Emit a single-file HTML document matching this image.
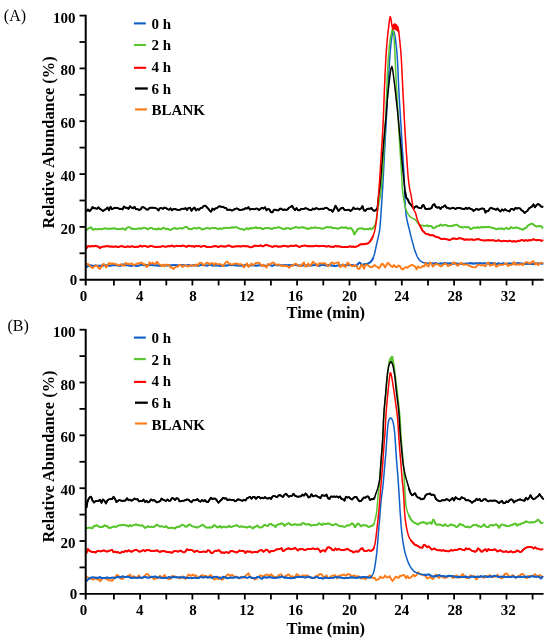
<!DOCTYPE html>
<html lang="en"><head><meta charset="utf-8"><title>Relative Abundance vs Time</title>
<style>
html,body{margin:0;padding:0;background:#fff;}
body{width:550px;height:644px;overflow:hidden;}
svg{display:block;}
text{font-family:"Liberation Serif","Times New Roman",Times,serif;fill:#000;}
.tk{font-size:15px;font-weight:bold;}
.tt{font-size:16.4px;font-weight:bold;}
.lg{font-size:15px;font-weight:bold;}
.pl{font-size:16px;font-weight:normal;}
</style></head><body>
<svg width="550" height="644" viewBox="0 0 550 644">
<rect width="550" height="644" fill="#ffffff"/>
<text x="3.8" y="21.3" class="pl">(A)</text>
<text x="7.4" y="331.3" class="pl">(B)</text>
<g id="chartA">
<path d="M86.5,267.0 L87.2,266.6 L88.0,266.2 L88.8,265.8 L89.5,265.7 L90.2,265.5 L91.0,265.3 L91.8,265.6 L92.5,265.8 L93.2,265.8 L94.0,265.8 L94.8,265.6 L95.5,265.5 L96.2,265.6 L97.0,265.8 L97.8,265.8 L98.5,265.8 L99.2,265.7 L100.0,265.7 L100.8,265.6 L101.5,265.6 L102.2,265.6 L103.0,265.6 L103.8,265.4 L104.5,265.3 L105.2,265.3 L106.0,265.4 L106.8,265.4 L107.5,265.4 L108.2,265.6 L109.0,265.7 L109.8,265.7 L110.5,265.6 L111.2,265.5 L112.0,265.4 L112.8,265.3 L113.5,265.2 L114.2,265.3 L115.0,265.3 L115.8,265.3 L116.5,265.3 L117.2,265.4 L118.0,265.4 L118.8,265.6 L119.5,265.8 L120.2,265.7 L121.0,265.6 L121.8,265.0 L122.5,264.5 L123.2,264.5 L124.0,264.6 L124.8,264.9 L125.5,265.2 L126.2,265.2 L127.0,265.2 L127.8,265.3 L128.5,265.4 L129.2,265.5 L130.0,265.6 L130.8,265.8 L131.5,266.0 L132.2,265.6 L133.0,265.2 L133.8,265.3 L134.5,265.3 L135.2,265.7 L136.0,266.0 L136.8,265.9 L137.5,265.7 L138.2,265.6 L139.0,265.5 L139.8,265.3 L140.5,265.1 L141.2,264.9 L142.0,264.8 L142.8,265.0 L143.5,265.3 L144.2,265.3 L145.0,265.3 L145.8,265.2 L146.5,265.0 L147.2,265.0 L148.0,265.1 L148.8,265.1 L149.5,265.2 L150.2,265.1 L151.0,265.0 L151.8,265.1 L152.5,265.2 L153.2,265.3 L154.0,265.3 L154.8,265.4 L155.5,265.4 L156.2,265.4 L157.0,265.3 L157.8,265.5 L158.5,265.7 L159.2,265.8 L160.0,265.8 L160.8,265.7 L161.5,265.6 L162.2,265.4 L163.0,265.2 L163.8,265.4 L164.5,265.5 L165.2,265.4 L166.0,265.3 L166.8,265.4 L167.5,265.5 L168.2,265.3 L169.0,265.1 L169.8,265.3 L170.5,265.5 L171.2,265.4 L172.0,265.3 L172.8,265.1 L173.5,264.9 L174.2,265.0 L175.0,265.2 L175.8,265.2 L176.5,265.3 L177.2,265.3 L178.0,265.4 L178.8,265.2 L179.5,265.0 L180.2,265.0 L181.0,265.0 L181.8,265.1 L182.5,265.3 L183.2,265.3 L184.0,265.3 L184.8,265.4 L185.5,265.5 L186.2,265.5 L187.0,265.5 L187.8,265.2 L188.5,264.9 L189.2,265.2 L190.0,265.4 L190.8,265.6 L191.5,265.7 L192.2,265.5 L193.0,265.3 L193.8,265.2 L194.5,265.1 L195.2,265.3 L196.0,265.5 L196.8,265.5 L197.5,265.5 L198.2,265.5 L199.0,265.6 L199.8,265.4 L200.5,265.2 L201.2,265.0 L202.0,264.9 L202.8,265.0 L203.5,265.2 L204.2,265.2 L205.0,265.3 L205.8,265.4 L206.5,265.6 L207.2,265.5 L208.0,265.4 L208.8,265.1 L209.5,264.8 L210.2,264.9 L211.0,265.0 L211.8,265.3 L212.5,265.6 L213.2,265.6 L214.0,265.6 L214.8,265.4 L215.5,265.3 L216.2,265.4 L217.0,265.4 L217.8,265.5 L218.5,265.6 L219.2,265.7 L220.0,265.7 L220.8,265.8 L221.5,265.8 L222.2,265.7 L223.0,265.6 L223.8,265.5 L224.5,265.5 L225.2,265.5 L226.0,265.5 L226.8,265.5 L227.5,265.6 L228.2,265.2 L229.0,264.8 L229.8,265.0 L230.5,265.2 L231.2,265.3 L232.0,265.3 L232.8,265.2 L233.5,265.0 L234.2,265.2 L235.0,265.4 L235.8,265.4 L236.5,265.3 L237.2,265.5 L238.0,265.6 L238.8,265.5 L239.5,265.4 L240.2,265.5 L241.0,265.6 L241.8,265.7 L242.5,265.7 L243.2,265.6 L244.0,265.5 L244.8,265.2 L245.5,265.0 L246.2,265.0 L247.0,265.0 L247.8,265.4 L248.5,265.9 L249.2,265.7 L250.0,265.5 L250.8,265.3 L251.5,265.2 L252.2,265.3 L253.0,265.4 L253.8,265.4 L254.5,265.4 L255.2,265.5 L256.0,265.7 L256.8,265.6 L257.5,265.5 L258.2,265.4 L259.0,265.4 L259.8,265.3 L260.5,265.3 L261.2,265.4 L262.0,265.5 L262.8,265.4 L263.5,265.3 L264.2,265.5 L265.0,265.8 L265.8,265.9 L266.5,265.9 L267.2,265.4 L268.0,264.9 L268.8,264.8 L269.5,264.6 L270.2,265.0 L271.0,265.5 L271.8,265.7 L272.5,265.9 L273.2,265.5 L274.0,265.0 L274.8,265.0 L275.5,264.9 L276.2,265.2 L277.0,265.4 L277.8,265.3 L278.5,265.2 L279.2,265.2 L280.0,265.2 L280.8,265.2 L281.5,265.3 L282.2,265.4 L283.0,265.4 L283.8,265.3 L284.5,265.2 L285.2,265.3 L286.0,265.4 L286.8,265.3 L287.5,265.3 L288.2,265.2 L289.0,265.1 L289.8,265.2 L290.5,265.2 L291.2,265.2 L292.0,265.1 L292.8,265.2 L293.5,265.2 L294.2,265.1 L295.0,264.9 L295.8,264.9 L296.5,265.0 L297.2,265.3 L298.0,265.7 L298.8,265.5 L299.5,265.4 L300.2,265.4 L301.0,265.4 L301.8,265.4 L302.5,265.5 L303.2,265.4 L304.0,265.3 L304.8,265.3 L305.5,265.3 L306.2,265.4 L307.0,265.5 L307.8,265.5 L308.5,265.5 L309.2,265.3 L310.0,265.1 L310.8,265.4 L311.5,265.6 L312.2,265.4 L313.0,265.3 L313.8,265.1 L314.5,265.0 L315.2,265.1 L316.0,265.1 L316.8,265.2 L317.5,265.4 L318.2,265.6 L319.0,265.8 L319.8,265.5 L320.5,265.2 L321.2,265.2 L322.0,265.2 L322.8,265.0 L323.5,264.7 L324.2,265.0 L325.0,265.3 L325.8,265.4 L326.5,265.6 L327.2,265.4 L328.0,265.3 L328.8,265.2 L329.5,265.1 L330.2,265.3 L331.0,265.4 L331.8,265.5 L332.5,265.6 L333.2,265.7 L334.0,265.8 L334.8,265.9 L335.5,266.1 L336.2,265.8 L337.0,265.6 L337.8,265.5 L338.5,265.3 L339.2,265.3 L340.0,265.4 L340.8,265.4 L341.5,265.4 L342.2,265.4 L343.0,265.4 L343.8,265.4 L344.5,265.4 L345.2,265.3 L346.0,265.3 L346.8,265.1 L347.5,264.9 L348.2,265.1 L349.0,265.3 L349.8,265.2 L350.5,265.0 L351.2,264.9 L352.0,264.9 L352.8,265.1 L353.5,265.4 L354.2,265.6 L355.0,265.7 L355.8,265.6 L356.5,265.4 L357.2,264.8 L358.0,263.9 L358.8,263.1 L359.5,262.6 L360.2,263.0 L361.0,264.0 L361.8,264.5 L362.5,264.9 L363.2,264.7 L364.0,264.3 L364.8,264.2 L365.5,264.1 L366.2,264.1 L367.0,264.0 L367.8,263.7 L368.5,263.2 L369.2,262.9 L370.0,262.4 L370.8,261.7 L371.5,260.9 L372.2,259.8 L373.0,258.3 L373.8,256.3 L374.5,254.0 L375.2,250.9 L376.0,247.0 L376.8,243.4 L377.5,240.4 L378.2,237.4 L379.0,233.7 L379.8,228.9 L380.5,220.8 L381.2,210.1 L382.0,198.0 L382.8,186.0 L383.5,172.8 L384.2,158.5 L385.0,143.9 L385.8,129.6 L386.5,115.7 L387.2,101.2 L388.0,86.9 L388.8,73.3 L389.5,61.4 L390.2,51.7 L391.0,43.4 L391.8,37.5 L392.5,32.9 L393.2,30.5 L394.0,31.8 L394.8,35.1 L395.5,39.3 L396.2,45.3 L397.0,53.5 L397.8,66.1 L398.5,83.0 L399.2,97.0 L400.0,110.0 L400.8,122.9 L401.5,135.1 L402.2,146.7 L403.0,158.4 L403.8,171.1 L404.5,185.7 L405.2,206.2 L406.0,214.5 L406.8,218.8 L407.5,222.3 L408.2,225.2 L409.0,228.3 L409.8,231.4 L410.5,234.4 L411.2,237.4 L412.0,240.2 L412.8,243.1 L413.5,245.9 L414.2,248.5 L415.0,250.9 L415.8,252.9 L416.5,254.8 L417.2,256.5 L418.0,258.0 L418.8,259.2 L419.5,260.0 L420.2,260.8 L421.0,261.4 L421.8,261.9 L422.5,262.2 L423.2,262.5 L424.0,262.7 L424.8,262.8 L425.5,263.0 L426.2,263.1 L427.0,263.2 L427.8,263.2 L428.5,263.3 L429.2,263.3 L430.0,263.3 L430.8,263.4 L431.5,263.4 L432.2,263.5 L433.0,263.5 L433.8,263.5 L434.5,263.4 L435.2,263.3 L436.0,263.0 L436.8,263.4 L437.5,263.7 L438.2,263.7 L439.0,263.7 L439.8,263.5 L440.5,263.3 L441.2,263.5 L442.0,263.7 L442.8,263.5 L443.5,263.3 L444.2,263.2 L445.0,263.2 L445.8,263.3 L446.5,263.4 L447.2,263.5 L448.0,263.5 L448.8,263.5 L449.5,263.5 L450.2,263.4 L451.0,263.2 L451.8,263.6 L452.5,264.0 L453.2,263.8 L454.0,263.5 L454.8,263.3 L455.5,263.2 L456.2,263.5 L457.0,263.7 L457.8,263.7 L458.5,263.6 L459.2,263.7 L460.0,263.8 L460.8,263.7 L461.5,263.6 L462.2,263.7 L463.0,263.7 L463.8,263.8 L464.5,263.8 L465.2,263.7 L466.0,263.5 L466.8,263.6 L467.5,263.7 L468.2,263.6 L469.0,263.4 L469.8,263.3 L470.5,263.2 L471.2,263.3 L472.0,263.5 L472.8,263.5 L473.5,263.6 L474.2,263.5 L475.0,263.4 L475.8,263.4 L476.5,263.3 L477.2,263.5 L478.0,263.6 L478.8,263.3 L479.5,263.1 L480.2,263.2 L481.0,263.3 L481.8,263.4 L482.5,263.6 L483.2,263.4 L484.0,263.3 L484.8,263.4 L485.5,263.5 L486.2,263.5 L487.0,263.6 L487.8,263.6 L488.5,263.7 L489.2,263.5 L490.0,263.2 L490.8,263.2 L491.5,263.3 L492.2,263.3 L493.0,263.4 L493.8,263.2 L494.5,263.0 L495.2,263.6 L496.0,264.3 L496.8,263.9 L497.5,263.5 L498.2,263.5 L499.0,263.4 L499.8,263.6 L500.5,263.9 L501.2,263.7 L502.0,263.6 L502.8,263.4 L503.5,263.2 L504.2,263.5 L505.0,263.8 L505.8,263.9 L506.5,264.0 L507.2,263.8 L508.0,263.6 L508.8,263.5 L509.5,263.5 L510.2,263.6 L511.0,263.6 L511.8,263.5 L512.5,263.3 L513.2,263.5 L514.0,263.7 L514.8,263.6 L515.5,263.6 L516.2,263.5 L517.0,263.3 L517.8,263.3 L518.5,263.2 L519.2,263.3 L520.0,263.4 L520.8,263.4 L521.5,263.4 L522.2,263.6 L523.0,263.9 L523.8,263.8 L524.5,263.8 L525.2,263.8 L526.0,263.9 L526.8,263.8 L527.5,263.8 L528.2,263.8 L529.0,263.7 L529.8,263.7 L530.5,263.6 L531.2,263.8 L532.0,264.0 L532.8,264.1 L533.5,264.2 L534.2,263.9 L535.0,263.6 L535.8,263.5 L536.5,263.4 L537.2,263.4 L538.0,263.5 L538.8,263.5 L539.5,263.4 L540.2,263.4 L541.0,263.4 L541.8,263.5 L542.5,263.7" fill="none" stroke="#0f5fc8" stroke-width="1.5" stroke-linejoin="round" stroke-linecap="round"/><path d="M86.5,267.0 L87.2,266.6 L88.0,266.2 L88.8,265.8 L89.5,265.7 L90.2,265.5 L91.0,265.3 L91.8,265.6 L92.5,265.8 L93.2,265.8 L94.0,265.8 L94.8,265.6 L95.5,265.5 L96.2,265.6 L97.0,265.8 L97.8,265.8 L98.5,265.8 L99.2,265.7 L100.0,265.7 L100.8,265.6 L101.5,265.6 L102.2,265.6 L103.0,265.6 L103.8,265.4 L104.5,265.3 L105.2,265.3 L106.0,265.4 L106.8,265.4 L107.5,265.4 L108.2,265.6 L109.0,265.7 L109.8,265.7 L110.5,265.6 L111.2,265.5 L112.0,265.4 L112.8,265.3 L113.5,265.2 L114.2,265.3 L115.0,265.3 L115.8,265.3 L116.5,265.3 L117.2,265.4 L118.0,265.4 L118.8,265.6 L119.5,265.8 L120.2,265.7 L121.0,265.6 L121.8,265.0 L122.5,264.5 L123.2,264.5 L124.0,264.6 L124.8,264.9 L125.5,265.2 L126.2,265.2 L127.0,265.2 L127.8,265.3 L128.5,265.4 L129.2,265.5 L130.0,265.6 L130.8,265.8 L131.5,266.0 L132.2,265.6 L133.0,265.2 L133.8,265.3 L134.5,265.3 L135.2,265.7 L136.0,266.0 L136.8,265.9 L137.5,265.7 L138.2,265.6 L139.0,265.5 L139.8,265.3 L140.5,265.1 L141.2,264.9 L142.0,264.8 L142.8,265.0 L143.5,265.3 L144.2,265.3 L145.0,265.3 L145.8,265.2 L146.5,265.0 L147.2,265.0 L148.0,265.1 L148.8,265.1 L149.5,265.2 L150.2,265.1 L151.0,265.0 L151.8,265.1 L152.5,265.2 L153.2,265.3 L154.0,265.3 L154.8,265.4 L155.5,265.4 L156.2,265.4 L157.0,265.3 L157.8,265.5 L158.5,265.7 L159.2,265.8 L160.0,265.8 L160.8,265.7 L161.5,265.6 L162.2,265.4 L163.0,265.2 L163.8,265.4 L164.5,265.5 L165.2,265.4 L166.0,265.3 L166.8,265.4 L167.5,265.5 L168.2,265.3 L169.0,265.1 L169.8,265.3 L170.5,265.5 L171.2,265.4 L172.0,265.3 L172.8,265.1 L173.5,264.9 L174.2,265.0 L175.0,265.2 L175.8,265.2 L176.5,265.3 L177.2,265.3 L178.0,265.4 L178.8,265.2 L179.5,265.0 L180.2,265.0 L181.0,265.0 L181.8,265.1 L182.5,265.3 L183.2,265.3 L184.0,265.3 L184.8,265.4 L185.5,265.5 L186.2,265.5 L187.0,265.5 L187.8,265.2 L188.5,264.9 L189.2,265.2 L190.0,265.4 L190.8,265.6 L191.5,265.7 L192.2,265.5 L193.0,265.3 L193.8,265.2 L194.5,265.1 L195.2,265.3 L196.0,265.5 L196.8,265.5 L197.5,265.5 L198.2,265.5 L199.0,265.6 L199.8,265.4 L200.5,265.2 L201.2,265.0 L202.0,264.9 L202.8,265.0 L203.5,265.2 L204.2,265.2 L205.0,265.3 L205.8,265.4 L206.5,265.6 L207.2,265.5 L208.0,265.4 L208.8,265.1 L209.5,264.8 L210.2,264.9 L211.0,265.0 L211.8,265.3 L212.5,265.6 L213.2,265.6 L214.0,265.6 L214.8,265.4 L215.5,265.3 L216.2,265.4 L217.0,265.4 L217.8,265.5 L218.5,265.6 L219.2,265.7 L220.0,265.7 L220.8,265.8 L221.5,265.8 L222.2,265.7 L223.0,265.6 L223.8,265.5 L224.5,265.5 L225.2,265.5 L226.0,265.5 L226.8,265.5 L227.5,265.6 L228.2,265.2 L229.0,264.8 L229.8,265.0 L230.5,265.2 L231.2,265.3 L232.0,265.3 L232.8,265.2 L233.5,265.0 L234.2,265.2 L235.0,265.4 L235.8,265.4 L236.5,265.3 L237.2,265.5 L238.0,265.6 L238.8,265.5 L239.5,265.4 L240.2,265.5 L241.0,265.6 L241.8,265.7 L242.5,265.7 L243.2,265.6 L244.0,265.5 L244.8,265.2 L245.5,265.0 L246.2,265.0 L247.0,265.0 L247.8,265.4 L248.5,265.9 L249.2,265.7 L250.0,265.5 L250.8,265.3 L251.5,265.2 L252.2,265.3 L253.0,265.4 L253.8,265.4 L254.5,265.4 L255.2,265.5 L256.0,265.7 L256.8,265.6 L257.5,265.5 L258.2,265.4 L259.0,265.4 L259.8,265.3 L260.5,265.3 L261.2,265.4 L262.0,265.5 L262.8,265.4 L263.5,265.3 L264.2,265.5 L265.0,265.8 L265.8,265.9 L266.5,265.9 L267.2,265.4 L268.0,264.9 L268.8,264.8 L269.5,264.6 L270.2,265.0 L271.0,265.5 L271.8,265.7 L272.5,265.9 L273.2,265.5 L274.0,265.0 L274.8,265.0 L275.5,264.9 L276.2,265.2 L277.0,265.4 L277.8,265.3 L278.5,265.2 L279.2,265.2 L280.0,265.2 L280.8,265.2 L281.5,265.3 L282.2,265.4 L283.0,265.4 L283.8,265.3 L284.5,265.2 L285.2,265.3 L286.0,265.4 L286.8,265.3 L287.5,265.3 L288.2,265.2 L289.0,265.1 L289.8,265.2 L290.5,265.2 L291.2,265.2 L292.0,265.1 L292.8,265.2 L293.5,265.2 L294.2,265.1 L295.0,264.9 L295.8,264.9 L296.5,265.0 L297.2,265.3 L298.0,265.7 L298.8,265.5 L299.5,265.4 L300.2,265.4 L301.0,265.4 L301.8,265.4 L302.5,265.5 L303.2,265.4 L304.0,265.3 L304.8,265.3 L305.5,265.3 L306.2,265.4 L307.0,265.5 L307.8,265.5 L308.5,265.5 L309.2,265.3 L310.0,265.1 L310.8,265.4 L311.5,265.6 L312.2,265.4 L313.0,265.3 L313.8,265.1 L314.5,265.0 L315.2,265.1 L316.0,265.1 L316.8,265.2 L317.5,265.4 L318.2,265.6 L319.0,265.8 L319.8,265.5 L320.5,265.2 L321.2,265.2 L322.0,265.2 L322.8,265.0 L323.5,264.7 L324.2,265.0 L325.0,265.3 L325.8,265.4 L326.5,265.6 L327.2,265.4 L328.0,265.3 L328.8,265.2 L329.5,265.1 L330.2,265.3 L331.0,265.4 L331.8,265.5 L332.5,265.6 L333.2,265.7 L334.0,265.8 L334.8,265.9 L335.5,266.1 L336.2,265.8 L337.0,265.6 L337.8,265.5 L338.5,265.3 L339.2,265.3 L340.0,265.4 L340.8,265.4 L341.5,265.4 L342.2,265.4 L343.0,265.4 L343.8,265.4 L344.5,265.4 L345.2,265.3 L346.0,265.3 L346.8,265.1 L347.5,264.9 L348.2,265.1 L349.0,265.3 L349.8,265.2 L350.5,265.0 L351.2,264.9 L352.0,264.9 L352.8,265.1 L353.5,265.4 L354.2,265.6 L355.0,265.7 L355.8,265.6 L356.5,265.4 L357.2,264.8 L358.0,263.9 L358.8,263.1 L359.5,262.6 L360.2,263.0 L361.0,264.0 L361.8,264.5 L362.5,264.9 L363.2,264.7 L364.0,264.3 L364.8,264.2 L365.5,264.1 L366.2,264.1 L367.0,264.0 L367.8,263.7 L368.5,263.2 L369.2,262.9 L370.0,262.4 L370.8,261.7 L371.5,260.9 L372.2,259.8 L373.0,258.3" fill="none" stroke="#0f5fc8" stroke-width="1.9" stroke-linejoin="round" stroke-linecap="round"/><path d="M431.5,263.4 L432.2,263.5 L433.0,263.5 L433.8,263.5 L434.5,263.4 L435.2,263.3 L436.0,263.0 L436.8,263.4 L437.5,263.7 L438.2,263.7 L439.0,263.7 L439.8,263.5 L440.5,263.3 L441.2,263.5 L442.0,263.7 L442.8,263.5 L443.5,263.3 L444.2,263.2 L445.0,263.2 L445.8,263.3 L446.5,263.4 L447.2,263.5 L448.0,263.5 L448.8,263.5 L449.5,263.5 L450.2,263.4 L451.0,263.2 L451.8,263.6 L452.5,264.0 L453.2,263.8 L454.0,263.5 L454.8,263.3 L455.5,263.2 L456.2,263.5 L457.0,263.7 L457.8,263.7 L458.5,263.6 L459.2,263.7 L460.0,263.8 L460.8,263.7 L461.5,263.6 L462.2,263.7 L463.0,263.7 L463.8,263.8 L464.5,263.8 L465.2,263.7 L466.0,263.5 L466.8,263.6 L467.5,263.7 L468.2,263.6 L469.0,263.4 L469.8,263.3 L470.5,263.2 L471.2,263.3 L472.0,263.5 L472.8,263.5 L473.5,263.6 L474.2,263.5 L475.0,263.4 L475.8,263.4 L476.5,263.3 L477.2,263.5 L478.0,263.6 L478.8,263.3 L479.5,263.1 L480.2,263.2 L481.0,263.3 L481.8,263.4 L482.5,263.6 L483.2,263.4 L484.0,263.3 L484.8,263.4 L485.5,263.5 L486.2,263.5 L487.0,263.6 L487.8,263.6 L488.5,263.7 L489.2,263.5 L490.0,263.2 L490.8,263.2 L491.5,263.3 L492.2,263.3 L493.0,263.4 L493.8,263.2 L494.5,263.0 L495.2,263.6 L496.0,264.3 L496.8,263.9 L497.5,263.5 L498.2,263.5 L499.0,263.4 L499.8,263.6 L500.5,263.9 L501.2,263.7 L502.0,263.6 L502.8,263.4 L503.5,263.2 L504.2,263.5 L505.0,263.8 L505.8,263.9 L506.5,264.0 L507.2,263.8 L508.0,263.6 L508.8,263.5 L509.5,263.5 L510.2,263.6 L511.0,263.6 L511.8,263.5 L512.5,263.3 L513.2,263.5 L514.0,263.7 L514.8,263.6 L515.5,263.6 L516.2,263.5 L517.0,263.3 L517.8,263.3 L518.5,263.2 L519.2,263.3 L520.0,263.4 L520.8,263.4 L521.5,263.4 L522.2,263.6 L523.0,263.9 L523.8,263.8 L524.5,263.8 L525.2,263.8 L526.0,263.9 L526.8,263.8 L527.5,263.8 L528.2,263.8 L529.0,263.7 L529.8,263.7 L530.5,263.6 L531.2,263.8 L532.0,264.0 L532.8,264.1 L533.5,264.2 L534.2,263.9 L535.0,263.6 L535.8,263.5 L536.5,263.4 L537.2,263.4 L538.0,263.5 L538.8,263.5 L539.5,263.4 L540.2,263.4 L541.0,263.4 L541.8,263.5 L542.5,263.7" fill="none" stroke="#0f5fc8" stroke-width="1.9" stroke-linejoin="round" stroke-linecap="round"/>
<path d="M86.5,230.2 L87.2,229.5 L88.0,228.8 L88.8,228.3 L89.5,228.1 L90.2,227.7 L91.0,227.3 L91.8,228.4 L92.5,229.5 L93.2,229.5 L94.0,229.5 L94.8,229.2 L95.5,228.8 L96.2,229.1 L97.0,229.4 L97.8,229.3 L98.5,229.2 L99.2,229.0 L100.0,228.8 L100.8,229.1 L101.5,229.4 L102.2,229.1 L103.0,228.7 L103.8,228.6 L104.5,228.4 L105.2,228.4 L106.0,228.3 L106.8,228.6 L107.5,228.9 L108.2,228.8 L109.0,228.8 L109.8,228.8 L110.5,228.9 L111.2,228.6 L112.0,228.4 L112.8,228.5 L113.5,228.6 L114.2,228.4 L115.0,228.3 L115.8,228.7 L116.5,229.2 L117.2,229.1 L118.0,229.0 L118.8,229.0 L119.5,229.0 L120.2,229.0 L121.0,228.9 L121.8,228.6 L122.5,228.3 L123.2,228.8 L124.0,229.3 L124.8,229.5 L125.5,229.8 L126.2,228.7 L127.0,227.7 L127.8,227.4 L128.5,227.1 L129.2,227.3 L130.0,227.5 L130.8,228.1 L131.5,228.8 L132.2,228.8 L133.0,228.7 L133.8,228.9 L134.5,229.1 L135.2,229.0 L136.0,229.0 L136.8,228.8 L137.5,228.6 L138.2,228.6 L139.0,228.5 L139.8,228.5 L140.5,228.4 L141.2,228.5 L142.0,228.7 L142.8,228.2 L143.5,227.7 L144.2,227.8 L145.0,227.9 L145.8,228.2 L146.5,228.6 L147.2,229.0 L148.0,229.4 L148.8,228.7 L149.5,228.1 L150.2,227.9 L151.0,227.8 L151.8,228.1 L152.5,228.3 L153.2,228.8 L154.0,229.3 L154.8,229.1 L155.5,229.0 L156.2,229.2 L157.0,229.5 L157.8,228.9 L158.5,228.2 L159.2,228.8 L160.0,229.4 L160.8,229.3 L161.5,229.2 L162.2,228.5 L163.0,227.7 L163.8,228.0 L164.5,228.3 L165.2,228.7 L166.0,229.0 L166.8,228.9 L167.5,228.7 L168.2,229.0 L169.0,229.4 L169.8,229.8 L170.5,230.1 L171.2,229.6 L172.0,229.0 L172.8,228.7 L173.5,228.4 L174.2,228.3 L175.0,228.2 L175.8,228.5 L176.5,228.9 L177.2,228.7 L178.0,228.5 L178.8,228.4 L179.5,228.3 L180.2,228.3 L181.0,228.4 L181.8,228.4 L182.5,228.5 L183.2,228.1 L184.0,227.6 L184.8,227.3 L185.5,227.0 L186.2,227.0 L187.0,227.0 L187.8,228.0 L188.5,228.9 L189.2,228.9 L190.0,228.8 L190.8,229.1 L191.5,229.3 L192.2,228.8 L193.0,228.4 L193.8,228.1 L194.5,227.8 L195.2,228.2 L196.0,228.5 L196.8,228.4 L197.5,228.3 L198.2,228.0 L199.0,227.7 L199.8,228.0 L200.5,228.2 L201.2,228.9 L202.0,229.6 L202.8,229.3 L203.5,229.0 L204.2,228.8 L205.0,228.6 L205.8,228.4 L206.5,228.1 L207.2,228.0 L208.0,228.0 L208.8,228.4 L209.5,228.8 L210.2,228.6 L211.0,228.3 L211.8,228.1 L212.5,227.9 L213.2,228.0 L214.0,228.1 L214.8,228.0 L215.5,227.9 L216.2,228.3 L217.0,228.6 L217.8,228.9 L218.5,229.1 L219.2,228.7 L220.0,228.3 L220.8,228.7 L221.5,229.0 L222.2,228.6 L223.0,228.1 L223.8,228.1 L224.5,228.2 L225.2,227.9 L226.0,227.7 L226.8,227.8 L227.5,227.9 L228.2,227.9 L229.0,228.0 L229.8,227.8 L230.5,227.6 L231.2,227.5 L232.0,227.4 L232.8,227.5 L233.5,227.5 L234.2,227.4 L235.0,227.4 L235.8,227.2 L236.5,227.1 L237.2,227.5 L238.0,227.9 L238.8,228.3 L239.5,228.6 L240.2,228.8 L241.0,229.0 L241.8,229.1 L242.5,229.2 L243.2,229.6 L244.0,230.0 L244.8,229.4 L245.5,228.8 L246.2,228.5 L247.0,228.3 L247.8,228.7 L248.5,229.2 L249.2,228.6 L250.0,228.0 L250.8,228.3 L251.5,228.6 L252.2,228.2 L253.0,227.9 L253.8,228.0 L254.5,228.1 L255.2,227.6 L256.0,227.2 L256.8,227.8 L257.5,228.4 L258.2,228.2 L259.0,227.9 L259.8,227.8 L260.5,227.6 L261.2,228.3 L262.0,229.0 L262.8,228.9 L263.5,228.8 L264.2,228.5 L265.0,228.2 L265.8,228.0 L266.5,227.8 L267.2,227.9 L268.0,228.1 L268.8,228.2 L269.5,228.2 L270.2,228.5 L271.0,228.8 L271.8,228.8 L272.5,228.8 L273.2,228.3 L274.0,227.9 L274.8,227.8 L275.5,227.7 L276.2,227.7 L277.0,227.6 L277.8,227.4 L278.5,227.2 L279.2,227.4 L280.0,227.7 L280.8,228.0 L281.5,228.3 L282.2,228.6 L283.0,229.0 L283.8,229.1 L284.5,229.2 L285.2,228.7 L286.0,228.1 L286.8,228.3 L287.5,228.4 L288.2,228.3 L289.0,228.2 L289.8,228.7 L290.5,229.2 L291.2,228.7 L292.0,228.3 L292.8,228.2 L293.5,228.1 L294.2,227.7 L295.0,227.3 L295.8,227.2 L296.5,227.2 L297.2,227.5 L298.0,227.7 L298.8,227.7 L299.5,227.6 L300.2,227.6 L301.0,227.7 L301.8,227.3 L302.5,226.9 L303.2,227.4 L304.0,227.9 L304.8,227.8 L305.5,227.7 L306.2,228.3 L307.0,228.9 L307.8,228.7 L308.5,228.4 L309.2,228.5 L310.0,228.6 L310.8,228.0 L311.5,227.4 L312.2,227.7 L313.0,228.0 L313.8,227.7 L314.5,227.4 L315.2,227.5 L316.0,227.6 L316.8,227.7 L317.5,227.9 L318.2,227.9 L319.0,227.9 L319.8,228.1 L320.5,228.3 L321.2,228.5 L322.0,228.6 L322.8,228.6 L323.5,228.5 L324.2,228.2 L325.0,227.8 L325.8,227.4 L326.5,227.0 L327.2,227.2 L328.0,227.3 L328.8,227.4 L329.5,227.5 L330.2,227.2 L331.0,226.9 L331.8,227.6 L332.5,228.3 L333.2,228.1 L334.0,228.0 L334.8,228.0 L335.5,228.0 L336.2,228.3 L337.0,228.6 L337.8,228.6 L338.5,228.5 L339.2,228.2 L340.0,228.0 L340.8,227.6 L341.5,227.2 L342.2,227.5 L343.0,227.7 L343.8,227.7 L344.5,227.7 L345.2,227.5 L346.0,227.3 L346.8,227.9 L347.5,228.5 L348.2,228.5 L349.0,228.5 L349.8,228.1 L350.5,227.8 L351.2,228.5 L352.0,229.3 L352.8,230.3 L353.5,231.9 L354.2,234.4 L355.0,233.5 L355.8,232.0 L356.5,231.1 L357.2,229.9 L358.0,229.0 L358.8,228.7 L359.5,228.4 L360.2,228.4 L361.0,228.5 L361.8,228.4 L362.5,228.3 L363.2,228.8 L364.0,229.4 L364.8,229.3 L365.5,229.2 L366.2,229.1 L367.0,228.9 L367.8,229.1 L368.5,229.2 L369.2,228.7 L370.0,228.2 L370.8,228.8 L371.5,229.2 L372.2,228.9 L373.0,228.1 L373.8,227.0 L374.5,225.9 L375.2,224.2 L376.0,221.4 L376.8,216.7 L377.5,211.3 L378.2,206.6 L379.0,202.6 L379.8,198.8 L380.5,194.4 L381.2,188.7 L382.0,180.5 L382.8,170.0 L383.5,157.7 L384.2,144.3 L385.0,130.5 L385.8,115.8 L386.5,97.6 L387.2,78.9 L388.0,63.1 L388.8,52.8 L389.5,45.0 L390.2,39.1 L391.0,34.8 L391.8,31.0 L392.5,28.7 L393.2,29.8 L394.0,36.0 L394.8,51.3 L395.5,67.0 L396.2,81.8 L397.0,96.3 L397.8,110.3 L398.5,123.8 L399.2,136.8 L400.0,149.3 L400.8,161.6 L401.5,173.6 L402.2,185.9 L403.0,194.6 L403.8,199.9 L404.5,203.8 L405.2,206.9 L406.0,209.4 L406.8,211.5 L407.5,213.2 L408.2,214.4 L409.0,215.4 L409.8,216.2 L410.5,216.9 L411.2,217.5 L412.0,218.0 L412.8,218.4 L413.5,218.7 L414.2,219.1 L415.0,219.6 L415.8,220.4 L416.5,221.3 L417.2,222.3 L418.0,223.3 L418.8,224.2 L419.5,224.8 L420.2,225.1 L421.0,225.3 L421.8,225.5 L422.5,225.6 L423.2,225.8 L424.0,225.9 L424.8,225.9 L425.5,225.8 L426.2,225.6 L427.0,225.3 L427.8,225.7 L428.5,226.4 L429.2,226.1 L430.0,225.8 L430.8,226.0 L431.5,226.2 L432.2,227.1 L433.0,228.1 L433.8,228.1 L434.5,228.0 L435.2,227.4 L436.0,226.9 L436.8,226.4 L437.5,225.9 L438.2,225.9 L439.0,225.9 L439.8,225.2 L440.5,224.5 L441.2,225.0 L442.0,225.5 L442.8,225.4 L443.5,225.4 L444.2,225.2 L445.0,225.0 L445.8,225.1 L446.5,225.2 L447.2,225.7 L448.0,226.2 L448.8,226.1 L449.5,226.0 L450.2,226.0 L451.0,226.0 L451.8,226.0 L452.5,226.1 L453.2,225.6 L454.0,225.2 L454.8,225.0 L455.5,224.9 L456.2,224.8 L457.0,224.8 L457.8,225.4 L458.5,226.0 L459.2,226.5 L460.0,227.0 L460.8,227.0 L461.5,227.0 L462.2,227.3 L463.0,227.5 L463.8,227.2 L464.5,226.9 L465.2,227.1 L466.0,227.2 L466.8,227.2 L467.5,227.2 L468.2,227.3 L469.0,227.4 L469.8,228.2 L470.5,229.1 L471.2,228.9 L472.0,228.7 L472.8,228.2 L473.5,227.6 L474.2,227.6 L475.0,227.6 L475.8,227.7 L476.5,227.8 L477.2,227.5 L478.0,227.2 L478.8,227.6 L479.5,227.9 L480.2,227.5 L481.0,227.1 L481.8,227.2 L482.5,227.2 L483.2,227.2 L484.0,227.1 L484.8,227.2 L485.5,227.3 L486.2,227.2 L487.0,227.0 L487.8,226.9 L488.5,226.9 L489.2,227.1 L490.0,227.3 L490.8,227.4 L491.5,227.6 L492.2,227.7 L493.0,227.9 L493.8,228.1 L494.5,228.4 L495.2,228.8 L496.0,229.3 L496.8,229.1 L497.5,229.0 L498.2,228.7 L499.0,228.4 L499.8,228.6 L500.5,228.8 L501.2,228.5 L502.0,228.3 L502.8,228.8 L503.5,229.3 L504.2,229.0 L505.0,228.7 L505.8,228.2 L506.5,227.7 L507.2,228.3 L508.0,228.9 L508.8,228.9 L509.5,228.8 L510.2,228.0 L511.0,227.1 L511.8,227.5 L512.5,227.9 L513.2,228.0 L514.0,228.1 L514.8,227.8 L515.5,227.4 L516.2,227.5 L517.0,227.7 L517.8,227.8 L518.5,228.0 L519.2,228.4 L520.0,228.8 L520.8,228.9 L521.5,229.0 L522.2,229.5 L523.0,229.8 L523.8,229.1 L524.5,228.3 L525.2,228.3 L526.0,228.0 L526.8,227.0 L527.5,226.0 L528.2,225.3 L529.0,224.9 L529.8,224.5 L530.5,224.0 L531.2,223.8 L532.0,223.6 L532.8,224.1 L533.5,224.6 L534.2,225.2 L535.0,225.9 L535.8,226.2 L536.5,226.6 L537.2,226.4 L538.0,226.3 L538.8,226.2 L539.5,226.2 L540.2,226.1 L541.0,226.1 L541.8,226.9 L542.5,227.8" fill="none" stroke="#58c62c" stroke-width="1.5" stroke-linejoin="round" stroke-linecap="round"/><path d="M86.5,230.2 L87.2,229.5 L88.0,228.8 L88.8,228.3 L89.5,228.1 L90.2,227.7 L91.0,227.3 L91.8,228.4 L92.5,229.5 L93.2,229.5 L94.0,229.5 L94.8,229.2 L95.5,228.8 L96.2,229.1 L97.0,229.4 L97.8,229.3 L98.5,229.2 L99.2,229.0 L100.0,228.8 L100.8,229.1 L101.5,229.4 L102.2,229.1 L103.0,228.7 L103.8,228.6 L104.5,228.4 L105.2,228.4 L106.0,228.3 L106.8,228.6 L107.5,228.9 L108.2,228.8 L109.0,228.8 L109.8,228.8 L110.5,228.9 L111.2,228.6 L112.0,228.4 L112.8,228.5 L113.5,228.6 L114.2,228.4 L115.0,228.3 L115.8,228.7 L116.5,229.2 L117.2,229.1 L118.0,229.0 L118.8,229.0 L119.5,229.0 L120.2,229.0 L121.0,228.9 L121.8,228.6 L122.5,228.3 L123.2,228.8 L124.0,229.3 L124.8,229.5 L125.5,229.8 L126.2,228.7 L127.0,227.7 L127.8,227.4 L128.5,227.1 L129.2,227.3 L130.0,227.5 L130.8,228.1 L131.5,228.8 L132.2,228.8 L133.0,228.7 L133.8,228.9 L134.5,229.1 L135.2,229.0 L136.0,229.0 L136.8,228.8 L137.5,228.6 L138.2,228.6 L139.0,228.5 L139.8,228.5 L140.5,228.4 L141.2,228.5 L142.0,228.7 L142.8,228.2 L143.5,227.7 L144.2,227.8 L145.0,227.9 L145.8,228.2 L146.5,228.6 L147.2,229.0 L148.0,229.4 L148.8,228.7 L149.5,228.1 L150.2,227.9 L151.0,227.8 L151.8,228.1 L152.5,228.3 L153.2,228.8 L154.0,229.3 L154.8,229.1 L155.5,229.0 L156.2,229.2 L157.0,229.5 L157.8,228.9 L158.5,228.2 L159.2,228.8 L160.0,229.4 L160.8,229.3 L161.5,229.2 L162.2,228.5 L163.0,227.7 L163.8,228.0 L164.5,228.3 L165.2,228.7 L166.0,229.0 L166.8,228.9 L167.5,228.7 L168.2,229.0 L169.0,229.4 L169.8,229.8 L170.5,230.1 L171.2,229.6 L172.0,229.0 L172.8,228.7 L173.5,228.4 L174.2,228.3 L175.0,228.2 L175.8,228.5 L176.5,228.9 L177.2,228.7 L178.0,228.5 L178.8,228.4 L179.5,228.3 L180.2,228.3 L181.0,228.4 L181.8,228.4 L182.5,228.5 L183.2,228.1 L184.0,227.6 L184.8,227.3 L185.5,227.0 L186.2,227.0 L187.0,227.0 L187.8,228.0 L188.5,228.9 L189.2,228.9 L190.0,228.8 L190.8,229.1 L191.5,229.3 L192.2,228.8 L193.0,228.4 L193.8,228.1 L194.5,227.8 L195.2,228.2 L196.0,228.5 L196.8,228.4 L197.5,228.3 L198.2,228.0 L199.0,227.7 L199.8,228.0 L200.5,228.2 L201.2,228.9 L202.0,229.6 L202.8,229.3 L203.5,229.0 L204.2,228.8 L205.0,228.6 L205.8,228.4 L206.5,228.1 L207.2,228.0 L208.0,228.0 L208.8,228.4 L209.5,228.8 L210.2,228.6 L211.0,228.3 L211.8,228.1 L212.5,227.9 L213.2,228.0 L214.0,228.1 L214.8,228.0 L215.5,227.9 L216.2,228.3 L217.0,228.6 L217.8,228.9 L218.5,229.1 L219.2,228.7 L220.0,228.3 L220.8,228.7 L221.5,229.0 L222.2,228.6 L223.0,228.1 L223.8,228.1 L224.5,228.2 L225.2,227.9 L226.0,227.7 L226.8,227.8 L227.5,227.9 L228.2,227.9 L229.0,228.0 L229.8,227.8 L230.5,227.6 L231.2,227.5 L232.0,227.4 L232.8,227.5 L233.5,227.5 L234.2,227.4 L235.0,227.4 L235.8,227.2 L236.5,227.1 L237.2,227.5 L238.0,227.9 L238.8,228.3 L239.5,228.6 L240.2,228.8 L241.0,229.0 L241.8,229.1 L242.5,229.2 L243.2,229.6 L244.0,230.0 L244.8,229.4 L245.5,228.8 L246.2,228.5 L247.0,228.3 L247.8,228.7 L248.5,229.2 L249.2,228.6 L250.0,228.0 L250.8,228.3 L251.5,228.6 L252.2,228.2 L253.0,227.9 L253.8,228.0 L254.5,228.1 L255.2,227.6 L256.0,227.2 L256.8,227.8 L257.5,228.4 L258.2,228.2 L259.0,227.9 L259.8,227.8 L260.5,227.6 L261.2,228.3 L262.0,229.0 L262.8,228.9 L263.5,228.8 L264.2,228.5 L265.0,228.2 L265.8,228.0 L266.5,227.8 L267.2,227.9 L268.0,228.1 L268.8,228.2 L269.5,228.2 L270.2,228.5 L271.0,228.8 L271.8,228.8 L272.5,228.8 L273.2,228.3 L274.0,227.9 L274.8,227.8 L275.5,227.7 L276.2,227.7 L277.0,227.6 L277.8,227.4 L278.5,227.2 L279.2,227.4 L280.0,227.7 L280.8,228.0 L281.5,228.3 L282.2,228.6 L283.0,229.0 L283.8,229.1 L284.5,229.2 L285.2,228.7 L286.0,228.1 L286.8,228.3 L287.5,228.4 L288.2,228.3 L289.0,228.2 L289.8,228.7 L290.5,229.2 L291.2,228.7 L292.0,228.3 L292.8,228.2 L293.5,228.1 L294.2,227.7 L295.0,227.3 L295.8,227.2 L296.5,227.2 L297.2,227.5 L298.0,227.7 L298.8,227.7 L299.5,227.6 L300.2,227.6 L301.0,227.7 L301.8,227.3 L302.5,226.9 L303.2,227.4 L304.0,227.9 L304.8,227.8 L305.5,227.7 L306.2,228.3 L307.0,228.9 L307.8,228.7 L308.5,228.4 L309.2,228.5 L310.0,228.6 L310.8,228.0 L311.5,227.4 L312.2,227.7 L313.0,228.0 L313.8,227.7 L314.5,227.4 L315.2,227.5 L316.0,227.6 L316.8,227.7 L317.5,227.9 L318.2,227.9 L319.0,227.9 L319.8,228.1 L320.5,228.3 L321.2,228.5 L322.0,228.6 L322.8,228.6 L323.5,228.5 L324.2,228.2 L325.0,227.8 L325.8,227.4 L326.5,227.0 L327.2,227.2 L328.0,227.3 L328.8,227.4 L329.5,227.5 L330.2,227.2 L331.0,226.9 L331.8,227.6 L332.5,228.3 L333.2,228.1 L334.0,228.0 L334.8,228.0 L335.5,228.0 L336.2,228.3 L337.0,228.6 L337.8,228.6 L338.5,228.5 L339.2,228.2 L340.0,228.0 L340.8,227.6 L341.5,227.2 L342.2,227.5 L343.0,227.7 L343.8,227.7 L344.5,227.7 L345.2,227.5 L346.0,227.3 L346.8,227.9 L347.5,228.5 L348.2,228.5 L349.0,228.5 L349.8,228.1 L350.5,227.8 L351.2,228.5 L352.0,229.3 L352.8,230.3 L353.5,231.9 L354.2,234.4 L355.0,233.5 L355.8,232.0 L356.5,231.1 L357.2,229.9 L358.0,229.0 L358.8,228.7 L359.5,228.4 L360.2,228.4 L361.0,228.5 L361.8,228.4 L362.5,228.3 L363.2,228.8 L364.0,229.4 L364.8,229.3 L365.5,229.2 L366.2,229.1 L367.0,228.9 L367.8,229.1 L368.5,229.2 L369.2,228.7 L370.0,228.2 L370.8,228.8 L371.5,229.2 L372.2,228.9 L373.0,228.1 L373.8,227.0 L374.5,225.9" fill="none" stroke="#58c62c" stroke-width="1.9" stroke-linejoin="round" stroke-linecap="round"/><path d="M423.2,225.8 L424.0,225.9 L424.8,225.9 L425.5,225.8 L426.2,225.6 L427.0,225.3 L427.8,225.7 L428.5,226.4 L429.2,226.1 L430.0,225.8 L430.8,226.0 L431.5,226.2 L432.2,227.1 L433.0,228.1 L433.8,228.1 L434.5,228.0 L435.2,227.4 L436.0,226.9 L436.8,226.4 L437.5,225.9 L438.2,225.9 L439.0,225.9 L439.8,225.2 L440.5,224.5 L441.2,225.0 L442.0,225.5 L442.8,225.4 L443.5,225.4 L444.2,225.2 L445.0,225.0 L445.8,225.1 L446.5,225.2 L447.2,225.7 L448.0,226.2 L448.8,226.1 L449.5,226.0 L450.2,226.0 L451.0,226.0 L451.8,226.0 L452.5,226.1 L453.2,225.6 L454.0,225.2 L454.8,225.0 L455.5,224.9 L456.2,224.8 L457.0,224.8 L457.8,225.4 L458.5,226.0 L459.2,226.5 L460.0,227.0 L460.8,227.0 L461.5,227.0 L462.2,227.3 L463.0,227.5 L463.8,227.2 L464.5,226.9 L465.2,227.1 L466.0,227.2 L466.8,227.2 L467.5,227.2 L468.2,227.3 L469.0,227.4 L469.8,228.2 L470.5,229.1 L471.2,228.9 L472.0,228.7 L472.8,228.2 L473.5,227.6 L474.2,227.6 L475.0,227.6 L475.8,227.7 L476.5,227.8 L477.2,227.5 L478.0,227.2 L478.8,227.6 L479.5,227.9 L480.2,227.5 L481.0,227.1 L481.8,227.2 L482.5,227.2 L483.2,227.2 L484.0,227.1 L484.8,227.2 L485.5,227.3 L486.2,227.2 L487.0,227.0 L487.8,226.9 L488.5,226.9 L489.2,227.1 L490.0,227.3 L490.8,227.4 L491.5,227.6 L492.2,227.7 L493.0,227.9 L493.8,228.1 L494.5,228.4 L495.2,228.8 L496.0,229.3 L496.8,229.1 L497.5,229.0 L498.2,228.7 L499.0,228.4 L499.8,228.6 L500.5,228.8 L501.2,228.5 L502.0,228.3 L502.8,228.8 L503.5,229.3 L504.2,229.0 L505.0,228.7 L505.8,228.2 L506.5,227.7 L507.2,228.3 L508.0,228.9 L508.8,228.9 L509.5,228.8 L510.2,228.0 L511.0,227.1 L511.8,227.5 L512.5,227.9 L513.2,228.0 L514.0,228.1 L514.8,227.8 L515.5,227.4 L516.2,227.5 L517.0,227.7 L517.8,227.8 L518.5,228.0 L519.2,228.4 L520.0,228.8 L520.8,228.9 L521.5,229.0 L522.2,229.5 L523.0,229.8 L523.8,229.1 L524.5,228.3 L525.2,228.3 L526.0,228.0 L526.8,227.0 L527.5,226.0 L528.2,225.3 L529.0,224.9 L529.8,224.5 L530.5,224.0 L531.2,223.8 L532.0,223.6 L532.8,224.1 L533.5,224.6 L534.2,225.2 L535.0,225.9 L535.8,226.2 L536.5,226.6 L537.2,226.4 L538.0,226.3 L538.8,226.2 L539.5,226.2 L540.2,226.1 L541.0,226.1 L541.8,226.9 L542.5,227.8" fill="none" stroke="#58c62c" stroke-width="1.9" stroke-linejoin="round" stroke-linecap="round"/>
<path d="M86.5,211.2 L87.2,210.3 L88.0,209.5 L88.8,210.2 L89.5,211.2 L90.2,210.4 L91.0,209.7 L91.8,208.4 L92.5,207.0 L93.2,207.7 L94.0,208.3 L94.8,208.3 L95.5,208.3 L96.2,208.5 L97.0,208.7 L97.8,208.0 L98.5,207.3 L99.2,208.2 L100.0,209.0 L100.8,209.4 L101.5,209.8 L102.2,210.4 L103.0,211.0 L103.8,210.5 L104.5,209.9 L105.2,209.5 L106.0,209.1 L106.8,208.3 L107.5,207.5 L108.2,208.9 L109.0,210.2 L109.8,208.5 L110.5,206.8 L111.2,208.0 L112.0,209.2 L112.8,208.8 L113.5,208.4 L114.2,208.1 L115.0,207.7 L115.8,207.9 L116.5,208.1 L117.2,208.1 L118.0,208.1 L118.8,208.5 L119.5,209.0 L120.2,208.9 L121.0,208.8 L121.8,209.1 L122.5,209.4 L123.2,208.0 L124.0,206.5 L124.8,207.2 L125.5,207.8 L126.2,207.8 L127.0,207.8 L127.8,208.4 L128.5,209.0 L129.2,207.6 L130.0,206.3 L130.8,207.0 L131.5,207.7 L132.2,207.9 L133.0,208.2 L133.8,207.5 L134.5,206.8 L135.2,208.0 L136.0,209.2 L136.8,209.1 L137.5,209.1 L138.2,209.5 L139.0,209.8 L139.8,209.7 L140.5,209.5 L141.2,208.4 L142.0,207.3 L142.8,207.2 L143.5,207.2 L144.2,207.7 L145.0,208.2 L145.8,208.8 L146.5,209.5 L147.2,209.5 L148.0,209.6 L148.8,208.8 L149.5,207.9 L150.2,207.8 L151.0,207.8 L151.8,207.7 L152.5,207.7 L153.2,207.8 L154.0,207.8 L154.8,208.0 L155.5,208.1 L156.2,208.4 L157.0,208.7 L157.8,209.6 L158.5,210.5 L159.2,209.3 L160.0,208.2 L160.8,208.1 L161.5,208.1 L162.2,208.4 L163.0,208.8 L163.8,208.1 L164.5,207.5 L165.2,207.8 L166.0,208.1 L166.8,208.6 L167.5,209.1 L168.2,209.4 L169.0,209.7 L169.8,209.0 L170.5,208.3 L171.2,209.3 L172.0,210.3 L172.8,209.6 L173.5,208.9 L174.2,208.9 L175.0,209.0 L175.8,209.3 L176.5,209.6 L177.2,209.7 L178.0,209.8 L178.8,209.9 L179.5,210.0 L180.2,209.6 L181.0,209.1 L181.8,208.9 L182.5,208.8 L183.2,208.8 L184.0,208.9 L184.8,208.5 L185.5,208.0 L186.2,209.0 L187.0,209.9 L187.8,209.0 L188.5,208.0 L189.2,207.9 L190.0,207.7 L190.8,209.2 L191.5,210.8 L192.2,209.7 L193.0,208.7 L193.8,208.1 L194.5,207.5 L195.2,209.0 L196.0,210.4 L196.8,209.7 L197.5,209.0 L198.2,209.4 L199.0,209.8 L199.8,208.9 L200.5,208.1 L201.2,208.0 L202.0,207.9 L202.8,207.0 L203.5,206.1 L204.2,205.9 L205.0,205.6 L205.8,206.2 L206.5,206.8 L207.2,207.6 L208.0,208.4 L208.8,209.3 L209.5,210.3 L210.2,211.0 L211.0,211.7 L211.8,210.2 L212.5,208.6 L213.2,209.2 L214.0,209.7 L214.8,209.0 L215.5,208.4 L216.2,208.2 L217.0,208.1 L217.8,207.3 L218.5,206.6 L219.2,206.4 L220.0,206.3 L220.8,206.6 L221.5,206.9 L222.2,206.9 L223.0,206.8 L223.8,207.3 L224.5,207.8 L225.2,207.9 L226.0,208.0 L226.8,209.1 L227.5,210.1 L228.2,209.9 L229.0,209.6 L229.8,209.7 L230.5,209.8 L231.2,210.2 L232.0,210.6 L232.8,210.3 L233.5,209.9 L234.2,209.4 L235.0,208.9 L235.8,208.7 L236.5,208.5 L237.2,208.6 L238.0,208.8 L238.8,209.4 L239.5,210.1 L240.2,210.0 L241.0,209.9 L241.8,209.7 L242.5,209.4 L243.2,209.4 L244.0,209.4 L244.8,208.8 L245.5,208.1 L246.2,208.3 L247.0,208.5 L247.8,207.8 L248.5,207.1 L249.2,208.4 L250.0,209.6 L250.8,209.3 L251.5,208.9 L252.2,208.9 L253.0,208.9 L253.8,209.1 L254.5,209.3 L255.2,209.0 L256.0,208.6 L256.8,208.6 L257.5,208.6 L258.2,209.3 L259.0,210.0 L259.8,209.4 L260.5,208.9 L261.2,208.3 L262.0,207.7 L262.8,208.2 L263.5,208.6 L264.2,207.9 L265.0,207.3 L265.8,208.8 L266.5,210.3 L267.2,209.7 L268.0,209.1 L268.8,209.3 L269.5,209.5 L270.2,210.9 L271.0,212.3 L271.8,212.3 L272.5,212.3 L273.2,211.0 L274.0,209.7 L274.8,209.7 L275.5,209.7 L276.2,210.0 L277.0,210.3 L277.8,210.4 L278.5,210.4 L279.2,209.5 L280.0,208.6 L280.8,208.7 L281.5,208.8 L282.2,209.4 L283.0,210.0 L283.8,209.7 L284.5,209.4 L285.2,209.6 L286.0,209.8 L286.8,209.7 L287.5,209.5 L288.2,208.6 L289.0,207.6 L289.8,207.4 L290.5,207.2 L291.2,206.4 L292.0,205.7 L292.8,207.0 L293.5,208.3 L294.2,209.2 L295.0,210.1 L295.8,209.1 L296.5,208.1 L297.2,209.2 L298.0,210.2 L298.8,210.3 L299.5,210.3 L300.2,209.7 L301.0,209.0 L301.8,209.0 L302.5,208.9 L303.2,208.9 L304.0,208.9 L304.8,208.5 L305.5,208.0 L306.2,208.4 L307.0,208.7 L307.8,209.0 L308.5,209.4 L309.2,209.8 L310.0,210.1 L310.8,210.1 L311.5,210.0 L312.2,209.3 L313.0,208.5 L313.8,209.0 L314.5,209.4 L315.2,208.8 L316.0,208.1 L316.8,208.3 L317.5,208.6 L318.2,208.9 L319.0,209.3 L319.8,209.1 L320.5,208.9 L321.2,208.8 L322.0,208.8 L322.8,208.8 L323.5,208.9 L324.2,208.5 L325.0,208.0 L325.8,207.9 L326.5,207.7 L327.2,208.2 L328.0,208.7 L328.8,209.4 L329.5,210.1 L330.2,210.0 L331.0,209.8 L331.8,210.8 L332.5,211.7 L333.2,210.5 L334.0,209.3 L334.8,207.5 L335.5,205.7 L336.2,207.0 L337.0,208.3 L337.8,209.7 L338.5,211.0 L339.2,210.1 L340.0,209.3 L340.8,208.7 L341.5,208.0 L342.2,207.9 L343.0,207.8 L343.8,208.9 L344.5,210.0 L345.2,210.1 L346.0,210.2 L346.8,210.0 L347.5,209.8 L348.2,209.8 L349.0,209.8 L349.8,210.4 L350.5,211.0 L351.2,210.4 L352.0,209.8 L352.8,208.7 L353.5,207.5 L354.2,208.3 L355.0,209.1 L355.8,208.8 L356.5,208.6 L357.2,208.6 L358.0,208.6 L358.8,209.1 L359.5,209.6 L360.2,209.0 L361.0,208.4 L361.8,207.3 L362.5,206.1 L363.2,208.3 L364.0,210.5 L364.8,210.6 L365.5,210.7 L366.2,209.9 L367.0,209.1 L367.8,208.9 L368.5,208.6 L369.2,208.7 L370.0,208.8 L370.8,208.3 L371.5,208.0 L372.2,209.2 L373.0,210.3 L373.8,210.6 L374.5,210.7 L375.2,210.5 L376.0,209.9 L376.8,208.9 L377.5,205.8 L378.2,199.6 L379.0,193.1 L379.8,188.4 L380.5,182.2 L381.2,173.3 L382.0,163.1 L382.8,153.1 L383.5,144.2 L384.2,135.9 L385.0,127.6 L385.8,119.3 L386.5,110.3 L387.2,101.1 L388.0,92.5 L388.8,85.4 L389.5,79.2 L390.2,73.1 L391.0,68.5 L391.8,66.5 L392.5,68.4 L393.2,73.5 L394.0,80.0 L394.8,86.2 L395.5,92.4 L396.2,99.1 L397.0,106.2 L397.8,113.6 L398.5,121.0 L399.2,128.7 L400.0,137.0 L400.8,145.6 L401.5,154.4 L402.2,163.1 L403.0,171.4 L403.8,179.1 L404.5,186.0 L405.2,191.9 L406.0,196.9 L406.8,198.4 L407.5,199.0 L408.2,200.4 L409.0,202.5 L409.8,203.5 L410.5,204.2 L411.2,205.1 L412.0,206.1 L412.8,207.3 L413.5,208.1 L414.2,208.0 L415.0,207.0 L415.8,206.4 L416.5,206.3 L417.2,206.5 L418.0,207.5 L418.8,207.7 L419.5,207.9 L420.2,208.2 L421.0,208.1 L421.8,207.1 L422.5,205.4 L423.2,204.9 L424.0,205.7 L424.8,207.7 L425.5,209.0 L426.2,209.0 L427.0,209.0 L427.8,208.9 L428.5,208.8 L429.2,208.7 L430.0,208.6 L430.8,208.5 L431.5,208.1 L432.2,206.5 L433.0,204.8 L433.8,204.4 L434.5,204.3 L435.2,205.7 L436.0,207.2 L436.8,207.4 L437.5,207.7 L438.2,207.4 L439.0,207.2 L439.8,208.1 L440.5,209.0 L441.2,208.1 L442.0,207.1 L442.8,206.9 L443.5,206.6 L444.2,205.9 L445.0,205.3 L445.8,206.5 L446.5,207.7 L447.2,207.7 L448.0,207.7 L448.8,208.2 L449.5,208.7 L450.2,208.6 L451.0,208.4 L451.8,208.1 L452.5,207.7 L453.2,207.9 L454.0,208.1 L454.8,208.6 L455.5,209.1 L456.2,208.6 L457.0,208.0 L457.8,207.9 L458.5,207.9 L459.2,207.9 L460.0,208.0 L460.8,208.3 L461.5,208.6 L462.2,208.7 L463.0,208.8 L463.8,209.0 L464.5,209.2 L465.2,208.5 L466.0,207.8 L466.8,208.4 L467.5,208.9 L468.2,208.3 L469.0,207.7 L469.8,208.4 L470.5,209.0 L471.2,209.2 L472.0,209.3 L472.8,210.1 L473.5,211.0 L474.2,210.4 L475.0,209.9 L475.8,209.3 L476.5,208.8 L477.2,209.2 L478.0,209.7 L478.8,209.6 L479.5,209.6 L480.2,209.1 L481.0,208.7 L481.8,208.6 L482.5,208.4 L483.2,208.6 L484.0,208.8 L484.8,210.7 L485.5,212.6 L486.2,211.8 L487.0,210.9 L487.8,210.9 L488.5,210.8 L489.2,209.6 L490.0,208.3 L490.8,208.1 L491.5,207.8 L492.2,208.3 L493.0,208.7 L493.8,208.8 L494.5,208.9 L495.2,209.4 L496.0,209.8 L496.8,209.2 L497.5,208.5 L498.2,209.4 L499.0,210.3 L499.8,210.9 L500.5,211.5 L501.2,210.4 L502.0,209.4 L502.8,210.0 L503.5,210.6 L504.2,209.9 L505.0,209.2 L505.8,209.8 L506.5,210.4 L507.2,210.6 L508.0,210.8 L508.8,211.1 L509.5,211.5 L510.2,210.2 L511.0,208.9 L511.8,209.0 L512.5,209.2 L513.2,209.5 L514.0,209.9 L514.8,208.9 L515.5,207.9 L516.2,208.2 L517.0,208.6 L517.8,208.3 L518.5,208.0 L519.2,208.2 L520.0,208.4 L520.8,209.3 L521.5,210.2 L522.2,210.6 L523.0,211.1 L523.8,212.0 L524.5,213.0 L525.2,212.4 L526.0,211.8 L526.8,211.3 L527.5,210.7 L528.2,209.6 L529.0,208.4 L529.8,207.9 L530.5,207.4 L531.2,207.0 L532.0,206.6 L532.8,205.4 L533.5,204.3 L534.2,205.8 L535.0,207.3 L535.8,206.2 L536.5,205.1 L537.2,204.6 L538.0,204.0 L538.8,204.4 L539.5,204.8 L540.2,205.7 L541.0,206.5 L541.8,206.7 L542.5,206.8" fill="none" stroke="#000000" stroke-width="1.5" stroke-linejoin="round" stroke-linecap="round"/><path d="M86.5,211.2 L87.2,210.3 L88.0,209.5 L88.8,210.2 L89.5,211.2 L90.2,210.4 L91.0,209.7 L91.8,208.4 L92.5,207.0 L93.2,207.7 L94.0,208.3 L94.8,208.3 L95.5,208.3 L96.2,208.5 L97.0,208.7 L97.8,208.0 L98.5,207.3 L99.2,208.2 L100.0,209.0 L100.8,209.4 L101.5,209.8 L102.2,210.4 L103.0,211.0 L103.8,210.5 L104.5,209.9 L105.2,209.5 L106.0,209.1 L106.8,208.3 L107.5,207.5 L108.2,208.9 L109.0,210.2 L109.8,208.5 L110.5,206.8 L111.2,208.0 L112.0,209.2 L112.8,208.8 L113.5,208.4 L114.2,208.1 L115.0,207.7 L115.8,207.9 L116.5,208.1 L117.2,208.1 L118.0,208.1 L118.8,208.5 L119.5,209.0 L120.2,208.9 L121.0,208.8 L121.8,209.1 L122.5,209.4 L123.2,208.0 L124.0,206.5 L124.8,207.2 L125.5,207.8 L126.2,207.8 L127.0,207.8 L127.8,208.4 L128.5,209.0 L129.2,207.6 L130.0,206.3 L130.8,207.0 L131.5,207.7 L132.2,207.9 L133.0,208.2 L133.8,207.5 L134.5,206.8 L135.2,208.0 L136.0,209.2 L136.8,209.1 L137.5,209.1 L138.2,209.5 L139.0,209.8 L139.8,209.7 L140.5,209.5 L141.2,208.4 L142.0,207.3 L142.8,207.2 L143.5,207.2 L144.2,207.7 L145.0,208.2 L145.8,208.8 L146.5,209.5 L147.2,209.5 L148.0,209.6 L148.8,208.8 L149.5,207.9 L150.2,207.8 L151.0,207.8 L151.8,207.7 L152.5,207.7 L153.2,207.8 L154.0,207.8 L154.8,208.0 L155.5,208.1 L156.2,208.4 L157.0,208.7 L157.8,209.6 L158.5,210.5 L159.2,209.3 L160.0,208.2 L160.8,208.1 L161.5,208.1 L162.2,208.4 L163.0,208.8 L163.8,208.1 L164.5,207.5 L165.2,207.8 L166.0,208.1 L166.8,208.6 L167.5,209.1 L168.2,209.4 L169.0,209.7 L169.8,209.0 L170.5,208.3 L171.2,209.3 L172.0,210.3 L172.8,209.6 L173.5,208.9 L174.2,208.9 L175.0,209.0 L175.8,209.3 L176.5,209.6 L177.2,209.7 L178.0,209.8 L178.8,209.9 L179.5,210.0 L180.2,209.6 L181.0,209.1 L181.8,208.9 L182.5,208.8 L183.2,208.8 L184.0,208.9 L184.8,208.5 L185.5,208.0 L186.2,209.0 L187.0,209.9 L187.8,209.0 L188.5,208.0 L189.2,207.9 L190.0,207.7 L190.8,209.2 L191.5,210.8 L192.2,209.7 L193.0,208.7 L193.8,208.1 L194.5,207.5 L195.2,209.0 L196.0,210.4 L196.8,209.7 L197.5,209.0 L198.2,209.4 L199.0,209.8 L199.8,208.9 L200.5,208.1 L201.2,208.0 L202.0,207.9 L202.8,207.0 L203.5,206.1 L204.2,205.9 L205.0,205.6 L205.8,206.2 L206.5,206.8 L207.2,207.6 L208.0,208.4 L208.8,209.3 L209.5,210.3 L210.2,211.0 L211.0,211.7 L211.8,210.2 L212.5,208.6 L213.2,209.2 L214.0,209.7 L214.8,209.0 L215.5,208.4 L216.2,208.2 L217.0,208.1 L217.8,207.3 L218.5,206.6 L219.2,206.4 L220.0,206.3 L220.8,206.6 L221.5,206.9 L222.2,206.9 L223.0,206.8 L223.8,207.3 L224.5,207.8 L225.2,207.9 L226.0,208.0 L226.8,209.1 L227.5,210.1 L228.2,209.9 L229.0,209.6 L229.8,209.7 L230.5,209.8 L231.2,210.2 L232.0,210.6 L232.8,210.3 L233.5,209.9 L234.2,209.4 L235.0,208.9 L235.8,208.7 L236.5,208.5 L237.2,208.6 L238.0,208.8 L238.8,209.4 L239.5,210.1 L240.2,210.0 L241.0,209.9 L241.8,209.7 L242.5,209.4 L243.2,209.4 L244.0,209.4 L244.8,208.8 L245.5,208.1 L246.2,208.3 L247.0,208.5 L247.8,207.8 L248.5,207.1 L249.2,208.4 L250.0,209.6 L250.8,209.3 L251.5,208.9 L252.2,208.9 L253.0,208.9 L253.8,209.1 L254.5,209.3 L255.2,209.0 L256.0,208.6 L256.8,208.6 L257.5,208.6 L258.2,209.3 L259.0,210.0 L259.8,209.4 L260.5,208.9 L261.2,208.3 L262.0,207.7 L262.8,208.2 L263.5,208.6 L264.2,207.9 L265.0,207.3 L265.8,208.8 L266.5,210.3 L267.2,209.7 L268.0,209.1 L268.8,209.3 L269.5,209.5 L270.2,210.9 L271.0,212.3 L271.8,212.3 L272.5,212.3 L273.2,211.0 L274.0,209.7 L274.8,209.7 L275.5,209.7 L276.2,210.0 L277.0,210.3 L277.8,210.4 L278.5,210.4 L279.2,209.5 L280.0,208.6 L280.8,208.7 L281.5,208.8 L282.2,209.4 L283.0,210.0 L283.8,209.7 L284.5,209.4 L285.2,209.6 L286.0,209.8 L286.8,209.7 L287.5,209.5 L288.2,208.6 L289.0,207.6 L289.8,207.4 L290.5,207.2 L291.2,206.4 L292.0,205.7 L292.8,207.0 L293.5,208.3 L294.2,209.2 L295.0,210.1 L295.8,209.1 L296.5,208.1 L297.2,209.2 L298.0,210.2 L298.8,210.3 L299.5,210.3 L300.2,209.7 L301.0,209.0 L301.8,209.0 L302.5,208.9 L303.2,208.9 L304.0,208.9 L304.8,208.5 L305.5,208.0 L306.2,208.4 L307.0,208.7 L307.8,209.0 L308.5,209.4 L309.2,209.8 L310.0,210.1 L310.8,210.1 L311.5,210.0 L312.2,209.3 L313.0,208.5 L313.8,209.0 L314.5,209.4 L315.2,208.8 L316.0,208.1 L316.8,208.3 L317.5,208.6 L318.2,208.9 L319.0,209.3 L319.8,209.1 L320.5,208.9 L321.2,208.8 L322.0,208.8 L322.8,208.8 L323.5,208.9 L324.2,208.5 L325.0,208.0 L325.8,207.9 L326.5,207.7 L327.2,208.2 L328.0,208.7 L328.8,209.4 L329.5,210.1 L330.2,210.0 L331.0,209.8 L331.8,210.8 L332.5,211.7 L333.2,210.5 L334.0,209.3 L334.8,207.5 L335.5,205.7 L336.2,207.0 L337.0,208.3 L337.8,209.7 L338.5,211.0 L339.2,210.1 L340.0,209.3 L340.8,208.7 L341.5,208.0 L342.2,207.9 L343.0,207.8 L343.8,208.9 L344.5,210.0 L345.2,210.1 L346.0,210.2 L346.8,210.0 L347.5,209.8 L348.2,209.8 L349.0,209.8 L349.8,210.4 L350.5,211.0 L351.2,210.4 L352.0,209.8 L352.8,208.7 L353.5,207.5 L354.2,208.3 L355.0,209.1 L355.8,208.8 L356.5,208.6 L357.2,208.6 L358.0,208.6 L358.8,209.1 L359.5,209.6 L360.2,209.0 L361.0,208.4 L361.8,207.3 L362.5,206.1 L363.2,208.3 L364.0,210.5 L364.8,210.6 L365.5,210.7 L366.2,209.9 L367.0,209.1 L367.8,208.9 L368.5,208.6 L369.2,208.7 L370.0,208.8 L370.8,208.3 L371.5,208.0 L372.2,209.2 L373.0,210.3 L373.8,210.6 L374.5,210.7 L375.2,210.5 L376.0,209.9 L376.8,208.9" fill="none" stroke="#000000" stroke-width="1.9" stroke-linejoin="round" stroke-linecap="round"/><path d="M405.2,191.9 L406.0,196.9 L406.8,198.4 L407.5,199.0 L408.2,200.4 L409.0,202.5 L409.8,203.5 L410.5,204.2 L411.2,205.1 L412.0,206.1 L412.8,207.3 L413.5,208.1 L414.2,208.0 L415.0,207.0 L415.8,206.4 L416.5,206.3 L417.2,206.5 L418.0,207.5 L418.8,207.7 L419.5,207.9 L420.2,208.2 L421.0,208.1 L421.8,207.1 L422.5,205.4 L423.2,204.9 L424.0,205.7 L424.8,207.7 L425.5,209.0 L426.2,209.0 L427.0,209.0 L427.8,208.9 L428.5,208.8 L429.2,208.7 L430.0,208.6 L430.8,208.5 L431.5,208.1 L432.2,206.5 L433.0,204.8 L433.8,204.4 L434.5,204.3 L435.2,205.7 L436.0,207.2 L436.8,207.4 L437.5,207.7 L438.2,207.4 L439.0,207.2 L439.8,208.1 L440.5,209.0 L441.2,208.1 L442.0,207.1 L442.8,206.9 L443.5,206.6 L444.2,205.9 L445.0,205.3 L445.8,206.5 L446.5,207.7 L447.2,207.7 L448.0,207.7 L448.8,208.2 L449.5,208.7 L450.2,208.6 L451.0,208.4 L451.8,208.1 L452.5,207.7 L453.2,207.9 L454.0,208.1 L454.8,208.6 L455.5,209.1 L456.2,208.6 L457.0,208.0 L457.8,207.9 L458.5,207.9 L459.2,207.9 L460.0,208.0 L460.8,208.3 L461.5,208.6 L462.2,208.7 L463.0,208.8 L463.8,209.0 L464.5,209.2 L465.2,208.5 L466.0,207.8 L466.8,208.4 L467.5,208.9 L468.2,208.3 L469.0,207.7 L469.8,208.4 L470.5,209.0 L471.2,209.2 L472.0,209.3 L472.8,210.1 L473.5,211.0 L474.2,210.4 L475.0,209.9 L475.8,209.3 L476.5,208.8 L477.2,209.2 L478.0,209.7 L478.8,209.6 L479.5,209.6 L480.2,209.1 L481.0,208.7 L481.8,208.6 L482.5,208.4 L483.2,208.6 L484.0,208.8 L484.8,210.7 L485.5,212.6 L486.2,211.8 L487.0,210.9 L487.8,210.9 L488.5,210.8 L489.2,209.6 L490.0,208.3 L490.8,208.1 L491.5,207.8 L492.2,208.3 L493.0,208.7 L493.8,208.8 L494.5,208.9 L495.2,209.4 L496.0,209.8 L496.8,209.2 L497.5,208.5 L498.2,209.4 L499.0,210.3 L499.8,210.9 L500.5,211.5 L501.2,210.4 L502.0,209.4 L502.8,210.0 L503.5,210.6 L504.2,209.9 L505.0,209.2 L505.8,209.8 L506.5,210.4 L507.2,210.6 L508.0,210.8 L508.8,211.1 L509.5,211.5 L510.2,210.2 L511.0,208.9 L511.8,209.0 L512.5,209.2 L513.2,209.5 L514.0,209.9 L514.8,208.9 L515.5,207.9 L516.2,208.2 L517.0,208.6 L517.8,208.3 L518.5,208.0 L519.2,208.2 L520.0,208.4 L520.8,209.3 L521.5,210.2 L522.2,210.6 L523.0,211.1 L523.8,212.0 L524.5,213.0 L525.2,212.4 L526.0,211.8 L526.8,211.3 L527.5,210.7 L528.2,209.6 L529.0,208.4 L529.8,207.9 L530.5,207.4 L531.2,207.0 L532.0,206.6 L532.8,205.4 L533.5,204.3 L534.2,205.8 L535.0,207.3 L535.8,206.2 L536.5,205.1 L537.2,204.6 L538.0,204.0 L538.8,204.4 L539.5,204.8 L540.2,205.7 L541.0,206.5 L541.8,206.7 L542.5,206.8" fill="none" stroke="#000000" stroke-width="1.9" stroke-linejoin="round" stroke-linecap="round"/>
<path d="M86.5,248.3 L87.2,247.2 L88.0,246.1 L88.8,246.2 L89.5,246.5 L90.2,246.4 L91.0,246.3 L91.8,246.3 L92.5,246.3 L93.2,246.3 L94.0,246.3 L94.8,246.0 L95.5,245.8 L96.2,246.0 L97.0,246.3 L97.8,246.5 L98.5,246.6 L99.2,247.3 L100.0,248.0 L100.8,247.5 L101.5,247.1 L102.2,246.8 L103.0,246.6 L103.8,246.6 L104.5,246.6 L105.2,246.4 L106.0,246.3 L106.8,246.2 L107.5,246.1 L108.2,246.3 L109.0,246.4 L109.8,246.5 L110.5,246.7 L111.2,246.6 L112.0,246.5 L112.8,246.7 L113.5,246.8 L114.2,246.6 L115.0,246.4 L115.8,246.5 L116.5,246.5 L117.2,246.8 L118.0,247.0 L118.8,246.8 L119.5,246.7 L120.2,246.4 L121.0,246.2 L121.8,246.2 L122.5,246.3 L123.2,246.5 L124.0,246.7 L124.8,247.0 L125.5,247.2 L126.2,246.9 L127.0,246.5 L127.8,246.5 L128.5,246.5 L129.2,246.7 L130.0,246.8 L130.8,246.6 L131.5,246.3 L132.2,246.4 L133.0,246.5 L133.8,246.7 L134.5,247.0 L135.2,247.0 L136.0,246.9 L136.8,246.8 L137.5,246.7 L138.2,246.7 L139.0,246.6 L139.8,246.1 L140.5,245.6 L141.2,246.1 L142.0,246.6 L142.8,246.4 L143.5,246.1 L144.2,246.0 L145.0,245.9 L145.8,246.2 L146.5,246.6 L147.2,246.7 L148.0,246.8 L148.8,246.6 L149.5,246.3 L150.2,246.2 L151.0,246.0 L151.8,246.2 L152.5,246.4 L153.2,246.5 L154.0,246.6 L154.8,246.8 L155.5,247.1 L156.2,247.0 L157.0,246.9 L157.8,246.8 L158.5,246.8 L159.2,246.8 L160.0,246.9 L160.8,246.7 L161.5,246.4 L162.2,246.3 L163.0,246.1 L163.8,246.4 L164.5,246.6 L165.2,246.6 L166.0,246.7 L166.8,246.5 L167.5,246.3 L168.2,246.2 L169.0,246.1 L169.8,246.2 L170.5,246.2 L171.2,245.9 L172.0,245.5 L172.8,246.0 L173.5,246.5 L174.2,246.4 L175.0,246.4 L175.8,246.1 L176.5,245.7 L177.2,245.9 L178.0,246.1 L178.8,246.0 L179.5,246.0 L180.2,246.1 L181.0,246.3 L181.8,245.9 L182.5,245.4 L183.2,245.6 L184.0,245.8 L184.8,246.2 L185.5,246.6 L186.2,246.6 L187.0,246.7 L187.8,246.1 L188.5,245.6 L189.2,245.8 L190.0,246.0 L190.8,246.2 L191.5,246.4 L192.2,246.3 L193.0,246.2 L193.8,246.5 L194.5,246.8 L195.2,246.4 L196.0,246.0 L196.8,246.1 L197.5,246.2 L198.2,246.1 L199.0,246.0 L199.8,246.4 L200.5,246.8 L201.2,246.6 L202.0,246.4 L202.8,246.3 L203.5,246.1 L204.2,246.0 L205.0,245.9 L205.8,246.5 L206.5,247.1 L207.2,247.0 L208.0,247.0 L208.8,246.9 L209.5,246.9 L210.2,246.9 L211.0,246.9 L211.8,246.8 L212.5,246.6 L213.2,246.4 L214.0,246.2 L214.8,246.2 L215.5,246.1 L216.2,246.3 L217.0,246.4 L217.8,246.8 L218.5,247.1 L219.2,246.6 L220.0,246.2 L220.8,246.2 L221.5,246.2 L222.2,246.3 L223.0,246.4 L223.8,246.5 L224.5,246.6 L225.2,246.6 L226.0,246.5 L226.8,246.1 L227.5,245.7 L228.2,245.6 L229.0,245.5 L229.8,245.8 L230.5,246.2 L231.2,246.5 L232.0,246.8 L232.8,246.7 L233.5,246.7 L234.2,246.6 L235.0,246.4 L235.8,246.4 L236.5,246.3 L237.2,246.3 L238.0,246.4 L238.8,246.3 L239.5,246.3 L240.2,246.4 L241.0,246.5 L241.8,246.3 L242.5,246.0 L243.2,246.1 L244.0,246.2 L244.8,246.2 L245.5,246.2 L246.2,246.2 L247.0,246.3 L247.8,246.4 L248.5,246.4 L249.2,246.8 L250.0,247.2 L250.8,247.2 L251.5,247.1 L252.2,246.9 L253.0,246.7 L253.8,246.1 L254.5,245.6 L255.2,245.7 L256.0,245.8 L256.8,245.9 L257.5,245.9 L258.2,245.9 L259.0,246.0 L259.8,245.6 L260.5,245.2 L261.2,245.7 L262.0,246.2 L262.8,246.2 L263.5,246.2 L264.2,245.7 L265.0,245.2 L265.8,245.1 L266.5,245.1 L267.2,245.2 L268.0,245.4 L268.8,245.6 L269.5,245.9 L270.2,246.1 L271.0,246.4 L271.8,246.7 L272.5,247.0 L273.2,246.6 L274.0,246.2 L274.8,246.3 L275.5,246.3 L276.2,246.3 L277.0,246.2 L277.8,246.5 L278.5,246.7 L279.2,246.6 L280.0,246.5 L280.8,246.6 L281.5,246.6 L282.2,246.2 L283.0,245.8 L283.8,245.9 L284.5,246.0 L285.2,245.9 L286.0,245.9 L286.8,246.3 L287.5,246.6 L288.2,246.5 L289.0,246.4 L289.8,246.1 L290.5,245.8 L291.2,245.8 L292.0,245.8 L292.8,245.9 L293.5,246.0 L294.2,245.8 L295.0,245.6 L295.8,245.5 L296.5,245.5 L297.2,245.9 L298.0,246.3 L298.8,246.7 L299.5,247.1 L300.2,246.7 L301.0,246.2 L301.8,246.1 L302.5,245.9 L303.2,245.8 L304.0,245.6 L304.8,245.6 L305.5,245.5 L306.2,245.9 L307.0,246.2 L307.8,246.3 L308.5,246.3 L309.2,246.2 L310.0,246.1 L310.8,246.2 L311.5,246.2 L312.2,246.2 L313.0,246.2 L313.8,246.2 L314.5,246.1 L315.2,245.9 L316.0,245.6 L316.8,245.8 L317.5,246.0 L318.2,246.1 L319.0,246.3 L319.8,246.2 L320.5,246.1 L321.2,246.1 L322.0,246.1 L322.8,246.0 L323.5,246.0 L324.2,246.1 L325.0,246.2 L325.8,246.4 L326.5,246.6 L327.2,246.4 L328.0,246.2 L328.8,246.2 L329.5,246.3 L330.2,246.5 L331.0,246.7 L331.8,246.7 L332.5,246.8 L333.2,246.8 L334.0,246.9 L334.8,246.3 L335.5,245.8 L336.2,246.1 L337.0,246.5 L337.8,246.4 L338.5,246.3 L339.2,246.4 L340.0,246.5 L340.8,246.7 L341.5,246.9 L342.2,247.0 L343.0,247.1 L343.8,247.1 L344.5,247.1 L345.2,247.0 L346.0,246.9 L346.8,247.0 L347.5,247.2 L348.2,246.9 L349.0,246.5 L349.8,246.5 L350.5,246.5 L351.2,246.6 L352.0,246.8 L352.8,246.7 L353.5,246.5 L354.2,246.8 L355.0,247.0 L355.8,246.7 L356.5,246.4 L357.2,246.3 L358.0,246.1 L358.8,245.4 L359.5,244.8 L360.2,244.5 L361.0,244.3 L361.8,244.3 L362.5,244.3 L363.2,244.3 L364.0,244.3 L364.8,244.0 L365.5,243.7 L366.2,243.7 L367.0,243.6 L367.8,243.4 L368.5,243.0 L369.2,242.3 L370.0,241.5 L370.8,240.3 L371.5,239.1 L372.2,237.8 L373.0,236.2 L373.8,234.1 L374.5,231.6 L375.2,228.4 L376.0,223.6 L376.8,217.5 L377.5,210.2 L378.2,199.9 L379.0,188.5 L379.8,177.6 L380.5,166.5 L381.2,155.0 L382.0,142.8 L382.8,129.6 L383.5,114.4 L384.2,95.2 L385.0,75.5 L385.8,59.4 L386.5,48.6 L387.2,39.7 L388.0,32.2 L388.8,25.9 L389.5,19.7 L390.2,16.5 L391.0,19.0 L391.8,25.2 L392.5,27.7 L393.2,26.2 L394.0,27.1 L394.8,24.9 L395.5,27.3 L396.2,25.2 L397.0,28.5 L397.8,26.6 L398.5,30.5 L399.2,35.4 L400.0,42.9 L400.8,51.2 L401.5,61.7 L402.2,76.3 L403.0,92.6 L403.8,107.9 L404.5,122.0 L405.2,134.6 L406.0,146.9 L406.8,158.4 L407.5,168.7 L408.2,177.5 L409.0,184.5 L409.8,189.7 L410.5,192.6 L411.2,195.9 L412.0,201.1 L412.8,206.2 L413.5,209.2 L414.2,210.6 L415.0,211.8 L415.8,213.7 L416.5,216.5 L417.2,219.2 L418.0,221.3 L418.8,223.1 L419.5,224.8 L420.2,226.3 L421.0,227.7 L421.8,229.2 L422.5,230.6 L423.2,231.4 L424.0,231.8 L424.8,232.8 L425.5,233.5 L426.2,233.9 L427.0,234.1 L427.8,234.2 L428.5,234.3 L429.2,234.8 L430.0,235.3 L430.8,235.3 L431.5,235.3 L432.2,235.3 L433.0,235.3 L433.8,235.7 L434.5,236.1 L435.2,236.5 L436.0,236.8 L436.8,237.0 L437.5,237.3 L438.2,237.4 L439.0,237.5 L439.8,238.1 L440.5,238.7 L441.2,238.9 L442.0,239.0 L442.8,238.8 L443.5,238.6 L444.2,238.8 L445.0,238.9 L445.8,239.1 L446.5,239.3 L447.2,239.4 L448.0,239.4 L448.8,239.8 L449.5,240.1 L450.2,239.8 L451.0,239.4 L451.8,239.1 L452.5,238.6 L453.2,238.5 L454.0,238.4 L454.8,238.6 L455.5,238.7 L456.2,239.0 L457.0,239.2 L457.8,238.8 L458.5,238.3 L459.2,238.3 L460.0,238.3 L460.8,238.4 L461.5,238.6 L462.2,238.7 L463.0,238.9 L463.8,239.4 L464.5,239.9 L465.2,239.6 L466.0,239.3 L466.8,239.5 L467.5,239.6 L468.2,239.6 L469.0,239.6 L469.8,239.6 L470.5,239.6 L471.2,239.4 L472.0,239.2 L472.8,239.7 L473.5,240.1 L474.2,239.8 L475.0,239.6 L475.8,239.5 L476.5,239.4 L477.2,239.3 L478.0,239.2 L478.8,239.3 L479.5,239.4 L480.2,239.7 L481.0,240.0 L481.8,240.2 L482.5,240.4 L483.2,240.4 L484.0,240.4 L484.8,240.4 L485.5,240.5 L486.2,240.4 L487.0,240.3 L487.8,240.2 L488.5,240.1 L489.2,240.2 L490.0,240.4 L490.8,240.4 L491.5,240.4 L492.2,240.3 L493.0,240.2 L493.8,240.4 L494.5,240.6 L495.2,240.8 L496.0,240.9 L496.8,240.7 L497.5,240.5 L498.2,240.4 L499.0,240.3 L499.8,240.6 L500.5,240.8 L501.2,241.1 L502.0,241.4 L502.8,241.1 L503.5,240.8 L504.2,240.9 L505.0,240.9 L505.8,241.0 L506.5,241.1 L507.2,241.3 L508.0,241.4 L508.8,241.0 L509.5,240.6 L510.2,240.9 L511.0,241.2 L511.8,241.4 L512.5,241.6 L513.2,241.3 L514.0,241.0 L514.8,241.4 L515.5,241.7 L516.2,241.5 L517.0,241.3 L517.8,241.1 L518.5,240.8 L519.2,240.7 L520.0,240.7 L520.8,240.4 L521.5,240.0 L522.2,240.1 L523.0,240.3 L523.8,240.6 L524.5,240.9 L525.2,240.5 L526.0,240.1 L526.8,240.4 L527.5,240.7 L528.2,240.5 L529.0,240.2 L529.8,240.3 L530.5,240.4 L531.2,240.1 L532.0,239.9 L532.8,239.5 L533.5,239.2 L534.2,239.5 L535.0,239.8 L535.8,240.0 L536.5,240.3 L537.2,240.1 L538.0,239.9 L538.8,239.9 L539.5,240.0 L540.2,240.3 L541.0,240.7 L541.8,240.6 L542.5,240.5" fill="none" stroke="#ff0000" stroke-width="1.5" stroke-linejoin="round" stroke-linecap="round"/><path d="M86.5,248.3 L87.2,247.2 L88.0,246.1 L88.8,246.2 L89.5,246.5 L90.2,246.4 L91.0,246.3 L91.8,246.3 L92.5,246.3 L93.2,246.3 L94.0,246.3 L94.8,246.0 L95.5,245.8 L96.2,246.0 L97.0,246.3 L97.8,246.5 L98.5,246.6 L99.2,247.3 L100.0,248.0 L100.8,247.5 L101.5,247.1 L102.2,246.8 L103.0,246.6 L103.8,246.6 L104.5,246.6 L105.2,246.4 L106.0,246.3 L106.8,246.2 L107.5,246.1 L108.2,246.3 L109.0,246.4 L109.8,246.5 L110.5,246.7 L111.2,246.6 L112.0,246.5 L112.8,246.7 L113.5,246.8 L114.2,246.6 L115.0,246.4 L115.8,246.5 L116.5,246.5 L117.2,246.8 L118.0,247.0 L118.8,246.8 L119.5,246.7 L120.2,246.4 L121.0,246.2 L121.8,246.2 L122.5,246.3 L123.2,246.5 L124.0,246.7 L124.8,247.0 L125.5,247.2 L126.2,246.9 L127.0,246.5 L127.8,246.5 L128.5,246.5 L129.2,246.7 L130.0,246.8 L130.8,246.6 L131.5,246.3 L132.2,246.4 L133.0,246.5 L133.8,246.7 L134.5,247.0 L135.2,247.0 L136.0,246.9 L136.8,246.8 L137.5,246.7 L138.2,246.7 L139.0,246.6 L139.8,246.1 L140.5,245.6 L141.2,246.1 L142.0,246.6 L142.8,246.4 L143.5,246.1 L144.2,246.0 L145.0,245.9 L145.8,246.2 L146.5,246.6 L147.2,246.7 L148.0,246.8 L148.8,246.6 L149.5,246.3 L150.2,246.2 L151.0,246.0 L151.8,246.2 L152.5,246.4 L153.2,246.5 L154.0,246.6 L154.8,246.8 L155.5,247.1 L156.2,247.0 L157.0,246.9 L157.8,246.8 L158.5,246.8 L159.2,246.8 L160.0,246.9 L160.8,246.7 L161.5,246.4 L162.2,246.3 L163.0,246.1 L163.8,246.4 L164.5,246.6 L165.2,246.6 L166.0,246.7 L166.8,246.5 L167.5,246.3 L168.2,246.2 L169.0,246.1 L169.8,246.2 L170.5,246.2 L171.2,245.9 L172.0,245.5 L172.8,246.0 L173.5,246.5 L174.2,246.4 L175.0,246.4 L175.8,246.1 L176.5,245.7 L177.2,245.9 L178.0,246.1 L178.8,246.0 L179.5,246.0 L180.2,246.1 L181.0,246.3 L181.8,245.9 L182.5,245.4 L183.2,245.6 L184.0,245.8 L184.8,246.2 L185.5,246.6 L186.2,246.6 L187.0,246.7 L187.8,246.1 L188.5,245.6 L189.2,245.8 L190.0,246.0 L190.8,246.2 L191.5,246.4 L192.2,246.3 L193.0,246.2 L193.8,246.5 L194.5,246.8 L195.2,246.4 L196.0,246.0 L196.8,246.1 L197.5,246.2 L198.2,246.1 L199.0,246.0 L199.8,246.4 L200.5,246.8 L201.2,246.6 L202.0,246.4 L202.8,246.3 L203.5,246.1 L204.2,246.0 L205.0,245.9 L205.8,246.5 L206.5,247.1 L207.2,247.0 L208.0,247.0 L208.8,246.9 L209.5,246.9 L210.2,246.9 L211.0,246.9 L211.8,246.8 L212.5,246.6 L213.2,246.4 L214.0,246.2 L214.8,246.2 L215.5,246.1 L216.2,246.3 L217.0,246.4 L217.8,246.8 L218.5,247.1 L219.2,246.6 L220.0,246.2 L220.8,246.2 L221.5,246.2 L222.2,246.3 L223.0,246.4 L223.8,246.5 L224.5,246.6 L225.2,246.6 L226.0,246.5 L226.8,246.1 L227.5,245.7 L228.2,245.6 L229.0,245.5 L229.8,245.8 L230.5,246.2 L231.2,246.5 L232.0,246.8 L232.8,246.7 L233.5,246.7 L234.2,246.6 L235.0,246.4 L235.8,246.4 L236.5,246.3 L237.2,246.3 L238.0,246.4 L238.8,246.3 L239.5,246.3 L240.2,246.4 L241.0,246.5 L241.8,246.3 L242.5,246.0 L243.2,246.1 L244.0,246.2 L244.8,246.2 L245.5,246.2 L246.2,246.2 L247.0,246.3 L247.8,246.4 L248.5,246.4 L249.2,246.8 L250.0,247.2 L250.8,247.2 L251.5,247.1 L252.2,246.9 L253.0,246.7 L253.8,246.1 L254.5,245.6 L255.2,245.7 L256.0,245.8 L256.8,245.9 L257.5,245.9 L258.2,245.9 L259.0,246.0 L259.8,245.6 L260.5,245.2 L261.2,245.7 L262.0,246.2 L262.8,246.2 L263.5,246.2 L264.2,245.7 L265.0,245.2 L265.8,245.1 L266.5,245.1 L267.2,245.2 L268.0,245.4 L268.8,245.6 L269.5,245.9 L270.2,246.1 L271.0,246.4 L271.8,246.7 L272.5,247.0 L273.2,246.6 L274.0,246.2 L274.8,246.3 L275.5,246.3 L276.2,246.3 L277.0,246.2 L277.8,246.5 L278.5,246.7 L279.2,246.6 L280.0,246.5 L280.8,246.6 L281.5,246.6 L282.2,246.2 L283.0,245.8 L283.8,245.9 L284.5,246.0 L285.2,245.9 L286.0,245.9 L286.8,246.3 L287.5,246.6 L288.2,246.5 L289.0,246.4 L289.8,246.1 L290.5,245.8 L291.2,245.8 L292.0,245.8 L292.8,245.9 L293.5,246.0 L294.2,245.8 L295.0,245.6 L295.8,245.5 L296.5,245.5 L297.2,245.9 L298.0,246.3 L298.8,246.7 L299.5,247.1 L300.2,246.7 L301.0,246.2 L301.8,246.1 L302.5,245.9 L303.2,245.8 L304.0,245.6 L304.8,245.6 L305.5,245.5 L306.2,245.9 L307.0,246.2 L307.8,246.3 L308.5,246.3 L309.2,246.2 L310.0,246.1 L310.8,246.2 L311.5,246.2 L312.2,246.2 L313.0,246.2 L313.8,246.2 L314.5,246.1 L315.2,245.9 L316.0,245.6 L316.8,245.8 L317.5,246.0 L318.2,246.1 L319.0,246.3 L319.8,246.2 L320.5,246.1 L321.2,246.1 L322.0,246.1 L322.8,246.0 L323.5,246.0 L324.2,246.1 L325.0,246.2 L325.8,246.4 L326.5,246.6 L327.2,246.4 L328.0,246.2 L328.8,246.2 L329.5,246.3 L330.2,246.5 L331.0,246.7 L331.8,246.7 L332.5,246.8 L333.2,246.8 L334.0,246.9 L334.8,246.3 L335.5,245.8 L336.2,246.1 L337.0,246.5 L337.8,246.4 L338.5,246.3 L339.2,246.4 L340.0,246.5 L340.8,246.7 L341.5,246.9 L342.2,247.0 L343.0,247.1 L343.8,247.1 L344.5,247.1 L345.2,247.0 L346.0,246.9 L346.8,247.0 L347.5,247.2 L348.2,246.9 L349.0,246.5 L349.8,246.5 L350.5,246.5 L351.2,246.6 L352.0,246.8 L352.8,246.7 L353.5,246.5 L354.2,246.8 L355.0,247.0 L355.8,246.7 L356.5,246.4 L357.2,246.3 L358.0,246.1 L358.8,245.4 L359.5,244.8 L360.2,244.5 L361.0,244.3 L361.8,244.3 L362.5,244.3 L363.2,244.3 L364.0,244.3 L364.8,244.0 L365.5,243.7 L366.2,243.7 L367.0,243.6 L367.8,243.4 L368.5,243.0 L369.2,242.3 L370.0,241.5 L370.8,240.3 L371.5,239.1 L372.2,237.8 L373.0,236.2" fill="none" stroke="#ff0000" stroke-width="1.9" stroke-linejoin="round" stroke-linecap="round"/><path d="M419.5,224.8 L420.2,226.3 L421.0,227.7 L421.8,229.2 L422.5,230.6 L423.2,231.4 L424.0,231.8 L424.8,232.8 L425.5,233.5 L426.2,233.9 L427.0,234.1 L427.8,234.2 L428.5,234.3 L429.2,234.8 L430.0,235.3 L430.8,235.3 L431.5,235.3 L432.2,235.3 L433.0,235.3 L433.8,235.7 L434.5,236.1 L435.2,236.5 L436.0,236.8 L436.8,237.0 L437.5,237.3 L438.2,237.4 L439.0,237.5 L439.8,238.1 L440.5,238.7 L441.2,238.9 L442.0,239.0 L442.8,238.8 L443.5,238.6 L444.2,238.8 L445.0,238.9 L445.8,239.1 L446.5,239.3 L447.2,239.4 L448.0,239.4 L448.8,239.8 L449.5,240.1 L450.2,239.8 L451.0,239.4 L451.8,239.1 L452.5,238.6 L453.2,238.5 L454.0,238.4 L454.8,238.6 L455.5,238.7 L456.2,239.0 L457.0,239.2 L457.8,238.8 L458.5,238.3 L459.2,238.3 L460.0,238.3 L460.8,238.4 L461.5,238.6 L462.2,238.7 L463.0,238.9 L463.8,239.4 L464.5,239.9 L465.2,239.6 L466.0,239.3 L466.8,239.5 L467.5,239.6 L468.2,239.6 L469.0,239.6 L469.8,239.6 L470.5,239.6 L471.2,239.4 L472.0,239.2 L472.8,239.7 L473.5,240.1 L474.2,239.8 L475.0,239.6 L475.8,239.5 L476.5,239.4 L477.2,239.3 L478.0,239.2 L478.8,239.3 L479.5,239.4 L480.2,239.7 L481.0,240.0 L481.8,240.2 L482.5,240.4 L483.2,240.4 L484.0,240.4 L484.8,240.4 L485.5,240.5 L486.2,240.4 L487.0,240.3 L487.8,240.2 L488.5,240.1 L489.2,240.2 L490.0,240.4 L490.8,240.4 L491.5,240.4 L492.2,240.3 L493.0,240.2 L493.8,240.4 L494.5,240.6 L495.2,240.8 L496.0,240.9 L496.8,240.7 L497.5,240.5 L498.2,240.4 L499.0,240.3 L499.8,240.6 L500.5,240.8 L501.2,241.1 L502.0,241.4 L502.8,241.1 L503.5,240.8 L504.2,240.9 L505.0,240.9 L505.8,241.0 L506.5,241.1 L507.2,241.3 L508.0,241.4 L508.8,241.0 L509.5,240.6 L510.2,240.9 L511.0,241.2 L511.8,241.4 L512.5,241.6 L513.2,241.3 L514.0,241.0 L514.8,241.4 L515.5,241.7 L516.2,241.5 L517.0,241.3 L517.8,241.1 L518.5,240.8 L519.2,240.7 L520.0,240.7 L520.8,240.4 L521.5,240.0 L522.2,240.1 L523.0,240.3 L523.8,240.6 L524.5,240.9 L525.2,240.5 L526.0,240.1 L526.8,240.4 L527.5,240.7 L528.2,240.5 L529.0,240.2 L529.8,240.3 L530.5,240.4 L531.2,240.1 L532.0,239.9 L532.8,239.5 L533.5,239.2 L534.2,239.5 L535.0,239.8 L535.8,240.0 L536.5,240.3 L537.2,240.1 L538.0,239.9 L538.8,239.9 L539.5,240.0 L540.2,240.3 L541.0,240.7 L541.8,240.6 L542.5,240.5" fill="none" stroke="#ff0000" stroke-width="1.9" stroke-linejoin="round" stroke-linecap="round"/>
<path d="M86.5,264.4 L87.2,264.2 L88.0,263.9 L88.8,264.7 L89.5,265.5 L90.2,266.3 L91.0,267.0 L91.8,267.5 L92.5,268.0 L93.2,267.4 L94.0,266.7 L94.8,266.2 L95.5,265.6 L96.2,265.6 L97.0,265.6 L97.8,266.8 L98.5,268.0 L99.2,268.5 L100.0,269.0 L100.8,267.8 L101.5,266.7 L102.2,265.3 L103.0,264.0 L103.8,264.2 L104.5,264.4 L105.2,265.9 L106.0,267.4 L106.8,266.5 L107.5,265.6 L108.2,264.2 L109.0,262.9 L109.8,263.5 L110.5,264.1 L111.2,263.7 L112.0,263.3 L112.8,263.5 L113.5,263.7 L114.2,263.9 L115.0,264.0 L115.8,264.1 L116.5,264.1 L117.2,264.8 L118.0,265.5 L118.8,265.2 L119.5,264.8 L120.2,264.5 L121.0,264.2 L121.8,264.8 L122.5,265.4 L123.2,265.6 L124.0,265.7 L124.8,264.3 L125.5,262.9 L126.2,263.4 L127.0,263.9 L127.8,263.8 L128.5,263.6 L129.2,263.9 L130.0,264.2 L130.8,263.7 L131.5,263.2 L132.2,264.0 L133.0,264.7 L133.8,264.8 L134.5,264.9 L135.2,264.5 L136.0,264.2 L136.8,263.7 L137.5,263.2 L138.2,263.4 L139.0,263.6 L139.8,263.1 L140.5,262.7 L141.2,262.7 L142.0,262.8 L142.8,263.7 L143.5,264.7 L144.2,264.4 L145.0,264.2 L145.8,265.5 L146.5,266.9 L147.2,266.4 L148.0,265.8 L148.8,264.1 L149.5,262.3 L150.2,263.1 L151.0,263.8 L151.8,263.2 L152.5,262.6 L153.2,263.2 L154.0,263.9 L154.8,263.8 L155.5,263.8 L156.2,262.7 L157.0,261.7 L157.8,262.6 L158.5,263.6 L159.2,264.2 L160.0,264.8 L160.8,265.5 L161.5,266.2 L162.2,265.4 L163.0,264.6 L163.8,265.5 L164.5,266.4 L165.2,265.5 L166.0,264.6 L166.8,264.7 L167.5,264.8 L168.2,264.8 L169.0,264.9 L169.8,266.2 L170.5,267.5 L171.2,267.5 L172.0,267.4 L172.8,268.3 L173.5,269.1 L174.2,268.2 L175.0,267.2 L175.8,267.1 L176.5,266.9 L177.2,266.7 L178.0,266.5 L178.8,265.6 L179.5,264.7 L180.2,265.1 L181.0,265.4 L181.8,266.2 L182.5,267.0 L183.2,266.2 L184.0,265.4 L184.8,265.5 L185.5,265.7 L186.2,265.8 L187.0,265.9 L187.8,266.3 L188.5,266.6 L189.2,266.0 L190.0,265.4 L190.8,265.4 L191.5,265.3 L192.2,265.6 L193.0,265.8 L193.8,265.5 L194.5,265.3 L195.2,264.8 L196.0,264.4 L196.8,265.1 L197.5,265.8 L198.2,264.5 L199.0,263.3 L199.8,263.0 L200.5,262.7 L201.2,262.9 L202.0,263.1 L202.8,264.4 L203.5,265.6 L204.2,264.9 L205.0,264.1 L205.8,263.4 L206.5,262.7 L207.2,262.8 L208.0,262.9 L208.8,263.8 L209.5,264.6 L210.2,263.9 L211.0,263.2 L211.8,263.1 L212.5,263.1 L213.2,264.0 L214.0,265.0 L214.8,264.1 L215.5,263.2 L216.2,263.6 L217.0,263.9 L217.8,264.1 L218.5,264.4 L219.2,264.2 L220.0,264.0 L220.8,264.4 L221.5,264.8 L222.2,265.5 L223.0,266.2 L223.8,265.1 L224.5,263.9 L225.2,263.0 L226.0,262.1 L226.8,261.9 L227.5,261.6 L228.2,262.6 L229.0,263.6 L229.8,263.8 L230.5,264.0 L231.2,264.3 L232.0,264.7 L232.8,264.3 L233.5,263.9 L234.2,263.8 L235.0,263.7 L235.8,263.5 L236.5,263.4 L237.2,263.6 L238.0,263.8 L238.8,264.2 L239.5,264.6 L240.2,264.3 L241.0,264.1 L241.8,264.6 L242.5,265.1 L243.2,266.2 L244.0,267.4 L244.8,266.4 L245.5,265.5 L246.2,264.4 L247.0,263.3 L247.8,265.1 L248.5,266.9 L249.2,266.2 L250.0,265.4 L250.8,264.4 L251.5,263.5 L252.2,264.3 L253.0,265.1 L253.8,264.6 L254.5,264.0 L255.2,263.5 L256.0,263.0 L256.8,262.9 L257.5,262.8 L258.2,262.7 L259.0,262.7 L259.8,263.6 L260.5,264.4 L261.2,265.2 L262.0,265.9 L262.8,265.3 L263.5,264.8 L264.2,265.4 L265.0,266.0 L265.8,266.8 L266.5,267.5 L267.2,265.7 L268.0,264.0 L268.8,264.3 L269.5,264.7 L270.2,264.3 L271.0,263.9 L271.8,263.2 L272.5,262.5 L273.2,262.6 L274.0,262.8 L274.8,263.6 L275.5,264.4 L276.2,264.8 L277.0,265.1 L277.8,264.7 L278.5,264.3 L279.2,264.6 L280.0,265.0 L280.8,265.4 L281.5,265.9 L282.2,265.8 L283.0,265.7 L283.8,266.0 L284.5,266.2 L285.2,266.0 L286.0,265.9 L286.8,266.0 L287.5,266.2 L288.2,266.9 L289.0,267.7 L289.8,267.0 L290.5,266.3 L291.2,265.9 L292.0,265.4 L292.8,265.5 L293.5,265.5 L294.2,264.6 L295.0,263.6 L295.8,263.9 L296.5,264.2 L297.2,264.9 L298.0,265.6 L298.8,265.7 L299.5,265.8 L300.2,266.0 L301.0,266.3 L301.8,265.1 L302.5,263.8 L303.2,263.2 L304.0,262.5 L304.8,264.6 L305.5,266.6 L306.2,266.3 L307.0,266.0 L307.8,264.8 L308.5,263.6 L309.2,264.8 L310.0,265.9 L310.8,265.1 L311.5,264.3 L312.2,263.0 L313.0,261.8 L313.8,262.5 L314.5,263.1 L315.2,263.5 L316.0,263.9 L316.8,264.9 L317.5,265.9 L318.2,264.7 L319.0,263.4 L319.8,263.3 L320.5,263.3 L321.2,263.4 L322.0,263.5 L322.8,263.5 L323.5,263.4 L324.2,263.2 L325.0,263.1 L325.8,264.0 L326.5,264.9 L327.2,265.5 L328.0,266.2 L328.8,265.7 L329.5,265.3 L330.2,264.1 L331.0,262.9 L331.8,262.7 L332.5,262.5 L333.2,263.2 L334.0,263.9 L334.8,263.5 L335.5,263.1 L336.2,262.9 L337.0,262.7 L337.8,262.5 L338.5,262.3 L339.2,264.6 L340.0,266.9 L340.8,266.6 L341.5,266.2 L342.2,265.2 L343.0,264.2 L343.8,265.4 L344.5,266.6 L345.2,266.7 L346.0,266.7 L346.8,264.6 L347.5,262.4 L348.2,263.2 L349.0,263.9 L349.8,264.5 L350.5,265.1 L351.2,265.7 L352.0,266.3 L352.8,266.0 L353.5,265.6 L354.2,265.4 L355.0,265.3 L355.8,265.6 L356.5,266.0 L357.2,267.4 L358.0,268.8 L358.8,268.9 L359.5,268.9 L360.2,267.1 L361.0,265.2 L361.8,265.1 L362.5,264.9 L363.2,266.8 L364.0,268.7 L364.8,266.8 L365.5,265.0 L366.2,264.8 L367.0,264.7 L367.8,265.2 L368.5,265.8 L369.2,266.3 L370.0,266.7 L370.8,267.1 L371.5,267.4 L372.2,266.9 L373.0,266.4 L373.8,265.6 L374.5,264.9 L375.2,265.6 L376.0,266.3 L376.8,266.6 L377.5,266.9 L378.2,267.6 L379.0,268.4 L379.8,267.2 L380.5,266.0 L381.2,264.8 L382.0,263.7 L382.8,264.1 L383.5,264.5 L384.2,266.0 L385.0,267.4 L385.8,266.2 L386.5,265.1 L387.2,263.9 L388.0,262.8 L388.8,263.6 L389.5,264.5 L390.2,265.3 L391.0,266.0 L391.8,266.6 L392.5,267.1 L393.2,266.1 L394.0,265.1 L394.8,265.9 L395.5,266.8 L396.2,267.0 L397.0,267.2 L397.8,266.3 L398.5,265.4 L399.2,265.8 L400.0,266.2 L400.8,267.6 L401.5,269.1 L402.2,269.2 L403.0,269.3 L403.8,268.6 L404.5,268.0 L405.2,267.6 L406.0,267.2 L406.8,267.5 L407.5,267.8 L408.2,267.0 L409.0,266.3 L409.8,266.0 L410.5,265.7 L411.2,265.2 L412.0,264.8 L412.8,265.2 L413.5,265.6 L414.2,266.0 L415.0,266.4 L415.8,267.8 L416.5,269.3 L417.2,267.9 L418.0,266.5 L418.8,267.0 L419.5,267.6 L420.2,267.6 L421.0,267.6 L421.8,266.8 L422.5,266.0 L423.2,266.2 L424.0,266.5 L424.8,264.8 L425.5,263.1 L426.2,264.3 L427.0,265.5 L427.8,266.0 L428.5,266.4 L429.2,264.4 L430.0,262.4 L430.8,263.1 L431.5,263.7 L432.2,265.2 L433.0,266.6 L433.8,265.9 L434.5,265.1 L435.2,264.5 L436.0,263.8 L436.8,264.2 L437.5,264.5 L438.2,264.7 L439.0,264.8 L439.8,265.6 L440.5,266.4 L441.2,266.2 L442.0,265.9 L442.8,265.2 L443.5,264.4 L444.2,264.0 L445.0,263.6 L445.8,264.0 L446.5,264.4 L447.2,265.2 L448.0,266.1 L448.8,265.6 L449.5,265.2 L450.2,265.1 L451.0,265.0 L451.8,264.3 L452.5,263.6 L453.2,263.0 L454.0,262.3 L454.8,262.9 L455.5,263.5 L456.2,264.5 L457.0,265.6 L457.8,265.5 L458.5,265.3 L459.2,264.4 L460.0,263.5 L460.8,263.1 L461.5,262.7 L462.2,263.7 L463.0,264.7 L463.8,264.6 L464.5,264.5 L465.2,264.5 L466.0,264.5 L466.8,264.6 L467.5,264.8 L468.2,265.2 L469.0,265.7 L469.8,265.9 L470.5,266.2 L471.2,266.6 L472.0,267.0 L472.8,267.1 L473.5,267.1 L474.2,267.3 L475.0,267.4 L475.8,266.9 L476.5,266.4 L477.2,265.6 L478.0,264.7 L478.8,264.8 L479.5,264.9 L480.2,265.2 L481.0,265.4 L481.8,265.1 L482.5,264.7 L483.2,265.2 L484.0,265.8 L484.8,266.0 L485.5,266.3 L486.2,264.9 L487.0,263.5 L487.8,263.0 L488.5,262.4 L489.2,264.1 L490.0,265.7 L490.8,265.3 L491.5,265.0 L492.2,264.9 L493.0,264.8 L493.8,263.9 L494.5,263.0 L495.2,264.8 L496.0,266.5 L496.8,266.3 L497.5,266.1 L498.2,265.5 L499.0,264.8 L499.8,264.7 L500.5,264.7 L501.2,264.8 L502.0,265.0 L502.8,264.8 L503.5,264.6 L504.2,264.2 L505.0,263.9 L505.8,263.6 L506.5,263.3 L507.2,264.6 L508.0,266.0 L508.8,265.6 L509.5,265.1 L510.2,265.1 L511.0,265.0 L511.8,264.7 L512.5,264.5 L513.2,263.2 L514.0,262.0 L514.8,263.4 L515.5,264.9 L516.2,264.7 L517.0,264.5 L517.8,264.5 L518.5,264.4 L519.2,264.5 L520.0,264.6 L520.8,264.2 L521.5,263.8 L522.2,264.5 L523.0,265.2 L523.8,264.3 L524.5,263.3 L525.2,262.8 L526.0,262.3 L526.8,262.3 L527.5,262.2 L528.2,262.7 L529.0,263.2 L529.8,263.3 L530.5,263.5 L531.2,262.5 L532.0,261.6 L532.8,261.4 L533.5,261.3 L534.2,262.9 L535.0,264.4 L535.8,263.8 L536.5,263.0 L537.2,264.0 L538.0,265.1 L538.8,264.5 L539.5,263.9 L540.2,263.3 L541.0,262.7 L541.8,262.8 L542.5,262.9" fill="none" stroke="#ff7a14" stroke-width="1.9" stroke-linejoin="round" stroke-linecap="round"/>
<path d="M392.1,25 L394.5,23 L397,24.4 L399.2,29.5 L399.4,33 L396.8,31 L394.6,29.6 L392.3,30.6 Z" fill="#ff0000"/>
<line x1="85.7" y1="14.8" x2="85.7" y2="285.4" stroke="#000" stroke-width="2"/>
<line x1="79.5" y1="279.8" x2="543.6" y2="279.8" stroke="#000" stroke-width="1.9"/>
<line x1="79.5" y1="253.3" x2="85.7" y2="253.3" stroke="#000" stroke-width="1.8"/>
<line x1="79.5" y1="226.9" x2="85.7" y2="226.9" stroke="#000" stroke-width="1.8"/>
<text x="75.6" y="233.9" text-anchor="end" class="tk">20</text>
<line x1="79.5" y1="200.5" x2="85.7" y2="200.5" stroke="#000" stroke-width="1.8"/>
<line x1="79.5" y1="174.1" x2="85.7" y2="174.1" stroke="#000" stroke-width="1.8"/>
<text x="75.6" y="181.1" text-anchor="end" class="tk">40</text>
<line x1="79.5" y1="147.6" x2="85.7" y2="147.6" stroke="#000" stroke-width="1.8"/>
<line x1="79.5" y1="121.2" x2="85.7" y2="121.2" stroke="#000" stroke-width="1.8"/>
<text x="75.6" y="128.2" text-anchor="end" class="tk">60</text>
<line x1="79.5" y1="94.8" x2="85.7" y2="94.8" stroke="#000" stroke-width="1.8"/>
<line x1="79.5" y1="68.4" x2="85.7" y2="68.4" stroke="#000" stroke-width="1.8"/>
<text x="75.6" y="75.4" text-anchor="end" class="tk">80</text>
<line x1="79.5" y1="42.0" x2="85.7" y2="42.0" stroke="#000" stroke-width="1.8"/>
<line x1="79.5" y1="15.6" x2="85.7" y2="15.6" stroke="#000" stroke-width="1.8"/>
<text x="75.6" y="22.6" text-anchor="end" class="tk">100</text>
<text x="77.3" y="284.5" text-anchor="end" class="tk">0</text>
<line x1="113.9" y1="279.8" x2="113.9" y2="285.4" stroke="#000" stroke-width="1.8"/>
<line x1="140.1" y1="279.8" x2="140.1" y2="285.4" stroke="#000" stroke-width="1.8"/>
<text x="139.7" y="300.6" text-anchor="middle" class="tk">4</text>
<line x1="166.3" y1="279.8" x2="166.3" y2="285.4" stroke="#000" stroke-width="1.8"/>
<line x1="192.4" y1="279.8" x2="192.4" y2="285.4" stroke="#000" stroke-width="1.8"/>
<text x="193.0" y="300.6" text-anchor="middle" class="tk">8</text>
<line x1="218.6" y1="279.8" x2="218.6" y2="285.4" stroke="#000" stroke-width="1.8"/>
<line x1="244.8" y1="279.8" x2="244.8" y2="285.4" stroke="#000" stroke-width="1.8"/>
<text x="246.7" y="300.6" text-anchor="middle" class="tk">12</text>
<line x1="270.9" y1="279.8" x2="270.9" y2="285.4" stroke="#000" stroke-width="1.8"/>
<line x1="297.1" y1="279.8" x2="297.1" y2="285.4" stroke="#000" stroke-width="1.8"/>
<text x="295.6" y="300.6" text-anchor="middle" class="tk">16</text>
<line x1="323.3" y1="279.8" x2="323.3" y2="285.4" stroke="#000" stroke-width="1.8"/>
<line x1="349.5" y1="279.8" x2="349.5" y2="285.4" stroke="#000" stroke-width="1.8"/>
<text x="349.5" y="300.6" text-anchor="middle" class="tk">20</text>
<line x1="375.6" y1="279.8" x2="375.6" y2="285.4" stroke="#000" stroke-width="1.8"/>
<line x1="401.8" y1="279.8" x2="401.8" y2="285.4" stroke="#000" stroke-width="1.8"/>
<text x="401.7" y="300.6" text-anchor="middle" class="tk">24</text>
<line x1="428.0" y1="279.8" x2="428.0" y2="285.4" stroke="#000" stroke-width="1.8"/>
<line x1="454.1" y1="279.8" x2="454.1" y2="285.4" stroke="#000" stroke-width="1.8"/>
<text x="455.1" y="300.6" text-anchor="middle" class="tk">28</text>
<line x1="480.3" y1="279.8" x2="480.3" y2="285.4" stroke="#000" stroke-width="1.8"/>
<line x1="506.5" y1="279.8" x2="506.5" y2="285.4" stroke="#000" stroke-width="1.8"/>
<text x="508.2" y="300.6" text-anchor="middle" class="tk">32</text>
<line x1="532.6" y1="279.8" x2="532.6" y2="285.4" stroke="#000" stroke-width="1.8"/>
<text x="83.6" y="300.6" text-anchor="middle" class="tk">0</text>
<text x="325.8" y="318" text-anchor="middle" class="tt">Time (min)</text>
<text transform="translate(53.8,142.4) rotate(-90)" text-anchor="middle" class="tt">Relative Abundance (%)</text>
<line x1="133.9" y1="23.4" x2="145.8" y2="23.4" stroke="#0f5fc8" stroke-width="2.1"/>
<text x="151.6" y="28.7" class="lg">0 h</text>
<line x1="133.9" y1="45.0" x2="145.9" y2="45.0" stroke="#58c62c" stroke-width="2.1"/>
<text x="151.6" y="50.4" class="lg">2 h</text>
<line x1="134.0" y1="67.8" x2="146.2" y2="67.8" stroke="#ff0000" stroke-width="2.1"/>
<text x="151.6" y="71.9" class="lg">4 h</text>
<line x1="135.0" y1="88.5" x2="147.8" y2="88.5" stroke="#000000" stroke-width="2.3"/>
<text x="151.6" y="93.6" class="lg">6 h</text>
<line x1="135.0" y1="109.4" x2="147.0" y2="109.4" stroke="#ff7a14" stroke-width="2.1"/>
<text x="151.6" y="115.4" class="lg">BLANK</text>
</g>
<g id="chartB">
<path d="M86.5,576.8 L87.2,577.1 L88.0,577.3 L88.8,578.1 L89.5,578.9 L90.2,578.6 L91.0,578.4 L91.8,578.9 L92.5,579.5 L93.2,579.5 L94.0,579.5 L94.8,578.5 L95.5,577.5 L96.2,578.5 L97.0,579.5 L97.8,579.1 L98.5,578.8 L99.2,580.0 L100.0,581.2 L100.8,580.5 L101.5,579.7 L102.2,578.8 L103.0,577.9 L103.8,578.1 L104.5,578.3 L105.2,578.5 L106.0,578.7 L106.8,579.0 L107.5,579.3 L108.2,579.9 L109.0,580.5 L109.8,580.4 L110.5,580.2 L111.2,580.5 L112.0,580.8 L112.8,580.0 L113.5,579.2 L114.2,578.3 L115.0,577.3 L115.8,576.2 L116.5,575.1 L117.2,575.1 L118.0,575.1 L118.8,576.3 L119.5,577.4 L120.2,578.0 L121.0,578.7 L121.8,578.9 L122.5,579.2 L123.2,578.1 L124.0,577.1 L124.8,577.1 L125.5,577.2 L126.2,576.8 L127.0,576.4 L127.8,576.3 L128.5,576.2 L129.2,575.4 L130.0,574.6 L130.8,576.0 L131.5,577.3 L132.2,576.8 L133.0,576.3 L133.8,576.5 L134.5,576.7 L135.2,577.0 L136.0,577.4 L136.8,577.1 L137.5,576.8 L138.2,576.1 L139.0,575.4 L139.8,576.8 L140.5,578.2 L141.2,578.0 L142.0,577.9 L142.8,577.5 L143.5,577.1 L144.2,576.2 L145.0,575.4 L145.8,574.6 L146.5,573.9 L147.2,574.1 L148.0,574.2 L148.8,575.3 L149.5,576.3 L150.2,576.8 L151.0,577.2 L151.8,577.2 L152.5,577.2 L153.2,578.3 L154.0,579.4 L154.8,578.8 L155.5,578.2 L156.2,578.3 L157.0,578.4 L157.8,578.0 L158.5,577.7 L159.2,576.7 L160.0,575.7 L160.8,576.6 L161.5,577.5 L162.2,577.2 L163.0,576.8 L163.8,575.9 L164.5,575.0 L165.2,576.2 L166.0,577.5 L166.8,578.1 L167.5,578.7 L168.2,578.9 L169.0,579.1 L169.8,579.0 L170.5,578.9 L171.2,577.4 L172.0,576.0 L172.8,576.3 L173.5,576.5 L174.2,576.5 L175.0,576.4 L175.8,576.7 L176.5,576.9 L177.2,577.2 L178.0,577.4 L178.8,578.0 L179.5,578.5 L180.2,578.2 L181.0,577.9 L181.8,577.1 L182.5,576.3 L183.2,577.2 L184.0,578.0 L184.8,578.5 L185.5,578.9 L186.2,577.9 L187.0,576.9 L187.8,575.6 L188.5,574.4 L189.2,574.8 L190.0,575.2 L190.8,575.5 L191.5,575.8 L192.2,575.2 L193.0,574.6 L193.8,575.3 L194.5,575.9 L195.2,575.6 L196.0,575.3 L196.8,576.4 L197.5,577.5 L198.2,577.5 L199.0,577.6 L199.8,576.9 L200.5,576.2 L201.2,575.6 L202.0,575.0 L202.8,575.7 L203.5,576.4 L204.2,576.1 L205.0,575.8 L205.8,575.9 L206.5,576.0 L207.2,576.8 L208.0,577.7 L208.8,576.7 L209.5,575.7 L210.2,575.3 L211.0,574.9 L211.8,576.3 L212.5,577.6 L213.2,578.5 L214.0,579.3 L214.8,579.2 L215.5,579.1 L216.2,578.7 L217.0,578.4 L217.8,578.7 L218.5,579.1 L219.2,578.1 L220.0,577.1 L220.8,578.3 L221.5,579.6 L222.2,579.6 L223.0,579.5 L223.8,578.1 L224.5,576.8 L225.2,576.6 L226.0,576.4 L226.8,575.5 L227.5,574.5 L228.2,574.5 L229.0,574.6 L229.8,575.3 L230.5,576.0 L231.2,575.4 L232.0,574.7 L232.8,575.4 L233.5,576.0 L234.2,576.4 L235.0,576.7 L235.8,576.6 L236.5,576.6 L237.2,577.1 L238.0,577.7 L238.8,578.1 L239.5,578.6 L240.2,577.7 L241.0,576.8 L241.8,577.1 L242.5,577.5 L243.2,577.7 L244.0,577.9 L244.8,576.8 L245.5,575.7 L246.2,575.1 L247.0,574.5 L247.8,573.9 L248.5,573.2 L249.2,574.8 L250.0,576.4 L250.8,577.1 L251.5,577.8 L252.2,577.7 L253.0,577.6 L253.8,578.5 L254.5,579.4 L255.2,579.1 L256.0,578.9 L256.8,578.3 L257.5,577.6 L258.2,576.9 L259.0,576.2 L259.8,575.7 L260.5,575.2 L261.2,575.6 L262.0,576.0 L262.8,576.1 L263.5,576.2 L264.2,575.7 L265.0,575.2 L265.8,574.8 L266.5,574.5 L267.2,574.7 L268.0,575.0 L268.8,575.5 L269.5,576.0 L270.2,575.1 L271.0,574.2 L271.8,574.9 L272.5,575.7 L273.2,576.1 L274.0,576.5 L274.8,576.8 L275.5,577.1 L276.2,577.0 L277.0,576.9 L277.8,576.1 L278.5,575.4 L279.2,575.0 L280.0,574.6 L280.8,574.5 L281.5,574.4 L282.2,575.7 L283.0,577.0 L283.8,576.9 L284.5,576.8 L285.2,576.4 L286.0,575.9 L286.8,575.3 L287.5,574.6 L288.2,574.5 L289.0,574.5 L289.8,575.7 L290.5,576.9 L291.2,576.5 L292.0,576.2 L292.8,576.5 L293.5,576.8 L294.2,577.3 L295.0,577.7 L295.8,576.0 L296.5,574.2 L297.2,574.5 L298.0,574.7 L298.8,575.6 L299.5,576.6 L300.2,576.7 L301.0,576.9 L301.8,576.1 L302.5,575.3 L303.2,575.6 L304.0,575.8 L304.8,575.6 L305.5,575.4 L306.2,575.4 L307.0,575.4 L307.8,575.9 L308.5,576.4 L309.2,576.6 L310.0,576.8 L310.8,577.3 L311.5,577.8 L312.2,577.7 L313.0,577.6 L313.8,577.8 L314.5,578.0 L315.2,576.9 L316.0,575.8 L316.8,576.1 L317.5,576.4 L318.2,575.4 L319.0,574.5 L319.8,574.2 L320.5,573.9 L321.2,574.3 L322.0,574.7 L322.8,576.0 L323.5,577.3 L324.2,577.1 L325.0,576.8 L325.8,576.1 L326.5,575.3 L327.2,576.7 L328.0,578.1 L328.8,578.0 L329.5,577.9 L330.2,577.0 L331.0,576.2 L331.8,575.9 L332.5,575.6 L333.2,575.6 L334.0,575.6 L334.8,575.3 L335.5,575.1 L336.2,576.8 L337.0,578.4 L337.8,577.2 L338.5,576.0 L339.2,575.8 L340.0,575.5 L340.8,575.4 L341.5,575.3 L342.2,575.0 L343.0,574.7 L343.8,574.7 L344.5,574.7 L345.2,575.2 L346.0,575.8 L346.8,575.0 L347.5,574.3 L348.2,574.2 L349.0,574.2 L349.8,574.6 L350.5,575.0 L351.2,576.0 L352.0,576.9 L352.8,576.2 L353.5,575.5 L354.2,575.6 L355.0,575.7 L355.8,576.4 L356.5,577.2 L357.2,576.6 L358.0,576.0 L358.8,576.5 L359.5,577.0 L360.2,577.8 L361.0,578.6 L361.8,578.4 L362.5,578.2 L363.2,578.2 L364.0,578.1 L364.8,578.7 L365.5,579.3 L366.2,578.3 L367.0,577.3 L367.8,576.8 L368.5,576.2 L369.2,575.8 L370.0,575.3 L370.8,576.3 L371.5,577.4 L372.2,577.8 L373.0,578.3 L373.8,577.9 L374.5,577.6 L375.2,578.8 L376.0,580.1 L376.8,579.9 L377.5,579.7 L378.2,579.2 L379.0,578.8 L379.8,577.7 L380.5,576.5 L381.2,577.2 L382.0,577.9 L382.8,577.9 L383.5,577.9 L384.2,576.7 L385.0,575.6 L385.8,576.5 L386.5,577.4 L387.2,577.4 L388.0,577.3 L388.8,576.7 L389.5,576.1 L390.2,577.5 L391.0,578.9 L391.8,580.0 L392.5,581.1 L393.2,580.1 L394.0,579.2 L394.8,577.9 L395.5,576.7 L396.2,576.9 L397.0,577.1 L397.8,577.6 L398.5,578.0 L399.2,577.0 L400.0,575.8 L400.8,575.9 L401.5,576.0 L402.2,575.5 L403.0,575.0 L403.8,575.0 L404.5,575.5 L405.2,576.8 L406.0,578.2 L406.8,577.4 L407.5,576.0 L408.2,577.1 L409.0,578.2 L409.8,577.9 L410.5,577.7 L411.2,577.0 L412.0,576.4 L412.8,575.5 L413.5,574.7 L414.2,575.5 L415.0,576.3 L415.8,575.7 L416.5,575.0 L417.2,573.7 L418.0,572.3 L418.8,573.0 L419.5,573.7 L420.2,574.1 L421.0,574.5 L421.8,574.7 L422.5,574.9 L423.2,575.2 L424.0,575.4 L424.8,575.6 L425.5,575.8 L426.2,577.1 L427.0,578.4 L427.8,578.3 L428.5,578.1 L429.2,577.4 L430.0,576.8 L430.8,577.6 L431.5,578.3 L432.2,578.7 L433.0,579.1 L433.8,577.9 L434.5,576.6 L435.2,575.6 L436.0,574.6 L436.8,575.7 L437.5,576.7 L438.2,577.3 L439.0,578.0 L439.8,576.9 L440.5,575.7 L441.2,576.1 L442.0,576.4 L442.8,577.0 L443.5,577.7 L444.2,577.8 L445.0,577.9 L445.8,577.6 L446.5,577.3 L447.2,577.0 L448.0,576.7 L448.8,576.3 L449.5,576.0 L450.2,575.9 L451.0,575.9 L451.8,576.9 L452.5,577.9 L453.2,577.8 L454.0,577.7 L454.8,576.7 L455.5,575.8 L456.2,575.7 L457.0,575.5 L457.8,576.6 L458.5,577.7 L459.2,577.6 L460.0,577.5 L460.8,576.3 L461.5,575.1 L462.2,574.6 L463.0,574.1 L463.8,575.2 L464.5,576.3 L465.2,577.0 L466.0,577.8 L466.8,578.0 L467.5,578.2 L468.2,577.9 L469.0,577.6 L469.8,576.4 L470.5,575.2 L471.2,575.8 L472.0,576.3 L472.8,576.2 L473.5,576.1 L474.2,576.2 L475.0,576.3 L475.8,578.0 L476.5,579.6 L477.2,578.4 L478.0,577.2 L478.8,576.9 L479.5,576.6 L480.2,576.3 L481.0,576.1 L481.8,576.7 L482.5,577.2 L483.2,577.5 L484.0,577.8 L484.8,577.1 L485.5,576.3 L486.2,576.3 L487.0,576.3 L487.8,576.0 L488.5,575.8 L489.2,575.5 L490.0,575.2 L490.8,575.8 L491.5,576.3 L492.2,576.7 L493.0,577.2 L493.8,577.0 L494.5,576.9 L495.2,576.5 L496.0,576.1 L496.8,575.3 L497.5,574.6 L498.2,575.8 L499.0,576.9 L499.8,577.3 L500.5,577.7 L501.2,578.1 L502.0,578.5 L502.8,577.2 L503.5,575.8 L504.2,574.9 L505.0,574.0 L505.8,573.6 L506.5,573.3 L507.2,574.2 L508.0,575.1 L508.8,575.7 L509.5,576.4 L510.2,576.6 L511.0,576.7 L511.8,575.9 L512.5,575.0 L513.2,575.5 L514.0,576.1 L514.8,577.0 L515.5,577.9 L516.2,577.4 L517.0,576.9 L517.8,576.4 L518.5,576.0 L519.2,575.7 L520.0,575.5 L520.8,574.7 L521.5,574.0 L522.2,574.0 L523.0,574.1 L523.8,574.9 L524.5,575.6 L525.2,576.9 L526.0,578.1 L526.8,578.0 L527.5,577.8 L528.2,576.9 L529.0,576.0 L529.8,576.0 L530.5,576.1 L531.2,575.8 L532.0,575.6 L532.8,575.6 L533.5,575.7 L534.2,574.9 L535.0,574.2 L535.8,575.0 L536.5,575.8 L537.2,576.4 L538.0,577.0 L538.8,576.0 L539.5,574.9 L540.2,575.4 L541.0,575.9 L541.8,576.3 L542.5,576.7" fill="none" stroke="#ff7a14" stroke-width="1.9" stroke-linejoin="round" stroke-linecap="round"/>
<path d="M86.5,581.0 L87.2,580.2 L88.0,579.4 L88.8,578.7 L89.5,578.5 L90.2,578.1 L91.0,577.6 L91.8,577.5 L92.5,577.4 L93.2,577.4 L94.0,577.4 L94.8,577.6 L95.5,577.8 L96.2,577.8 L97.0,577.7 L97.8,577.7 L98.5,577.8 L99.2,577.4 L100.0,577.0 L100.8,577.6 L101.5,578.2 L102.2,578.0 L103.0,577.9 L103.8,577.9 L104.5,578.0 L105.2,577.8 L106.0,577.7 L106.8,577.6 L107.5,577.5 L108.2,577.7 L109.0,577.9 L109.8,577.9 L110.5,578.0 L111.2,577.8 L112.0,577.6 L112.8,577.6 L113.5,577.6 L114.2,577.8 L115.0,577.9 L115.8,577.6 L116.5,577.3 L117.2,577.1 L118.0,576.9 L118.8,577.2 L119.5,577.5 L120.2,577.3 L121.0,577.0 L121.8,576.7 L122.5,576.3 L123.2,576.5 L124.0,576.8 L124.8,576.9 L125.5,577.0 L126.2,576.8 L127.0,576.7 L127.8,576.7 L128.5,576.7 L129.2,577.1 L130.0,577.5 L130.8,577.8 L131.5,578.1 L132.2,577.9 L133.0,577.7 L133.8,577.6 L134.5,577.5 L135.2,577.7 L136.0,577.9 L136.8,577.9 L137.5,577.9 L138.2,577.7 L139.0,577.4 L139.8,577.5 L140.5,577.6 L141.2,577.7 L142.0,577.8 L142.8,577.5 L143.5,577.2 L144.2,577.1 L145.0,576.9 L145.8,577.1 L146.5,577.4 L147.2,577.5 L148.0,577.6 L148.8,577.6 L149.5,577.7 L150.2,577.3 L151.0,576.8 L151.8,576.8 L152.5,576.9 L153.2,576.8 L154.0,576.8 L154.8,576.6 L155.5,576.5 L156.2,576.9 L157.0,577.3 L157.8,577.5 L158.5,577.6 L159.2,577.4 L160.0,577.3 L160.8,577.7 L161.5,578.1 L162.2,578.1 L163.0,578.1 L163.8,578.0 L164.5,577.9 L165.2,577.9 L166.0,577.8 L166.8,577.8 L167.5,577.8 L168.2,577.4 L169.0,577.0 L169.8,577.3 L170.5,577.6 L171.2,577.6 L172.0,577.6 L172.8,577.1 L173.5,576.6 L174.2,577.0 L175.0,577.3 L175.8,577.3 L176.5,577.3 L177.2,577.4 L178.0,577.6 L178.8,577.4 L179.5,577.2 L180.2,577.3 L181.0,577.4 L181.8,577.4 L182.5,577.5 L183.2,577.4 L184.0,577.2 L184.8,577.5 L185.5,577.8 L186.2,577.8 L187.0,577.8 L187.8,577.9 L188.5,578.0 L189.2,577.8 L190.0,577.7 L190.8,577.9 L191.5,578.2 L192.2,578.1 L193.0,578.0 L193.8,577.8 L194.5,577.6 L195.2,577.7 L196.0,577.8 L196.8,578.0 L197.5,578.1 L198.2,578.0 L199.0,577.9 L199.8,577.2 L200.5,576.5 L201.2,577.0 L202.0,577.4 L202.8,577.4 L203.5,577.5 L204.2,577.3 L205.0,577.2 L205.8,577.1 L206.5,577.0 L207.2,577.4 L208.0,577.7 L208.8,577.3 L209.5,576.9 L210.2,577.2 L211.0,577.6 L211.8,577.7 L212.5,577.8 L213.2,577.2 L214.0,576.7 L214.8,576.8 L215.5,577.0 L216.2,576.9 L217.0,576.8 L217.8,577.2 L218.5,577.6 L219.2,578.0 L220.0,578.4 L220.8,578.4 L221.5,578.3 L222.2,577.5 L223.0,576.7 L223.8,576.9 L224.5,577.0 L225.2,577.4 L226.0,577.9 L226.8,578.1 L227.5,578.4 L228.2,578.1 L229.0,577.9 L229.8,577.7 L230.5,577.4 L231.2,577.6 L232.0,577.7 L232.8,577.7 L233.5,577.6 L234.2,577.5 L235.0,577.4 L235.8,577.3 L236.5,577.2 L237.2,577.4 L238.0,577.7 L238.8,577.7 L239.5,577.7 L240.2,577.6 L241.0,577.5 L241.8,577.4 L242.5,577.3 L243.2,577.1 L244.0,576.8 L244.8,577.0 L245.5,577.2 L246.2,577.6 L247.0,577.9 L247.8,577.6 L248.5,577.3 L249.2,577.1 L250.0,576.9 L250.8,577.4 L251.5,577.9 L252.2,578.0 L253.0,578.0 L253.8,578.2 L254.5,578.4 L255.2,578.0 L256.0,577.6 L256.8,577.3 L257.5,577.1 L258.2,577.0 L259.0,576.9 L259.8,577.5 L260.5,578.2 L261.2,578.5 L262.0,578.7 L262.8,578.0 L263.5,577.3 L264.2,577.3 L265.0,577.3 L265.8,577.5 L266.5,577.7 L267.2,577.5 L268.0,577.2 L268.8,577.3 L269.5,577.3 L270.2,577.3 L271.0,577.4 L271.8,577.5 L272.5,577.7 L273.2,577.8 L274.0,578.0 L274.8,577.8 L275.5,577.7 L276.2,577.7 L277.0,577.8 L277.8,577.6 L278.5,577.3 L279.2,577.3 L280.0,577.4 L280.8,576.9 L281.5,576.4 L282.2,576.6 L283.0,576.8 L283.8,577.3 L284.5,577.8 L285.2,577.7 L286.0,577.5 L286.8,577.7 L287.5,577.8 L288.2,577.9 L289.0,578.0 L289.8,578.1 L290.5,578.3 L291.2,578.2 L292.0,578.1 L292.8,578.1 L293.5,578.0 L294.2,577.8 L295.0,577.5 L295.8,577.3 L296.5,577.1 L297.2,577.1 L298.0,577.0 L298.8,577.0 L299.5,577.0 L300.2,576.9 L301.0,576.8 L301.8,576.9 L302.5,577.0 L303.2,577.2 L304.0,577.3 L304.8,577.4 L305.5,577.5 L306.2,577.3 L307.0,577.1 L307.8,576.8 L308.5,576.5 L309.2,576.9 L310.0,577.3 L310.8,577.5 L311.5,577.7 L312.2,577.9 L313.0,578.0 L313.8,577.9 L314.5,577.8 L315.2,577.4 L316.0,577.1 L316.8,577.1 L317.5,577.1 L318.2,577.6 L319.0,578.2 L319.8,578.0 L320.5,577.9 L321.2,578.2 L322.0,578.4 L322.8,578.5 L323.5,578.5 L324.2,578.0 L325.0,577.5 L325.8,577.7 L326.5,577.9 L327.2,578.0 L328.0,578.0 L328.8,578.1 L329.5,578.1 L330.2,578.0 L331.0,578.0 L331.8,577.9 L332.5,577.8 L333.2,577.7 L334.0,577.6 L334.8,577.3 L335.5,576.9 L336.2,577.1 L337.0,577.3 L337.8,577.3 L338.5,577.2 L339.2,577.4 L340.0,577.6 L340.8,577.5 L341.5,577.5 L342.2,577.8 L343.0,578.0 L343.8,578.1 L344.5,578.2 L345.2,578.1 L346.0,578.0 L346.8,577.9 L347.5,577.9 L348.2,577.8 L349.0,577.7 L349.8,577.6 L350.5,577.5 L351.2,577.5 L352.0,577.5 L352.8,577.5 L353.5,577.5 L354.2,577.6 L355.0,577.8 L355.8,577.8 L356.5,577.8 L357.2,577.7 L358.0,577.7 L358.8,577.3 L359.5,577.0 L360.2,577.3 L361.0,577.5 L361.8,577.2 L362.5,576.9 L363.2,576.9 L364.0,576.9 L364.8,577.0 L365.5,577.2 L366.2,577.2 L367.0,577.3 L367.8,577.5 L368.5,577.6 L369.2,577.6 L370.0,577.6 L370.8,577.3 L371.5,576.5 L372.2,575.4 L373.0,574.0 L373.8,571.8 L374.5,568.6 L375.2,564.6 L376.0,559.1 L376.8,552.4 L377.5,544.7 L378.2,535.4 L379.0,526.0 L379.8,516.6 L380.5,507.4 L381.2,499.7 L382.0,493.5 L382.8,487.1 L383.5,480.2 L384.2,471.8 L385.0,462.4 L385.8,453.5 L386.5,443.2 L387.2,432.6 L388.0,424.0 L388.8,420.3 L389.5,418.7 L390.2,417.9 L391.0,418.0 L391.8,418.9 L392.5,420.3 L393.2,422.6 L394.0,427.2 L394.8,434.0 L395.5,444.4 L396.2,455.7 L397.0,466.2 L397.8,475.1 L398.5,484.8 L399.2,496.3 L400.0,510.0 L400.8,521.0 L401.5,530.0 L402.2,536.7 L403.0,542.2 L403.8,546.5 L404.5,550.2 L405.2,553.3 L406.0,556.0 L406.8,558.3 L407.5,560.5 L408.2,562.4 L409.0,564.1 L409.8,565.6 L410.5,566.8 L411.2,568.0 L412.0,569.0 L412.8,570.0 L413.5,570.8 L414.2,571.5 L415.0,572.0 L415.8,572.4 L416.5,572.7 L417.2,573.1 L418.0,573.3 L418.8,573.6 L419.5,573.8 L420.2,574.0 L421.0,574.2 L421.8,574.4 L422.5,574.5 L423.2,574.6 L424.0,574.7 L424.8,574.8 L425.5,574.9 L426.2,574.8 L427.0,574.7 L427.8,574.6 L428.5,574.5 L429.2,574.6 L430.0,574.9 L430.8,575.5 L431.5,576.0 L432.2,576.3 L433.0,576.5 L433.8,576.3 L434.5,576.1 L435.2,576.2 L436.0,576.3 L436.8,576.0 L437.5,575.6 L438.2,575.3 L439.0,575.0 L439.8,575.4 L440.5,575.8 L441.2,576.0 L442.0,576.2 L442.8,576.1 L443.5,576.0 L444.2,576.2 L445.0,576.4 L445.8,576.5 L446.5,576.6 L447.2,576.3 L448.0,575.9 L448.8,575.8 L449.5,575.6 L450.2,575.9 L451.0,576.1 L451.8,576.2 L452.5,576.2 L453.2,576.3 L454.0,576.3 L454.8,576.7 L455.5,577.0 L456.2,577.2 L457.0,577.3 L457.8,576.9 L458.5,576.6 L459.2,576.7 L460.0,576.9 L460.8,577.0 L461.5,577.1 L462.2,577.1 L463.0,577.1 L463.8,577.1 L464.5,577.1 L465.2,576.8 L466.0,576.5 L466.8,576.8 L467.5,577.0 L468.2,577.3 L469.0,577.6 L469.8,577.3 L470.5,577.0 L471.2,576.7 L472.0,576.4 L472.8,576.6 L473.5,576.9 L474.2,577.1 L475.0,577.2 L475.8,577.0 L476.5,576.8 L477.2,576.6 L478.0,576.5 L478.8,576.8 L479.5,577.1 L480.2,576.6 L481.0,576.2 L481.8,576.4 L482.5,576.6 L483.2,576.6 L484.0,576.5 L484.8,576.3 L485.5,576.2 L486.2,576.6 L487.0,577.1 L487.8,577.0 L488.5,576.8 L489.2,576.5 L490.0,576.2 L490.8,576.5 L491.5,576.8 L492.2,576.5 L493.0,576.3 L493.8,576.0 L494.5,575.7 L495.2,575.9 L496.0,576.1 L496.8,576.4 L497.5,576.7 L498.2,576.8 L499.0,576.9 L499.8,576.8 L500.5,576.7 L501.2,576.6 L502.0,576.6 L502.8,576.7 L503.5,576.7 L504.2,576.7 L505.0,576.6 L505.8,576.9 L506.5,577.1 L507.2,577.0 L508.0,576.9 L508.8,576.9 L509.5,577.0 L510.2,577.0 L511.0,577.0 L511.8,576.7 L512.5,576.4 L513.2,576.5 L514.0,576.6 L514.8,577.1 L515.5,577.5 L516.2,577.3 L517.0,577.1 L517.8,576.9 L518.5,576.7 L519.2,576.8 L520.0,576.9 L520.8,576.8 L521.5,576.7 L522.2,576.8 L523.0,576.9 L523.8,576.8 L524.5,576.7 L525.2,576.8 L526.0,576.8 L526.8,576.6 L527.5,576.4 L528.2,576.8 L529.0,577.3 L529.8,577.0 L530.5,576.7 L531.2,576.4 L532.0,576.1 L532.8,576.3 L533.5,576.6 L534.2,576.6 L535.0,576.7 L535.8,576.7 L536.5,576.8 L537.2,576.6 L538.0,576.4 L538.8,576.8 L539.5,577.3 L540.2,577.9 L541.0,578.5 L541.8,577.6 L542.5,576.7" fill="none" stroke="#0f5fc8" stroke-width="1.5" stroke-linejoin="round" stroke-linecap="round"/><path d="M86.5,581.0 L87.2,580.2 L88.0,579.4 L88.8,578.7 L89.5,578.5 L90.2,578.1 L91.0,577.6 L91.8,577.5 L92.5,577.4 L93.2,577.4 L94.0,577.4 L94.8,577.6 L95.5,577.8 L96.2,577.8 L97.0,577.7 L97.8,577.7 L98.5,577.8 L99.2,577.4 L100.0,577.0 L100.8,577.6 L101.5,578.2 L102.2,578.0 L103.0,577.9 L103.8,577.9 L104.5,578.0 L105.2,577.8 L106.0,577.7 L106.8,577.6 L107.5,577.5 L108.2,577.7 L109.0,577.9 L109.8,577.9 L110.5,578.0 L111.2,577.8 L112.0,577.6 L112.8,577.6 L113.5,577.6 L114.2,577.8 L115.0,577.9 L115.8,577.6 L116.5,577.3 L117.2,577.1 L118.0,576.9 L118.8,577.2 L119.5,577.5 L120.2,577.3 L121.0,577.0 L121.8,576.7 L122.5,576.3 L123.2,576.5 L124.0,576.8 L124.8,576.9 L125.5,577.0 L126.2,576.8 L127.0,576.7 L127.8,576.7 L128.5,576.7 L129.2,577.1 L130.0,577.5 L130.8,577.8 L131.5,578.1 L132.2,577.9 L133.0,577.7 L133.8,577.6 L134.5,577.5 L135.2,577.7 L136.0,577.9 L136.8,577.9 L137.5,577.9 L138.2,577.7 L139.0,577.4 L139.8,577.5 L140.5,577.6 L141.2,577.7 L142.0,577.8 L142.8,577.5 L143.5,577.2 L144.2,577.1 L145.0,576.9 L145.8,577.1 L146.5,577.4 L147.2,577.5 L148.0,577.6 L148.8,577.6 L149.5,577.7 L150.2,577.3 L151.0,576.8 L151.8,576.8 L152.5,576.9 L153.2,576.8 L154.0,576.8 L154.8,576.6 L155.5,576.5 L156.2,576.9 L157.0,577.3 L157.8,577.5 L158.5,577.6 L159.2,577.4 L160.0,577.3 L160.8,577.7 L161.5,578.1 L162.2,578.1 L163.0,578.1 L163.8,578.0 L164.5,577.9 L165.2,577.9 L166.0,577.8 L166.8,577.8 L167.5,577.8 L168.2,577.4 L169.0,577.0 L169.8,577.3 L170.5,577.6 L171.2,577.6 L172.0,577.6 L172.8,577.1 L173.5,576.6 L174.2,577.0 L175.0,577.3 L175.8,577.3 L176.5,577.3 L177.2,577.4 L178.0,577.6 L178.8,577.4 L179.5,577.2 L180.2,577.3 L181.0,577.4 L181.8,577.4 L182.5,577.5 L183.2,577.4 L184.0,577.2 L184.8,577.5 L185.5,577.8 L186.2,577.8 L187.0,577.8 L187.8,577.9 L188.5,578.0 L189.2,577.8 L190.0,577.7 L190.8,577.9 L191.5,578.2 L192.2,578.1 L193.0,578.0 L193.8,577.8 L194.5,577.6 L195.2,577.7 L196.0,577.8 L196.8,578.0 L197.5,578.1 L198.2,578.0 L199.0,577.9 L199.8,577.2 L200.5,576.5 L201.2,577.0 L202.0,577.4 L202.8,577.4 L203.5,577.5 L204.2,577.3 L205.0,577.2 L205.8,577.1 L206.5,577.0 L207.2,577.4 L208.0,577.7 L208.8,577.3 L209.5,576.9 L210.2,577.2 L211.0,577.6 L211.8,577.7 L212.5,577.8 L213.2,577.2 L214.0,576.7 L214.8,576.8 L215.5,577.0 L216.2,576.9 L217.0,576.8 L217.8,577.2 L218.5,577.6 L219.2,578.0 L220.0,578.4 L220.8,578.4 L221.5,578.3 L222.2,577.5 L223.0,576.7 L223.8,576.9 L224.5,577.0 L225.2,577.4 L226.0,577.9 L226.8,578.1 L227.5,578.4 L228.2,578.1 L229.0,577.9 L229.8,577.7 L230.5,577.4 L231.2,577.6 L232.0,577.7 L232.8,577.7 L233.5,577.6 L234.2,577.5 L235.0,577.4 L235.8,577.3 L236.5,577.2 L237.2,577.4 L238.0,577.7 L238.8,577.7 L239.5,577.7 L240.2,577.6 L241.0,577.5 L241.8,577.4 L242.5,577.3 L243.2,577.1 L244.0,576.8 L244.8,577.0 L245.5,577.2 L246.2,577.6 L247.0,577.9 L247.8,577.6 L248.5,577.3 L249.2,577.1 L250.0,576.9 L250.8,577.4 L251.5,577.9 L252.2,578.0 L253.0,578.0 L253.8,578.2 L254.5,578.4 L255.2,578.0 L256.0,577.6 L256.8,577.3 L257.5,577.1 L258.2,577.0 L259.0,576.9 L259.8,577.5 L260.5,578.2 L261.2,578.5 L262.0,578.7 L262.8,578.0 L263.5,577.3 L264.2,577.3 L265.0,577.3 L265.8,577.5 L266.5,577.7 L267.2,577.5 L268.0,577.2 L268.8,577.3 L269.5,577.3 L270.2,577.3 L271.0,577.4 L271.8,577.5 L272.5,577.7 L273.2,577.8 L274.0,578.0 L274.8,577.8 L275.5,577.7 L276.2,577.7 L277.0,577.8 L277.8,577.6 L278.5,577.3 L279.2,577.3 L280.0,577.4 L280.8,576.9 L281.5,576.4 L282.2,576.6 L283.0,576.8 L283.8,577.3 L284.5,577.8 L285.2,577.7 L286.0,577.5 L286.8,577.7 L287.5,577.8 L288.2,577.9 L289.0,578.0 L289.8,578.1 L290.5,578.3 L291.2,578.2 L292.0,578.1 L292.8,578.1 L293.5,578.0 L294.2,577.8 L295.0,577.5 L295.8,577.3 L296.5,577.1 L297.2,577.1 L298.0,577.0 L298.8,577.0 L299.5,577.0 L300.2,576.9 L301.0,576.8 L301.8,576.9 L302.5,577.0 L303.2,577.2 L304.0,577.3 L304.8,577.4 L305.5,577.5 L306.2,577.3 L307.0,577.1 L307.8,576.8 L308.5,576.5 L309.2,576.9 L310.0,577.3 L310.8,577.5 L311.5,577.7 L312.2,577.9 L313.0,578.0 L313.8,577.9 L314.5,577.8 L315.2,577.4 L316.0,577.1 L316.8,577.1 L317.5,577.1 L318.2,577.6 L319.0,578.2 L319.8,578.0 L320.5,577.9 L321.2,578.2 L322.0,578.4 L322.8,578.5 L323.5,578.5 L324.2,578.0 L325.0,577.5 L325.8,577.7 L326.5,577.9 L327.2,578.0 L328.0,578.0 L328.8,578.1 L329.5,578.1 L330.2,578.0 L331.0,578.0 L331.8,577.9 L332.5,577.8 L333.2,577.7 L334.0,577.6 L334.8,577.3 L335.5,576.9 L336.2,577.1 L337.0,577.3 L337.8,577.3 L338.5,577.2 L339.2,577.4 L340.0,577.6 L340.8,577.5 L341.5,577.5 L342.2,577.8 L343.0,578.0 L343.8,578.1 L344.5,578.2 L345.2,578.1 L346.0,578.0 L346.8,577.9 L347.5,577.9 L348.2,577.8 L349.0,577.7 L349.8,577.6 L350.5,577.5 L351.2,577.5 L352.0,577.5 L352.8,577.5 L353.5,577.5 L354.2,577.6 L355.0,577.8 L355.8,577.8 L356.5,577.8 L357.2,577.7 L358.0,577.7 L358.8,577.3 L359.5,577.0 L360.2,577.3 L361.0,577.5 L361.8,577.2 L362.5,576.9 L363.2,576.9 L364.0,576.9 L364.8,577.0 L365.5,577.2 L366.2,577.2 L367.0,577.3 L367.8,577.5 L368.5,577.6 L369.2,577.6 L370.0,577.6 L370.8,577.3" fill="none" stroke="#0f5fc8" stroke-width="1.9" stroke-linejoin="round" stroke-linecap="round"/><path d="M424.0,574.7 L424.8,574.8 L425.5,574.9 L426.2,574.8 L427.0,574.7 L427.8,574.6 L428.5,574.5 L429.2,574.6 L430.0,574.9 L430.8,575.5 L431.5,576.0 L432.2,576.3 L433.0,576.5 L433.8,576.3 L434.5,576.1 L435.2,576.2 L436.0,576.3 L436.8,576.0 L437.5,575.6 L438.2,575.3 L439.0,575.0 L439.8,575.4 L440.5,575.8 L441.2,576.0 L442.0,576.2 L442.8,576.1 L443.5,576.0 L444.2,576.2 L445.0,576.4 L445.8,576.5 L446.5,576.6 L447.2,576.3 L448.0,575.9 L448.8,575.8 L449.5,575.6 L450.2,575.9 L451.0,576.1 L451.8,576.2 L452.5,576.2 L453.2,576.3 L454.0,576.3 L454.8,576.7 L455.5,577.0 L456.2,577.2 L457.0,577.3 L457.8,576.9 L458.5,576.6 L459.2,576.7 L460.0,576.9 L460.8,577.0 L461.5,577.1 L462.2,577.1 L463.0,577.1 L463.8,577.1 L464.5,577.1 L465.2,576.8 L466.0,576.5 L466.8,576.8 L467.5,577.0 L468.2,577.3 L469.0,577.6 L469.8,577.3 L470.5,577.0 L471.2,576.7 L472.0,576.4 L472.8,576.6 L473.5,576.9 L474.2,577.1 L475.0,577.2 L475.8,577.0 L476.5,576.8 L477.2,576.6 L478.0,576.5 L478.8,576.8 L479.5,577.1 L480.2,576.6 L481.0,576.2 L481.8,576.4 L482.5,576.6 L483.2,576.6 L484.0,576.5 L484.8,576.3 L485.5,576.2 L486.2,576.6 L487.0,577.1 L487.8,577.0 L488.5,576.8 L489.2,576.5 L490.0,576.2 L490.8,576.5 L491.5,576.8 L492.2,576.5 L493.0,576.3 L493.8,576.0 L494.5,575.7 L495.2,575.9 L496.0,576.1 L496.8,576.4 L497.5,576.7 L498.2,576.8 L499.0,576.9 L499.8,576.8 L500.5,576.7 L501.2,576.6 L502.0,576.6 L502.8,576.7 L503.5,576.7 L504.2,576.7 L505.0,576.6 L505.8,576.9 L506.5,577.1 L507.2,577.0 L508.0,576.9 L508.8,576.9 L509.5,577.0 L510.2,577.0 L511.0,577.0 L511.8,576.7 L512.5,576.4 L513.2,576.5 L514.0,576.6 L514.8,577.1 L515.5,577.5 L516.2,577.3 L517.0,577.1 L517.8,576.9 L518.5,576.7 L519.2,576.8 L520.0,576.9 L520.8,576.8 L521.5,576.7 L522.2,576.8 L523.0,576.9 L523.8,576.8 L524.5,576.7 L525.2,576.8 L526.0,576.8 L526.8,576.6 L527.5,576.4 L528.2,576.8 L529.0,577.3 L529.8,577.0 L530.5,576.7 L531.2,576.4 L532.0,576.1 L532.8,576.3 L533.5,576.6 L534.2,576.6 L535.0,576.7 L535.8,576.7 L536.5,576.8 L537.2,576.6 L538.0,576.4 L538.8,576.8 L539.5,577.3 L540.2,577.9 L541.0,578.5 L541.8,577.6 L542.5,576.7" fill="none" stroke="#0f5fc8" stroke-width="1.9" stroke-linejoin="round" stroke-linecap="round"/>
<path d="M86.5,528.2 L87.2,528.1 L88.0,527.9 L88.8,527.6 L89.5,527.6 L90.2,527.7 L91.0,527.9 L91.8,528.1 L92.5,528.3 L93.2,527.1 L94.0,526.0 L94.8,525.8 L95.5,525.7 L96.2,525.5 L97.0,525.3 L97.8,525.8 L98.5,526.3 L99.2,526.8 L100.0,527.3 L100.8,527.1 L101.5,526.8 L102.2,526.8 L103.0,526.7 L103.8,525.9 L104.5,525.2 L105.2,525.7 L106.0,526.2 L106.8,526.2 L107.5,526.1 L108.2,527.1 L109.0,528.0 L109.8,527.8 L110.5,527.7 L111.2,527.5 L112.0,527.3 L112.8,526.9 L113.5,526.5 L114.2,526.6 L115.0,526.8 L115.8,526.8 L116.5,526.7 L117.2,526.2 L118.0,525.7 L118.8,525.5 L119.5,525.3 L120.2,525.3 L121.0,525.3 L121.8,525.1 L122.5,524.8 L123.2,524.9 L124.0,525.0 L124.8,525.2 L125.5,525.3 L126.2,525.4 L127.0,525.5 L127.8,525.9 L128.5,526.4 L129.2,525.7 L130.0,525.0 L130.8,525.6 L131.5,526.2 L132.2,525.8 L133.0,525.3 L133.8,525.1 L134.5,524.8 L135.2,524.6 L136.0,524.3 L136.8,524.7 L137.5,525.1 L138.2,525.2 L139.0,525.3 L139.8,525.4 L140.5,525.5 L141.2,525.4 L142.0,525.3 L142.8,525.8 L143.5,526.3 L144.2,527.1 L145.0,527.9 L145.8,527.5 L146.5,527.1 L147.2,526.6 L148.0,526.2 L148.8,526.7 L149.5,527.1 L150.2,526.8 L151.0,526.6 L151.8,526.8 L152.5,526.9 L153.2,526.9 L154.0,526.9 L154.8,526.3 L155.5,525.8 L156.2,525.1 L157.0,524.5 L157.8,525.2 L158.5,525.8 L159.2,526.2 L160.0,526.6 L160.8,526.4 L161.5,526.1 L162.2,526.4 L163.0,526.7 L163.8,526.9 L164.5,527.0 L165.2,526.6 L166.0,526.1 L166.8,526.8 L167.5,527.5 L168.2,527.8 L169.0,528.1 L169.8,527.9 L170.5,527.7 L171.2,527.7 L172.0,527.7 L172.8,527.8 L173.5,527.9 L174.2,528.2 L175.0,528.6 L175.8,527.8 L176.5,527.0 L177.2,526.8 L178.0,526.6 L178.8,526.7 L179.5,526.8 L180.2,526.1 L181.0,525.4 L181.8,525.1 L182.5,524.7 L183.2,525.1 L184.0,525.4 L184.8,526.0 L185.5,526.7 L186.2,526.6 L187.0,526.6 L187.8,525.7 L188.5,524.8 L189.2,524.7 L190.0,524.5 L190.8,525.2 L191.5,525.9 L192.2,526.2 L193.0,526.4 L193.8,526.6 L194.5,526.8 L195.2,527.0 L196.0,527.3 L196.8,527.4 L197.5,527.5 L198.2,527.0 L199.0,526.6 L199.8,526.4 L200.5,526.2 L201.2,525.6 L202.0,525.0 L202.8,525.1 L203.5,525.2 L204.2,525.9 L205.0,526.7 L205.8,527.2 L206.5,527.6 L207.2,527.6 L208.0,527.6 L208.8,527.5 L209.5,527.5 L210.2,527.5 L211.0,527.5 L211.8,527.2 L212.5,527.0 L213.2,526.0 L214.0,525.1 L214.8,525.4 L215.5,525.8 L216.2,526.5 L217.0,527.2 L217.8,527.2 L218.5,527.3 L219.2,526.6 L220.0,526.0 L220.8,526.8 L221.5,527.7 L222.2,527.2 L223.0,526.8 L223.8,526.8 L224.5,526.8 L225.2,527.1 L226.0,527.3 L226.8,527.2 L227.5,527.2 L228.2,526.5 L229.0,525.7 L229.8,526.4 L230.5,527.1 L231.2,526.9 L232.0,526.7 L232.8,526.4 L233.5,526.1 L234.2,526.1 L235.0,526.1 L235.8,525.5 L236.5,525.0 L237.2,525.5 L238.0,526.1 L238.8,526.5 L239.5,526.9 L240.2,526.7 L241.0,526.4 L241.8,526.5 L242.5,526.6 L243.2,526.7 L244.0,526.8 L244.8,526.9 L245.5,527.0 L246.2,527.3 L247.0,527.6 L247.8,527.2 L248.5,526.7 L249.2,526.6 L250.0,526.5 L250.8,527.0 L251.5,527.4 L252.2,527.9 L253.0,528.4 L253.8,527.6 L254.5,526.7 L255.2,526.7 L256.0,526.6 L256.8,526.0 L257.5,525.5 L258.2,526.4 L259.0,527.4 L259.8,527.4 L260.5,527.4 L261.2,527.4 L262.0,527.3 L262.8,526.5 L263.5,525.7 L264.2,525.2 L265.0,524.7 L265.8,525.3 L266.5,525.8 L267.2,525.8 L268.0,525.8 L268.8,525.0 L269.5,524.2 L270.2,524.0 L271.0,523.8 L271.8,524.5 L272.5,525.2 L273.2,525.3 L274.0,525.5 L274.8,526.3 L275.5,527.1 L276.2,526.0 L277.0,524.8 L277.8,524.6 L278.5,524.3 L279.2,524.3 L280.0,524.3 L280.8,523.7 L281.5,523.1 L282.2,523.5 L283.0,523.9 L283.8,524.9 L284.5,525.9 L285.2,525.2 L286.0,524.6 L286.8,524.1 L287.5,523.6 L288.2,523.4 L289.0,523.2 L289.8,523.9 L290.5,524.6 L291.2,524.8 L292.0,525.0 L292.8,524.8 L293.5,524.6 L294.2,524.4 L295.0,524.2 L295.8,524.4 L296.5,524.7 L297.2,524.8 L298.0,524.8 L298.8,524.6 L299.5,524.3 L300.2,524.6 L301.0,524.9 L301.8,523.9 L302.5,523.0 L303.2,523.2 L304.0,523.4 L304.8,523.9 L305.5,524.4 L306.2,524.4 L307.0,524.5 L307.8,524.2 L308.5,523.9 L309.2,524.4 L310.0,525.0 L310.8,525.3 L311.5,525.7 L312.2,525.4 L313.0,525.1 L313.8,525.0 L314.5,524.8 L315.2,525.0 L316.0,525.2 L316.8,524.9 L317.5,524.6 L318.2,523.9 L319.0,523.3 L319.8,523.6 L320.5,524.0 L321.2,524.6 L322.0,525.1 L322.8,524.3 L323.5,523.5 L324.2,523.8 L325.0,524.1 L325.8,524.1 L326.5,524.0 L327.2,523.7 L328.0,523.5 L328.8,523.6 L329.5,523.6 L330.2,524.2 L331.0,524.7 L331.8,525.0 L332.5,525.2 L333.2,525.1 L334.0,525.0 L334.8,524.4 L335.5,523.8 L336.2,524.2 L337.0,524.6 L337.8,525.1 L338.5,525.6 L339.2,525.9 L340.0,526.3 L340.8,526.3 L341.5,526.3 L342.2,526.4 L343.0,526.5 L343.8,526.6 L344.5,526.8 L345.2,526.6 L346.0,526.3 L346.8,525.7 L347.5,525.1 L348.2,525.3 L349.0,525.5 L349.8,525.1 L350.5,524.7 L351.2,524.0 L352.0,523.3 L352.8,523.8 L353.5,524.3 L354.2,525.7 L355.0,527.2 L355.8,526.0 L356.5,524.9 L357.2,524.1 L358.0,523.4 L358.8,524.0 L359.5,524.7 L360.2,525.5 L361.0,526.3 L361.8,525.8 L362.5,525.2 L363.2,525.3 L364.0,525.4 L364.8,525.3 L365.5,525.2 L366.2,525.5 L367.0,525.8 L367.8,526.4 L368.5,527.1 L369.2,526.9 L370.0,526.5 L370.8,526.0 L371.5,525.8 L372.2,525.7 L373.0,525.3 L373.8,524.1 L374.5,521.9 L375.2,519.2 L376.0,516.0 L376.8,510.7 L377.5,502.9 L378.2,494.5 L379.0,487.5 L379.8,480.9 L380.5,471.1 L381.2,460.5 L382.0,451.8 L382.8,439.5 L383.5,422.0 L384.2,410.2 L385.0,401.6 L385.8,393.3 L386.5,385.1 L387.2,377.4 L388.0,369.9 L388.8,363.3 L389.5,360.3 L390.2,358.6 L391.0,357.3 L391.8,356.4 L392.5,356.5 L393.2,360.1 L394.0,365.0 L394.8,371.0 L395.5,377.0 L396.2,383.2 L397.0,389.7 L397.8,396.3 L398.5,402.5 L399.2,409.0 L400.0,417.3 L400.8,431.8 L401.5,441.6 L402.2,449.6 L403.0,460.6 L403.8,471.5 L404.5,483.3 L405.2,496.1 L406.0,506.0 L406.8,509.6 L407.5,512.0 L408.2,513.8 L409.0,515.5 L409.8,517.3 L410.5,519.0 L411.2,520.0 L412.0,520.6 L412.8,521.4 L413.5,522.2 L414.2,522.6 L415.0,522.9 L415.8,523.3 L416.5,523.6 L417.2,524.1 L418.0,524.6 L418.8,523.9 L419.5,523.2 L420.2,523.0 L421.0,522.9 L421.8,522.5 L422.5,522.2 L423.2,522.3 L424.0,522.5 L424.8,522.6 L425.5,522.6 L426.2,523.4 L427.0,524.1 L427.8,523.5 L428.5,523.0 L429.2,522.7 L430.0,522.4 L430.8,523.1 L431.5,523.8 L432.2,522.1 L433.0,519.8 L433.8,519.8 L434.5,521.4 L435.2,523.2 L436.0,524.5 L436.8,524.6 L437.5,524.7 L438.2,524.6 L439.0,524.4 L439.8,524.6 L440.5,524.7 L441.2,525.0 L442.0,525.3 L442.8,525.7 L443.5,526.0 L444.2,525.1 L445.0,524.2 L445.8,524.8 L446.5,525.5 L447.2,525.8 L448.0,526.2 L448.8,525.7 L449.5,525.3 L450.2,524.8 L451.0,524.3 L451.8,524.8 L452.5,525.2 L453.2,525.3 L454.0,525.3 L454.8,525.9 L455.5,526.5 L456.2,526.8 L457.0,527.0 L457.8,526.3 L458.5,525.5 L459.2,524.7 L460.0,523.8 L460.8,524.3 L461.5,524.9 L462.2,524.9 L463.0,524.9 L463.8,525.6 L464.5,526.3 L465.2,526.7 L466.0,527.2 L466.8,526.8 L467.5,526.4 L468.2,526.9 L469.0,527.4 L469.8,527.3 L470.5,527.1 L471.2,526.6 L472.0,526.0 L472.8,525.4 L473.5,524.8 L474.2,525.0 L475.0,525.2 L475.8,524.9 L476.5,524.6 L477.2,525.5 L478.0,526.4 L478.8,526.3 L479.5,526.3 L480.2,526.7 L481.0,527.1 L481.8,526.5 L482.5,526.0 L483.2,525.2 L484.0,524.4 L484.8,525.3 L485.5,526.3 L486.2,526.7 L487.0,527.1 L487.8,527.2 L488.5,527.3 L489.2,526.3 L490.0,525.2 L490.8,525.1 L491.5,525.0 L492.2,525.3 L493.0,525.7 L493.8,525.2 L494.5,524.8 L495.2,524.6 L496.0,524.4 L496.8,524.8 L497.5,525.2 L498.2,526.5 L499.0,527.8 L499.8,526.7 L500.5,525.6 L501.2,525.0 L502.0,524.5 L502.8,524.6 L503.5,524.8 L504.2,525.0 L505.0,525.3 L505.8,525.7 L506.5,526.2 L507.2,526.1 L508.0,526.1 L508.8,525.9 L509.5,525.8 L510.2,525.5 L511.0,525.1 L511.8,525.0 L512.5,524.9 L513.2,524.4 L514.0,523.9 L514.8,523.7 L515.5,523.5 L516.2,524.6 L517.0,525.7 L517.8,525.0 L518.5,524.3 L519.2,524.4 L520.0,524.6 L520.8,524.0 L521.5,523.4 L522.2,523.2 L523.0,523.1 L523.8,522.8 L524.5,522.5 L525.2,521.9 L526.0,521.3 L526.8,521.7 L527.5,522.0 L528.2,522.2 L529.0,522.4 L529.8,522.4 L530.5,522.5 L531.2,522.4 L532.0,522.3 L532.8,522.4 L533.5,522.4 L534.2,522.1 L535.0,521.8 L535.8,521.4 L536.5,521.1 L537.2,520.3 L538.0,519.6 L538.8,520.3 L539.5,521.0 L540.2,522.0 L541.0,523.1 L541.8,522.9 L542.5,522.7" fill="none" stroke="#58c62c" stroke-width="1.5" stroke-linejoin="round" stroke-linecap="round"/><path d="M86.5,528.2 L87.2,528.1 L88.0,527.9 L88.8,527.6 L89.5,527.6 L90.2,527.7 L91.0,527.9 L91.8,528.1 L92.5,528.3 L93.2,527.1 L94.0,526.0 L94.8,525.8 L95.5,525.7 L96.2,525.5 L97.0,525.3 L97.8,525.8 L98.5,526.3 L99.2,526.8 L100.0,527.3 L100.8,527.1 L101.5,526.8 L102.2,526.8 L103.0,526.7 L103.8,525.9 L104.5,525.2 L105.2,525.7 L106.0,526.2 L106.8,526.2 L107.5,526.1 L108.2,527.1 L109.0,528.0 L109.8,527.8 L110.5,527.7 L111.2,527.5 L112.0,527.3 L112.8,526.9 L113.5,526.5 L114.2,526.6 L115.0,526.8 L115.8,526.8 L116.5,526.7 L117.2,526.2 L118.0,525.7 L118.8,525.5 L119.5,525.3 L120.2,525.3 L121.0,525.3 L121.8,525.1 L122.5,524.8 L123.2,524.9 L124.0,525.0 L124.8,525.2 L125.5,525.3 L126.2,525.4 L127.0,525.5 L127.8,525.9 L128.5,526.4 L129.2,525.7 L130.0,525.0 L130.8,525.6 L131.5,526.2 L132.2,525.8 L133.0,525.3 L133.8,525.1 L134.5,524.8 L135.2,524.6 L136.0,524.3 L136.8,524.7 L137.5,525.1 L138.2,525.2 L139.0,525.3 L139.8,525.4 L140.5,525.5 L141.2,525.4 L142.0,525.3 L142.8,525.8 L143.5,526.3 L144.2,527.1 L145.0,527.9 L145.8,527.5 L146.5,527.1 L147.2,526.6 L148.0,526.2 L148.8,526.7 L149.5,527.1 L150.2,526.8 L151.0,526.6 L151.8,526.8 L152.5,526.9 L153.2,526.9 L154.0,526.9 L154.8,526.3 L155.5,525.8 L156.2,525.1 L157.0,524.5 L157.8,525.2 L158.5,525.8 L159.2,526.2 L160.0,526.6 L160.8,526.4 L161.5,526.1 L162.2,526.4 L163.0,526.7 L163.8,526.9 L164.5,527.0 L165.2,526.6 L166.0,526.1 L166.8,526.8 L167.5,527.5 L168.2,527.8 L169.0,528.1 L169.8,527.9 L170.5,527.7 L171.2,527.7 L172.0,527.7 L172.8,527.8 L173.5,527.9 L174.2,528.2 L175.0,528.6 L175.8,527.8 L176.5,527.0 L177.2,526.8 L178.0,526.6 L178.8,526.7 L179.5,526.8 L180.2,526.1 L181.0,525.4 L181.8,525.1 L182.5,524.7 L183.2,525.1 L184.0,525.4 L184.8,526.0 L185.5,526.7 L186.2,526.6 L187.0,526.6 L187.8,525.7 L188.5,524.8 L189.2,524.7 L190.0,524.5 L190.8,525.2 L191.5,525.9 L192.2,526.2 L193.0,526.4 L193.8,526.6 L194.5,526.8 L195.2,527.0 L196.0,527.3 L196.8,527.4 L197.5,527.5 L198.2,527.0 L199.0,526.6 L199.8,526.4 L200.5,526.2 L201.2,525.6 L202.0,525.0 L202.8,525.1 L203.5,525.2 L204.2,525.9 L205.0,526.7 L205.8,527.2 L206.5,527.6 L207.2,527.6 L208.0,527.6 L208.8,527.5 L209.5,527.5 L210.2,527.5 L211.0,527.5 L211.8,527.2 L212.5,527.0 L213.2,526.0 L214.0,525.1 L214.8,525.4 L215.5,525.8 L216.2,526.5 L217.0,527.2 L217.8,527.2 L218.5,527.3 L219.2,526.6 L220.0,526.0 L220.8,526.8 L221.5,527.7 L222.2,527.2 L223.0,526.8 L223.8,526.8 L224.5,526.8 L225.2,527.1 L226.0,527.3 L226.8,527.2 L227.5,527.2 L228.2,526.5 L229.0,525.7 L229.8,526.4 L230.5,527.1 L231.2,526.9 L232.0,526.7 L232.8,526.4 L233.5,526.1 L234.2,526.1 L235.0,526.1 L235.8,525.5 L236.5,525.0 L237.2,525.5 L238.0,526.1 L238.8,526.5 L239.5,526.9 L240.2,526.7 L241.0,526.4 L241.8,526.5 L242.5,526.6 L243.2,526.7 L244.0,526.8 L244.8,526.9 L245.5,527.0 L246.2,527.3 L247.0,527.6 L247.8,527.2 L248.5,526.7 L249.2,526.6 L250.0,526.5 L250.8,527.0 L251.5,527.4 L252.2,527.9 L253.0,528.4 L253.8,527.6 L254.5,526.7 L255.2,526.7 L256.0,526.6 L256.8,526.0 L257.5,525.5 L258.2,526.4 L259.0,527.4 L259.8,527.4 L260.5,527.4 L261.2,527.4 L262.0,527.3 L262.8,526.5 L263.5,525.7 L264.2,525.2 L265.0,524.7 L265.8,525.3 L266.5,525.8 L267.2,525.8 L268.0,525.8 L268.8,525.0 L269.5,524.2 L270.2,524.0 L271.0,523.8 L271.8,524.5 L272.5,525.2 L273.2,525.3 L274.0,525.5 L274.8,526.3 L275.5,527.1 L276.2,526.0 L277.0,524.8 L277.8,524.6 L278.5,524.3 L279.2,524.3 L280.0,524.3 L280.8,523.7 L281.5,523.1 L282.2,523.5 L283.0,523.9 L283.8,524.9 L284.5,525.9 L285.2,525.2 L286.0,524.6 L286.8,524.1 L287.5,523.6 L288.2,523.4 L289.0,523.2 L289.8,523.9 L290.5,524.6 L291.2,524.8 L292.0,525.0 L292.8,524.8 L293.5,524.6 L294.2,524.4 L295.0,524.2 L295.8,524.4 L296.5,524.7 L297.2,524.8 L298.0,524.8 L298.8,524.6 L299.5,524.3 L300.2,524.6 L301.0,524.9 L301.8,523.9 L302.5,523.0 L303.2,523.2 L304.0,523.4 L304.8,523.9 L305.5,524.4 L306.2,524.4 L307.0,524.5 L307.8,524.2 L308.5,523.9 L309.2,524.4 L310.0,525.0 L310.8,525.3 L311.5,525.7 L312.2,525.4 L313.0,525.1 L313.8,525.0 L314.5,524.8 L315.2,525.0 L316.0,525.2 L316.8,524.9 L317.5,524.6 L318.2,523.9 L319.0,523.3 L319.8,523.6 L320.5,524.0 L321.2,524.6 L322.0,525.1 L322.8,524.3 L323.5,523.5 L324.2,523.8 L325.0,524.1 L325.8,524.1 L326.5,524.0 L327.2,523.7 L328.0,523.5 L328.8,523.6 L329.5,523.6 L330.2,524.2 L331.0,524.7 L331.8,525.0 L332.5,525.2 L333.2,525.1 L334.0,525.0 L334.8,524.4 L335.5,523.8 L336.2,524.2 L337.0,524.6 L337.8,525.1 L338.5,525.6 L339.2,525.9 L340.0,526.3 L340.8,526.3 L341.5,526.3 L342.2,526.4 L343.0,526.5 L343.8,526.6 L344.5,526.8 L345.2,526.6 L346.0,526.3 L346.8,525.7 L347.5,525.1 L348.2,525.3 L349.0,525.5 L349.8,525.1 L350.5,524.7 L351.2,524.0 L352.0,523.3 L352.8,523.8 L353.5,524.3 L354.2,525.7 L355.0,527.2 L355.8,526.0 L356.5,524.9 L357.2,524.1 L358.0,523.4 L358.8,524.0 L359.5,524.7 L360.2,525.5 L361.0,526.3 L361.8,525.8 L362.5,525.2 L363.2,525.3 L364.0,525.4 L364.8,525.3 L365.5,525.2 L366.2,525.5 L367.0,525.8 L367.8,526.4 L368.5,527.1 L369.2,526.9 L370.0,526.5 L370.8,526.0 L371.5,525.8 L372.2,525.7 L373.0,525.3 L373.8,524.1" fill="none" stroke="#58c62c" stroke-width="1.9" stroke-linejoin="round" stroke-linecap="round"/><path d="M409.0,515.5 L409.8,517.3 L410.5,519.0 L411.2,520.0 L412.0,520.6 L412.8,521.4 L413.5,522.2 L414.2,522.6 L415.0,522.9 L415.8,523.3 L416.5,523.6 L417.2,524.1 L418.0,524.6 L418.8,523.9 L419.5,523.2 L420.2,523.0 L421.0,522.9 L421.8,522.5 L422.5,522.2 L423.2,522.3 L424.0,522.5 L424.8,522.6 L425.5,522.6 L426.2,523.4 L427.0,524.1 L427.8,523.5 L428.5,523.0 L429.2,522.7 L430.0,522.4 L430.8,523.1 L431.5,523.8 L432.2,522.1 L433.0,519.8 L433.8,519.8 L434.5,521.4 L435.2,523.2 L436.0,524.5 L436.8,524.6 L437.5,524.7 L438.2,524.6 L439.0,524.4 L439.8,524.6 L440.5,524.7 L441.2,525.0 L442.0,525.3 L442.8,525.7 L443.5,526.0 L444.2,525.1 L445.0,524.2 L445.8,524.8 L446.5,525.5 L447.2,525.8 L448.0,526.2 L448.8,525.7 L449.5,525.3 L450.2,524.8 L451.0,524.3 L451.8,524.8 L452.5,525.2 L453.2,525.3 L454.0,525.3 L454.8,525.9 L455.5,526.5 L456.2,526.8 L457.0,527.0 L457.8,526.3 L458.5,525.5 L459.2,524.7 L460.0,523.8 L460.8,524.3 L461.5,524.9 L462.2,524.9 L463.0,524.9 L463.8,525.6 L464.5,526.3 L465.2,526.7 L466.0,527.2 L466.8,526.8 L467.5,526.4 L468.2,526.9 L469.0,527.4 L469.8,527.3 L470.5,527.1 L471.2,526.6 L472.0,526.0 L472.8,525.4 L473.5,524.8 L474.2,525.0 L475.0,525.2 L475.8,524.9 L476.5,524.6 L477.2,525.5 L478.0,526.4 L478.8,526.3 L479.5,526.3 L480.2,526.7 L481.0,527.1 L481.8,526.5 L482.5,526.0 L483.2,525.2 L484.0,524.4 L484.8,525.3 L485.5,526.3 L486.2,526.7 L487.0,527.1 L487.8,527.2 L488.5,527.3 L489.2,526.3 L490.0,525.2 L490.8,525.1 L491.5,525.0 L492.2,525.3 L493.0,525.7 L493.8,525.2 L494.5,524.8 L495.2,524.6 L496.0,524.4 L496.8,524.8 L497.5,525.2 L498.2,526.5 L499.0,527.8 L499.8,526.7 L500.5,525.6 L501.2,525.0 L502.0,524.5 L502.8,524.6 L503.5,524.8 L504.2,525.0 L505.0,525.3 L505.8,525.7 L506.5,526.2 L507.2,526.1 L508.0,526.1 L508.8,525.9 L509.5,525.8 L510.2,525.5 L511.0,525.1 L511.8,525.0 L512.5,524.9 L513.2,524.4 L514.0,523.9 L514.8,523.7 L515.5,523.5 L516.2,524.6 L517.0,525.7 L517.8,525.0 L518.5,524.3 L519.2,524.4 L520.0,524.6 L520.8,524.0 L521.5,523.4 L522.2,523.2 L523.0,523.1 L523.8,522.8 L524.5,522.5 L525.2,521.9 L526.0,521.3 L526.8,521.7 L527.5,522.0 L528.2,522.2 L529.0,522.4 L529.8,522.4 L530.5,522.5 L531.2,522.4 L532.0,522.3 L532.8,522.4 L533.5,522.4 L534.2,522.1 L535.0,521.8 L535.8,521.4 L536.5,521.1 L537.2,520.3 L538.0,519.6 L538.8,520.3 L539.5,521.0 L540.2,522.0 L541.0,523.1 L541.8,522.9 L542.5,522.7" fill="none" stroke="#58c62c" stroke-width="1.9" stroke-linejoin="round" stroke-linecap="round"/>
<path d="M389.0,362.5 L390.4,358.3 L392.3,356 L393.6,362 L391,363.5 Z" fill="#58c62c"/>
<path d="M86.5,552.9 L87.2,551.0 L88.0,549.1 L88.8,550.0 L89.5,551.1 L90.2,551.2 L91.0,551.4 L91.8,551.8 L92.5,552.1 L93.2,552.0 L94.0,551.9 L94.8,552.2 L95.5,552.6 L96.2,551.9 L97.0,551.3 L97.8,551.0 L98.5,550.8 L99.2,551.1 L100.0,551.4 L100.8,551.3 L101.5,551.2 L102.2,550.9 L103.0,550.5 L103.8,550.5 L104.5,550.5 L105.2,551.0 L106.0,551.4 L106.8,551.5 L107.5,551.5 L108.2,551.1 L109.0,550.7 L109.8,550.6 L110.5,550.4 L111.2,550.2 L112.0,549.9 L112.8,551.1 L113.5,552.2 L114.2,551.9 L115.0,551.6 L115.8,552.0 L116.5,552.4 L117.2,552.3 L118.0,552.1 L118.8,552.5 L119.5,553.0 L120.2,552.8 L121.0,552.6 L121.8,552.1 L122.5,551.6 L123.2,551.8 L124.0,552.0 L124.8,551.3 L125.5,550.7 L126.2,551.2 L127.0,551.6 L127.8,550.9 L128.5,550.2 L129.2,550.7 L130.0,551.2 L130.8,551.5 L131.5,551.8 L132.2,551.3 L133.0,550.9 L133.8,550.5 L134.5,550.1 L135.2,549.9 L136.0,549.7 L136.8,550.1 L137.5,550.4 L138.2,551.0 L139.0,551.6 L139.8,551.6 L140.5,551.6 L141.2,551.1 L142.0,550.6 L142.8,550.3 L143.5,550.0 L144.2,550.6 L145.0,551.2 L145.8,550.6 L146.5,550.0 L147.2,550.1 L148.0,550.2 L148.8,550.2 L149.5,550.2 L150.2,550.7 L151.0,551.1 L151.8,550.9 L152.5,550.8 L153.2,550.9 L154.0,550.9 L154.8,550.8 L155.5,550.8 L156.2,550.5 L157.0,550.3 L157.8,550.8 L158.5,551.3 L159.2,551.7 L160.0,552.0 L160.8,551.5 L161.5,551.1 L162.2,551.2 L163.0,551.2 L163.8,551.1 L164.5,550.9 L165.2,551.4 L166.0,551.8 L166.8,551.9 L167.5,552.0 L168.2,552.1 L169.0,552.2 L169.8,552.2 L170.5,552.2 L171.2,552.5 L172.0,552.8 L172.8,552.1 L173.5,551.4 L174.2,551.3 L175.0,551.1 L175.8,551.1 L176.5,551.1 L177.2,551.4 L178.0,551.7 L178.8,551.3 L179.5,550.8 L180.2,550.8 L181.0,550.7 L181.8,551.3 L182.5,551.8 L183.2,552.1 L184.0,552.4 L184.8,552.0 L185.5,551.5 L186.2,550.3 L187.0,549.2 L187.8,549.6 L188.5,550.1 L189.2,550.1 L190.0,550.1 L190.8,550.0 L191.5,549.9 L192.2,550.3 L193.0,550.7 L193.8,551.4 L194.5,552.1 L195.2,551.6 L196.0,551.0 L196.8,550.9 L197.5,550.8 L198.2,551.5 L199.0,552.1 L199.8,552.1 L200.5,552.1 L201.2,552.0 L202.0,551.9 L202.8,551.6 L203.5,551.4 L204.2,551.6 L205.0,551.8 L205.8,551.9 L206.5,551.9 L207.2,551.0 L208.0,550.2 L208.8,550.4 L209.5,550.6 L210.2,551.7 L211.0,552.9 L211.8,552.9 L212.5,553.0 L213.2,552.3 L214.0,551.5 L214.8,551.1 L215.5,550.7 L216.2,550.8 L217.0,550.9 L217.8,550.5 L218.5,550.1 L219.2,550.6 L220.0,551.2 L220.8,552.0 L221.5,552.9 L222.2,552.7 L223.0,552.4 L223.8,552.7 L224.5,553.0 L225.2,552.5 L226.0,552.1 L226.8,552.3 L227.5,552.5 L228.2,552.7 L229.0,552.9 L229.8,551.9 L230.5,551.0 L231.2,551.1 L232.0,551.2 L232.8,551.3 L233.5,551.4 L234.2,551.6 L235.0,551.8 L235.8,552.2 L236.5,552.6 L237.2,552.3 L238.0,551.9 L238.8,551.1 L239.5,550.4 L240.2,550.7 L241.0,551.0 L241.8,550.9 L242.5,550.8 L243.2,551.0 L244.0,551.2 L244.8,552.2 L245.5,553.1 L246.2,552.2 L247.0,551.3 L247.8,551.5 L248.5,551.7 L249.2,551.6 L250.0,551.4 L250.8,551.9 L251.5,552.5 L252.2,552.4 L253.0,552.3 L253.8,552.1 L254.5,552.0 L255.2,551.9 L256.0,551.8 L256.8,552.1 L257.5,552.3 L258.2,551.5 L259.0,550.7 L259.8,550.5 L260.5,550.3 L261.2,550.3 L262.0,550.3 L262.8,551.0 L263.5,551.8 L264.2,551.2 L265.0,550.6 L265.8,550.1 L266.5,549.6 L267.2,550.0 L268.0,550.5 L268.8,551.5 L269.5,552.4 L270.2,551.7 L271.0,551.0 L271.8,551.1 L272.5,551.2 L273.2,551.0 L274.0,550.8 L274.8,550.4 L275.5,550.0 L276.2,549.7 L277.0,549.3 L277.8,549.3 L278.5,549.3 L279.2,549.1 L280.0,548.9 L280.8,548.5 L281.5,548.1 L282.2,549.6 L283.0,551.2 L283.8,550.8 L284.5,550.4 L285.2,549.8 L286.0,549.3 L286.8,549.0 L287.5,548.6 L288.2,548.5 L289.0,548.3 L289.8,548.8 L290.5,549.3 L291.2,549.1 L292.0,548.8 L292.8,548.8 L293.5,548.8 L294.2,548.3 L295.0,547.8 L295.8,548.5 L296.5,549.2 L297.2,549.8 L298.0,550.4 L298.8,549.7 L299.5,549.0 L300.2,549.1 L301.0,549.3 L301.8,549.1 L302.5,549.0 L303.2,549.4 L304.0,549.9 L304.8,549.9 L305.5,550.0 L306.2,549.6 L307.0,549.2 L307.8,549.0 L308.5,548.8 L309.2,549.0 L310.0,549.2 L310.8,549.0 L311.5,548.9 L312.2,548.6 L313.0,548.4 L313.8,548.7 L314.5,549.0 L315.2,549.1 L316.0,549.2 L316.8,548.8 L317.5,548.4 L318.2,549.0 L319.0,549.6 L319.8,550.8 L320.5,552.0 L321.2,551.4 L322.0,550.7 L322.8,550.4 L323.5,550.2 L324.2,550.8 L325.0,551.5 L325.8,550.3 L326.5,549.1 L327.2,548.1 L328.0,547.2 L328.8,547.3 L329.5,547.5 L330.2,547.9 L331.0,548.3 L331.8,549.2 L332.5,550.1 L333.2,550.2 L334.0,550.3 L334.8,549.3 L335.5,548.4 L336.2,549.2 L337.0,549.9 L337.8,549.3 L338.5,548.7 L339.2,549.2 L340.0,549.6 L340.8,549.8 L341.5,550.0 L342.2,550.0 L343.0,550.0 L343.8,549.8 L344.5,549.7 L345.2,549.6 L346.0,549.6 L346.8,549.2 L347.5,548.8 L348.2,549.4 L349.0,549.9 L349.8,550.4 L350.5,550.8 L351.2,551.0 L352.0,551.3 L352.8,551.9 L353.5,552.5 L354.2,552.0 L355.0,551.6 L355.8,551.4 L356.5,551.3 L357.2,551.5 L358.0,551.7 L358.8,551.0 L359.5,550.4 L360.2,549.5 L361.0,548.7 L361.8,548.4 L362.5,548.2 L363.2,549.5 L364.0,550.8 L364.8,550.9 L365.5,551.0 L366.2,550.9 L367.0,550.9 L367.8,550.5 L368.5,550.2 L369.2,550.4 L370.0,550.6 L370.8,550.7 L371.5,550.7 L372.2,550.2 L373.0,549.7 L373.8,548.2 L374.5,545.8 L375.2,542.8 L376.0,537.2 L376.8,530.2 L377.5,523.8 L378.2,517.4 L379.0,510.0 L379.8,500.1 L380.5,490.4 L381.2,482.2 L382.0,473.1 L382.8,462.9 L383.5,451.8 L384.2,442.6 L385.0,432.7 L385.8,417.7 L386.5,407.9 L387.2,399.8 L388.0,391.7 L388.8,383.7 L389.5,377.5 L390.2,372.8 L391.0,373.6 L391.8,377.7 L392.5,381.8 L393.2,386.5 L394.0,391.5 L394.8,396.7 L395.5,401.8 L396.2,407.1 L397.0,413.2 L397.8,420.6 L398.5,431.5 L399.2,442.6 L400.0,452.8 L400.8,461.8 L401.5,471.0 L402.2,479.8 L403.0,486.9 L403.8,497.2 L404.5,511.2 L405.2,518.7 L406.0,524.5 L406.8,528.8 L407.5,532.1 L408.2,534.8 L409.0,537.0 L409.8,538.6 L410.5,539.7 L411.2,540.8 L412.0,541.7 L412.8,542.6 L413.5,543.1 L414.2,544.0 L415.0,544.9 L415.8,545.2 L416.5,545.2 L417.2,545.6 L418.0,546.1 L418.8,546.7 L419.5,547.3 L420.2,547.5 L421.0,547.6 L421.8,547.6 L422.5,547.7 L423.2,546.2 L424.0,544.7 L424.8,545.1 L425.5,545.6 L426.2,546.4 L427.0,547.2 L427.8,546.7 L428.5,546.3 L429.2,546.9 L430.0,547.5 L430.8,548.5 L431.5,549.5 L432.2,549.4 L433.0,549.3 L433.8,548.8 L434.5,548.4 L435.2,549.0 L436.0,549.6 L436.8,549.9 L437.5,550.2 L438.2,550.2 L439.0,550.2 L439.8,550.3 L440.5,550.4 L441.2,550.5 L442.0,550.7 L442.8,550.4 L443.5,550.0 L444.2,550.5 L445.0,551.0 L445.8,550.9 L446.5,550.7 L447.2,551.1 L448.0,551.4 L448.8,551.3 L449.5,551.1 L450.2,550.6 L451.0,550.0 L451.8,550.3 L452.5,550.6 L453.2,550.4 L454.0,550.3 L454.8,550.1 L455.5,549.8 L456.2,549.9 L457.0,550.0 L457.8,549.5 L458.5,549.1 L459.2,549.0 L460.0,549.0 L460.8,549.2 L461.5,549.4 L462.2,549.6 L463.0,549.8 L463.8,550.0 L464.5,550.3 L465.2,549.3 L466.0,548.2 L466.8,548.7 L467.5,549.2 L468.2,548.9 L469.0,548.6 L469.8,549.2 L470.5,549.8 L471.2,550.3 L472.0,550.8 L472.8,551.0 L473.5,551.1 L474.2,551.4 L475.0,551.8 L475.8,551.4 L476.5,551.0 L477.2,549.7 L478.0,548.4 L478.8,548.9 L479.5,549.4 L480.2,550.4 L481.0,551.5 L481.8,551.5 L482.5,551.5 L483.2,550.8 L484.0,550.1 L484.8,549.7 L485.5,549.2 L486.2,550.3 L487.0,551.3 L487.8,550.2 L488.5,549.0 L489.2,549.5 L490.0,550.0 L490.8,550.1 L491.5,550.1 L492.2,550.1 L493.0,550.0 L493.8,549.6 L494.5,549.2 L495.2,549.6 L496.0,550.1 L496.8,550.8 L497.5,551.5 L498.2,551.1 L499.0,550.7 L499.8,550.5 L500.5,550.2 L501.2,550.8 L502.0,551.4 L502.8,551.6 L503.5,551.8 L504.2,551.7 L505.0,551.6 L505.8,551.4 L506.5,551.3 L507.2,551.8 L508.0,552.3 L508.8,552.1 L509.5,551.9 L510.2,551.5 L511.0,551.2 L511.8,551.7 L512.5,552.2 L513.2,552.2 L514.0,552.2 L514.8,552.0 L515.5,551.9 L516.2,551.2 L517.0,550.5 L517.8,550.7 L518.5,551.0 L519.2,551.6 L520.0,552.0 L520.8,551.9 L521.5,551.6 L522.2,550.8 L523.0,549.9 L523.8,549.3 L524.5,548.6 L525.2,548.2 L526.0,547.8 L526.8,547.4 L527.5,547.1 L528.2,547.0 L529.0,547.2 L529.8,546.9 L530.5,546.9 L531.2,547.1 L532.0,547.3 L532.8,547.9 L533.5,548.5 L534.2,547.9 L535.0,547.2 L535.8,547.9 L536.5,548.5 L537.2,548.6 L538.0,548.6 L538.8,548.9 L539.5,549.1 L540.2,549.4 L541.0,549.6 L541.8,549.4 L542.5,549.2" fill="none" stroke="#ff0000" stroke-width="1.5" stroke-linejoin="round" stroke-linecap="round"/><path d="M86.5,552.9 L87.2,551.0 L88.0,549.1 L88.8,550.0 L89.5,551.1 L90.2,551.2 L91.0,551.4 L91.8,551.8 L92.5,552.1 L93.2,552.0 L94.0,551.9 L94.8,552.2 L95.5,552.6 L96.2,551.9 L97.0,551.3 L97.8,551.0 L98.5,550.8 L99.2,551.1 L100.0,551.4 L100.8,551.3 L101.5,551.2 L102.2,550.9 L103.0,550.5 L103.8,550.5 L104.5,550.5 L105.2,551.0 L106.0,551.4 L106.8,551.5 L107.5,551.5 L108.2,551.1 L109.0,550.7 L109.8,550.6 L110.5,550.4 L111.2,550.2 L112.0,549.9 L112.8,551.1 L113.5,552.2 L114.2,551.9 L115.0,551.6 L115.8,552.0 L116.5,552.4 L117.2,552.3 L118.0,552.1 L118.8,552.5 L119.5,553.0 L120.2,552.8 L121.0,552.6 L121.8,552.1 L122.5,551.6 L123.2,551.8 L124.0,552.0 L124.8,551.3 L125.5,550.7 L126.2,551.2 L127.0,551.6 L127.8,550.9 L128.5,550.2 L129.2,550.7 L130.0,551.2 L130.8,551.5 L131.5,551.8 L132.2,551.3 L133.0,550.9 L133.8,550.5 L134.5,550.1 L135.2,549.9 L136.0,549.7 L136.8,550.1 L137.5,550.4 L138.2,551.0 L139.0,551.6 L139.8,551.6 L140.5,551.6 L141.2,551.1 L142.0,550.6 L142.8,550.3 L143.5,550.0 L144.2,550.6 L145.0,551.2 L145.8,550.6 L146.5,550.0 L147.2,550.1 L148.0,550.2 L148.8,550.2 L149.5,550.2 L150.2,550.7 L151.0,551.1 L151.8,550.9 L152.5,550.8 L153.2,550.9 L154.0,550.9 L154.8,550.8 L155.5,550.8 L156.2,550.5 L157.0,550.3 L157.8,550.8 L158.5,551.3 L159.2,551.7 L160.0,552.0 L160.8,551.5 L161.5,551.1 L162.2,551.2 L163.0,551.2 L163.8,551.1 L164.5,550.9 L165.2,551.4 L166.0,551.8 L166.8,551.9 L167.5,552.0 L168.2,552.1 L169.0,552.2 L169.8,552.2 L170.5,552.2 L171.2,552.5 L172.0,552.8 L172.8,552.1 L173.5,551.4 L174.2,551.3 L175.0,551.1 L175.8,551.1 L176.5,551.1 L177.2,551.4 L178.0,551.7 L178.8,551.3 L179.5,550.8 L180.2,550.8 L181.0,550.7 L181.8,551.3 L182.5,551.8 L183.2,552.1 L184.0,552.4 L184.8,552.0 L185.5,551.5 L186.2,550.3 L187.0,549.2 L187.8,549.6 L188.5,550.1 L189.2,550.1 L190.0,550.1 L190.8,550.0 L191.5,549.9 L192.2,550.3 L193.0,550.7 L193.8,551.4 L194.5,552.1 L195.2,551.6 L196.0,551.0 L196.8,550.9 L197.5,550.8 L198.2,551.5 L199.0,552.1 L199.8,552.1 L200.5,552.1 L201.2,552.0 L202.0,551.9 L202.8,551.6 L203.5,551.4 L204.2,551.6 L205.0,551.8 L205.8,551.9 L206.5,551.9 L207.2,551.0 L208.0,550.2 L208.8,550.4 L209.5,550.6 L210.2,551.7 L211.0,552.9 L211.8,552.9 L212.5,553.0 L213.2,552.3 L214.0,551.5 L214.8,551.1 L215.5,550.7 L216.2,550.8 L217.0,550.9 L217.8,550.5 L218.5,550.1 L219.2,550.6 L220.0,551.2 L220.8,552.0 L221.5,552.9 L222.2,552.7 L223.0,552.4 L223.8,552.7 L224.5,553.0 L225.2,552.5 L226.0,552.1 L226.8,552.3 L227.5,552.5 L228.2,552.7 L229.0,552.9 L229.8,551.9 L230.5,551.0 L231.2,551.1 L232.0,551.2 L232.8,551.3 L233.5,551.4 L234.2,551.6 L235.0,551.8 L235.8,552.2 L236.5,552.6 L237.2,552.3 L238.0,551.9 L238.8,551.1 L239.5,550.4 L240.2,550.7 L241.0,551.0 L241.8,550.9 L242.5,550.8 L243.2,551.0 L244.0,551.2 L244.8,552.2 L245.5,553.1 L246.2,552.2 L247.0,551.3 L247.8,551.5 L248.5,551.7 L249.2,551.6 L250.0,551.4 L250.8,551.9 L251.5,552.5 L252.2,552.4 L253.0,552.3 L253.8,552.1 L254.5,552.0 L255.2,551.9 L256.0,551.8 L256.8,552.1 L257.5,552.3 L258.2,551.5 L259.0,550.7 L259.8,550.5 L260.5,550.3 L261.2,550.3 L262.0,550.3 L262.8,551.0 L263.5,551.8 L264.2,551.2 L265.0,550.6 L265.8,550.1 L266.5,549.6 L267.2,550.0 L268.0,550.5 L268.8,551.5 L269.5,552.4 L270.2,551.7 L271.0,551.0 L271.8,551.1 L272.5,551.2 L273.2,551.0 L274.0,550.8 L274.8,550.4 L275.5,550.0 L276.2,549.7 L277.0,549.3 L277.8,549.3 L278.5,549.3 L279.2,549.1 L280.0,548.9 L280.8,548.5 L281.5,548.1 L282.2,549.6 L283.0,551.2 L283.8,550.8 L284.5,550.4 L285.2,549.8 L286.0,549.3 L286.8,549.0 L287.5,548.6 L288.2,548.5 L289.0,548.3 L289.8,548.8 L290.5,549.3 L291.2,549.1 L292.0,548.8 L292.8,548.8 L293.5,548.8 L294.2,548.3 L295.0,547.8 L295.8,548.5 L296.5,549.2 L297.2,549.8 L298.0,550.4 L298.8,549.7 L299.5,549.0 L300.2,549.1 L301.0,549.3 L301.8,549.1 L302.5,549.0 L303.2,549.4 L304.0,549.9 L304.8,549.9 L305.5,550.0 L306.2,549.6 L307.0,549.2 L307.8,549.0 L308.5,548.8 L309.2,549.0 L310.0,549.2 L310.8,549.0 L311.5,548.9 L312.2,548.6 L313.0,548.4 L313.8,548.7 L314.5,549.0 L315.2,549.1 L316.0,549.2 L316.8,548.8 L317.5,548.4 L318.2,549.0 L319.0,549.6 L319.8,550.8 L320.5,552.0 L321.2,551.4 L322.0,550.7 L322.8,550.4 L323.5,550.2 L324.2,550.8 L325.0,551.5 L325.8,550.3 L326.5,549.1 L327.2,548.1 L328.0,547.2 L328.8,547.3 L329.5,547.5 L330.2,547.9 L331.0,548.3 L331.8,549.2 L332.5,550.1 L333.2,550.2 L334.0,550.3 L334.8,549.3 L335.5,548.4 L336.2,549.2 L337.0,549.9 L337.8,549.3 L338.5,548.7 L339.2,549.2 L340.0,549.6 L340.8,549.8 L341.5,550.0 L342.2,550.0 L343.0,550.0 L343.8,549.8 L344.5,549.7 L345.2,549.6 L346.0,549.6 L346.8,549.2 L347.5,548.8 L348.2,549.4 L349.0,549.9 L349.8,550.4 L350.5,550.8 L351.2,551.0 L352.0,551.3 L352.8,551.9 L353.5,552.5 L354.2,552.0 L355.0,551.6 L355.8,551.4 L356.5,551.3 L357.2,551.5 L358.0,551.7 L358.8,551.0 L359.5,550.4 L360.2,549.5 L361.0,548.7 L361.8,548.4 L362.5,548.2 L363.2,549.5 L364.0,550.8 L364.8,550.9 L365.5,551.0 L366.2,550.9 L367.0,550.9 L367.8,550.5 L368.5,550.2 L369.2,550.4 L370.0,550.6 L370.8,550.7 L371.5,550.7 L372.2,550.2 L373.0,549.7 L373.8,548.2" fill="none" stroke="#ff0000" stroke-width="1.9" stroke-linejoin="round" stroke-linecap="round"/><path d="M411.2,540.8 L412.0,541.7 L412.8,542.6 L413.5,543.1 L414.2,544.0 L415.0,544.9 L415.8,545.2 L416.5,545.2 L417.2,545.6 L418.0,546.1 L418.8,546.7 L419.5,547.3 L420.2,547.5 L421.0,547.6 L421.8,547.6 L422.5,547.7 L423.2,546.2 L424.0,544.7 L424.8,545.1 L425.5,545.6 L426.2,546.4 L427.0,547.2 L427.8,546.7 L428.5,546.3 L429.2,546.9 L430.0,547.5 L430.8,548.5 L431.5,549.5 L432.2,549.4 L433.0,549.3 L433.8,548.8 L434.5,548.4 L435.2,549.0 L436.0,549.6 L436.8,549.9 L437.5,550.2 L438.2,550.2 L439.0,550.2 L439.8,550.3 L440.5,550.4 L441.2,550.5 L442.0,550.7 L442.8,550.4 L443.5,550.0 L444.2,550.5 L445.0,551.0 L445.8,550.9 L446.5,550.7 L447.2,551.1 L448.0,551.4 L448.8,551.3 L449.5,551.1 L450.2,550.6 L451.0,550.0 L451.8,550.3 L452.5,550.6 L453.2,550.4 L454.0,550.3 L454.8,550.1 L455.5,549.8 L456.2,549.9 L457.0,550.0 L457.8,549.5 L458.5,549.1 L459.2,549.0 L460.0,549.0 L460.8,549.2 L461.5,549.4 L462.2,549.6 L463.0,549.8 L463.8,550.0 L464.5,550.3 L465.2,549.3 L466.0,548.2 L466.8,548.7 L467.5,549.2 L468.2,548.9 L469.0,548.6 L469.8,549.2 L470.5,549.8 L471.2,550.3 L472.0,550.8 L472.8,551.0 L473.5,551.1 L474.2,551.4 L475.0,551.8 L475.8,551.4 L476.5,551.0 L477.2,549.7 L478.0,548.4 L478.8,548.9 L479.5,549.4 L480.2,550.4 L481.0,551.5 L481.8,551.5 L482.5,551.5 L483.2,550.8 L484.0,550.1 L484.8,549.7 L485.5,549.2 L486.2,550.3 L487.0,551.3 L487.8,550.2 L488.5,549.0 L489.2,549.5 L490.0,550.0 L490.8,550.1 L491.5,550.1 L492.2,550.1 L493.0,550.0 L493.8,549.6 L494.5,549.2 L495.2,549.6 L496.0,550.1 L496.8,550.8 L497.5,551.5 L498.2,551.1 L499.0,550.7 L499.8,550.5 L500.5,550.2 L501.2,550.8 L502.0,551.4 L502.8,551.6 L503.5,551.8 L504.2,551.7 L505.0,551.6 L505.8,551.4 L506.5,551.3 L507.2,551.8 L508.0,552.3 L508.8,552.1 L509.5,551.9 L510.2,551.5 L511.0,551.2 L511.8,551.7 L512.5,552.2 L513.2,552.2 L514.0,552.2 L514.8,552.0 L515.5,551.9 L516.2,551.2 L517.0,550.5 L517.8,550.7 L518.5,551.0 L519.2,551.6 L520.0,552.0 L520.8,551.9 L521.5,551.6 L522.2,550.8 L523.0,549.9 L523.8,549.3 L524.5,548.6 L525.2,548.2 L526.0,547.8 L526.8,547.4 L527.5,547.1 L528.2,547.0 L529.0,547.2 L529.8,546.9 L530.5,546.9 L531.2,547.1 L532.0,547.3 L532.8,547.9 L533.5,548.5 L534.2,547.9 L535.0,547.2 L535.8,547.9 L536.5,548.5 L537.2,548.6 L538.0,548.6 L538.8,548.9 L539.5,549.1 L540.2,549.4 L541.0,549.6 L541.8,549.4 L542.5,549.2" fill="none" stroke="#ff0000" stroke-width="1.9" stroke-linejoin="round" stroke-linecap="round"/>
<path d="M86.5,507.4 L87.2,503.0 L88.0,500.1 L88.8,498.7 L89.5,497.6 L90.2,497.1 L91.0,496.7 L91.8,498.5 L92.5,500.4 L93.2,501.4 L94.0,502.5 L94.8,501.8 L95.5,501.1 L96.2,501.1 L97.0,501.1 L97.8,501.1 L98.5,501.0 L99.2,500.3 L100.0,499.7 L100.8,501.2 L101.5,502.8 L102.2,501.2 L103.0,499.5 L103.8,500.2 L104.5,500.9 L105.2,502.1 L106.0,503.4 L106.8,501.8 L107.5,500.2 L108.2,499.8 L109.0,499.4 L109.8,499.1 L110.5,498.7 L111.2,498.9 L112.0,499.2 L112.8,498.0 L113.5,496.8 L114.2,497.8 L115.0,498.9 L115.8,500.5 L116.5,502.1 L117.2,501.4 L118.0,500.7 L118.8,500.4 L119.5,500.0 L120.2,500.3 L121.0,500.7 L121.8,500.8 L122.5,500.9 L123.2,500.8 L124.0,500.7 L124.8,500.6 L125.5,500.5 L126.2,499.4 L127.0,498.3 L127.8,499.3 L128.5,500.3 L129.2,499.9 L130.0,499.6 L130.8,500.2 L131.5,500.8 L132.2,500.3 L133.0,499.9 L133.8,499.2 L134.5,498.5 L135.2,499.0 L136.0,499.4 L136.8,499.3 L137.5,499.1 L138.2,500.3 L139.0,501.4 L139.8,501.2 L140.5,501.0 L141.2,501.1 L142.0,501.2 L142.8,500.4 L143.5,499.6 L144.2,500.8 L145.0,502.0 L145.8,501.4 L146.5,500.7 L147.2,501.5 L148.0,502.3 L148.8,502.0 L149.5,501.6 L150.2,500.5 L151.0,499.4 L151.8,500.0 L152.5,500.6 L153.2,500.3 L154.0,500.0 L154.8,500.6 L155.5,501.2 L156.2,501.8 L157.0,502.4 L157.8,502.1 L158.5,501.7 L159.2,501.5 L160.0,501.2 L160.8,499.9 L161.5,498.6 L162.2,499.1 L163.0,499.7 L163.8,500.0 L164.5,500.3 L165.2,500.7 L166.0,501.0 L166.8,500.3 L167.5,499.5 L168.2,500.1 L169.0,500.8 L169.8,500.7 L170.5,500.6 L171.2,499.3 L172.0,498.0 L172.8,498.2 L173.5,498.5 L174.2,499.2 L175.0,500.0 L175.8,499.1 L176.5,498.2 L177.2,498.4 L178.0,498.5 L178.8,499.9 L179.5,501.3 L180.2,501.3 L181.0,501.2 L181.8,501.0 L182.5,500.7 L183.2,500.7 L184.0,500.7 L184.8,500.3 L185.5,500.0 L186.2,499.8 L187.0,499.5 L187.8,499.6 L188.5,499.7 L189.2,500.4 L190.0,501.2 L190.8,501.7 L191.5,502.2 L192.2,501.2 L193.0,500.3 L193.8,500.3 L194.5,500.3 L195.2,500.2 L196.0,500.0 L196.8,499.5 L197.5,499.1 L198.2,500.0 L199.0,500.9 L199.8,501.3 L200.5,501.7 L201.2,500.9 L202.0,500.0 L202.8,500.6 L203.5,501.2 L204.2,500.6 L205.0,500.1 L205.8,501.0 L206.5,501.8 L207.2,502.0 L208.0,502.1 L208.8,500.9 L209.5,499.7 L210.2,498.7 L211.0,497.7 L211.8,498.5 L212.5,499.2 L213.2,498.9 L214.0,498.5 L214.8,498.6 L215.5,498.7 L216.2,499.7 L217.0,500.7 L217.8,501.7 L218.5,502.7 L219.2,501.9 L220.0,501.1 L220.8,500.4 L221.5,499.8 L222.2,498.8 L223.0,497.8 L223.8,498.1 L224.5,498.5 L225.2,498.4 L226.0,498.3 L226.8,499.3 L227.5,500.3 L228.2,499.9 L229.0,499.5 L229.8,499.7 L230.5,499.8 L231.2,499.9 L232.0,499.9 L232.8,499.9 L233.5,499.9 L234.2,500.5 L235.0,501.2 L235.8,500.9 L236.5,500.6 L237.2,499.9 L238.0,499.3 L238.8,499.5 L239.5,499.6 L240.2,499.9 L241.0,500.3 L241.8,500.6 L242.5,500.9 L243.2,500.3 L244.0,499.8 L244.8,500.1 L245.5,500.5 L246.2,499.4 L247.0,498.2 L247.8,498.0 L248.5,497.7 L249.2,497.2 L250.0,496.7 L250.8,497.8 L251.5,498.8 L252.2,497.9 L253.0,497.0 L253.8,497.0 L254.5,496.9 L255.2,497.9 L256.0,498.8 L256.8,498.0 L257.5,497.2 L258.2,497.0 L259.0,496.8 L259.8,497.6 L260.5,498.4 L261.2,498.0 L262.0,497.7 L262.8,498.0 L263.5,498.3 L264.2,497.7 L265.0,497.1 L265.8,497.7 L266.5,498.3 L267.2,498.4 L268.0,498.6 L268.8,498.2 L269.5,497.7 L270.2,498.3 L271.0,499.0 L271.8,497.7 L272.5,496.5 L273.2,496.2 L274.0,496.0 L274.8,496.2 L275.5,496.5 L276.2,496.8 L277.0,497.2 L277.8,496.4 L278.5,495.5 L279.2,495.3 L280.0,495.0 L280.8,495.5 L281.5,496.1 L282.2,496.5 L283.0,497.0 L283.8,495.8 L284.5,494.7 L285.2,494.2 L286.0,493.7 L286.8,494.6 L287.5,495.5 L288.2,496.1 L289.0,496.8 L289.8,496.3 L290.5,495.9 L291.2,495.9 L292.0,495.8 L292.8,494.8 L293.5,493.8 L294.2,494.7 L295.0,495.7 L295.8,496.0 L296.5,496.3 L297.2,496.6 L298.0,496.8 L298.8,496.6 L299.5,496.5 L300.2,496.4 L301.0,496.3 L301.8,495.4 L302.5,494.5 L303.2,495.1 L304.0,495.6 L304.8,494.6 L305.5,493.5 L306.2,494.2 L307.0,494.9 L307.8,496.2 L308.5,497.5 L309.2,497.2 L310.0,497.0 L310.8,495.6 L311.5,494.2 L312.2,495.3 L313.0,496.4 L313.8,496.1 L314.5,495.8 L315.2,495.6 L316.0,495.4 L316.8,496.0 L317.5,496.6 L318.2,496.9 L319.0,497.2 L319.8,497.7 L320.5,498.2 L321.2,496.6 L322.0,495.1 L322.8,495.3 L323.5,495.6 L324.2,495.7 L325.0,495.8 L325.8,495.1 L326.5,494.5 L327.2,496.3 L328.0,498.1 L328.8,498.6 L329.5,499.0 L330.2,497.7 L331.0,496.4 L331.8,496.6 L332.5,496.8 L333.2,496.7 L334.0,496.5 L334.8,496.7 L335.5,496.9 L336.2,496.6 L337.0,496.4 L337.8,497.0 L338.5,497.6 L339.2,497.0 L340.0,496.4 L340.8,497.7 L341.5,499.0 L342.2,499.1 L343.0,499.2 L343.8,500.0 L344.5,500.7 L345.2,498.7 L346.0,496.7 L346.8,497.2 L347.5,497.6 L348.2,497.3 L349.0,497.1 L349.8,497.9 L350.5,498.7 L351.2,499.1 L352.0,499.5 L352.8,498.7 L353.5,497.9 L354.2,497.4 L355.0,496.9 L355.8,497.0 L356.5,497.0 L357.2,498.3 L358.0,499.6 L358.8,500.5 L359.5,501.4 L360.2,501.2 L361.0,501.0 L361.8,500.0 L362.5,499.0 L363.2,498.3 L364.0,497.5 L364.8,497.6 L365.5,497.7 L366.2,497.0 L367.0,496.4 L367.8,496.5 L368.5,496.7 L369.2,498.3 L370.0,499.9 L370.8,499.5 L371.5,499.1 L372.2,499.2 L373.0,499.2 L373.8,498.9 L374.5,497.7 L375.2,495.7 L376.0,493.3 L376.8,491.1 L377.5,489.0 L378.2,486.4 L379.0,483.0 L379.8,478.6 L380.5,468.3 L381.2,458.1 L382.0,449.0 L382.8,437.3 L383.5,420.0 L384.2,409.0 L385.0,400.5 L385.8,392.1 L386.5,383.4 L387.2,375.8 L388.0,370.2 L388.8,365.9 L389.5,363.6 L390.2,362.3 L391.0,361.8 L391.8,362.6 L392.5,364.1 L393.2,366.7 L394.0,371.1 L394.8,376.2 L395.5,382.7 L396.2,389.9 L397.0,396.7 L397.8,402.7 L398.5,408.9 L399.2,416.7 L400.0,430.7 L400.8,441.0 L401.5,448.0 L402.2,455.8 L403.0,462.9 L403.8,467.7 L404.5,471.7 L405.2,475.1 L406.0,478.2 L406.8,480.9 L407.5,483.3 L408.2,485.7 L409.0,488.5 L409.8,491.2 L410.5,493.0 L411.2,494.1 L412.0,495.3 L412.8,495.1 L413.5,494.3 L414.2,493.7 L415.0,493.2 L415.8,494.6 L416.5,496.1 L417.2,496.8 L418.0,497.6 L418.8,497.7 L419.5,497.8 L420.2,498.6 L421.0,499.2 L421.8,499.2 L422.5,499.1 L423.2,498.9 L424.0,498.7 L424.8,497.1 L425.5,495.4 L426.2,494.8 L427.0,494.3 L427.8,494.2 L428.5,494.1 L429.2,493.8 L430.0,493.5 L430.8,494.3 L431.5,495.1 L432.2,494.8 L433.0,494.7 L433.8,494.9 L434.5,495.5 L435.2,497.3 L436.0,499.1 L436.8,499.7 L437.5,500.1 L438.2,500.7 L439.0,501.1 L439.8,501.2 L440.5,501.2 L441.2,500.7 L442.0,500.2 L442.8,500.2 L443.5,500.2 L444.2,500.2 L445.0,500.2 L445.8,499.6 L446.5,499.0 L447.2,499.4 L448.0,499.7 L448.8,500.3 L449.5,500.8 L450.2,500.2 L451.0,499.5 L451.8,498.8 L452.5,498.0 L453.2,499.3 L454.0,500.5 L454.8,498.8 L455.5,497.2 L456.2,497.7 L457.0,498.4 L457.8,498.7 L458.5,499.1 L459.2,499.3 L460.0,499.4 L460.8,498.3 L461.5,497.2 L462.2,497.5 L463.0,497.9 L463.8,498.2 L464.5,498.4 L465.2,499.4 L466.0,500.3 L466.8,500.2 L467.5,500.1 L468.2,500.3 L469.0,500.4 L469.8,500.8 L470.5,501.3 L471.2,502.0 L472.0,502.7 L472.8,502.1 L473.5,501.4 L474.2,501.1 L475.0,500.8 L475.8,499.8 L476.5,498.8 L477.2,499.5 L478.0,500.1 L478.8,499.5 L479.5,498.8 L480.2,500.0 L481.0,501.1 L481.8,500.8 L482.5,500.6 L483.2,499.9 L484.0,499.2 L484.8,499.2 L485.5,499.1 L486.2,499.9 L487.0,500.7 L487.8,501.1 L488.5,501.4 L489.2,501.0 L490.0,500.6 L490.8,500.6 L491.5,500.7 L492.2,500.7 L493.0,500.7 L493.8,500.6 L494.5,500.4 L495.2,500.7 L496.0,500.9 L496.8,501.3 L497.5,501.8 L498.2,502.4 L499.0,503.0 L499.8,502.4 L500.5,501.9 L501.2,501.4 L502.0,500.9 L502.8,502.1 L503.5,503.3 L504.2,503.2 L505.0,503.0 L505.8,502.2 L506.5,501.3 L507.2,501.7 L508.0,502.1 L508.8,501.2 L509.5,500.2 L510.2,499.8 L511.0,499.4 L511.8,499.6 L512.5,499.9 L513.2,501.1 L514.0,502.4 L514.8,501.7 L515.5,501.0 L516.2,500.7 L517.0,500.5 L517.8,500.2 L518.5,499.9 L519.2,499.6 L520.0,499.3 L520.8,499.6 L521.5,500.0 L522.2,500.2 L523.0,500.4 L523.8,500.6 L524.5,500.8 L525.2,499.3 L526.0,497.8 L526.8,498.6 L527.5,499.5 L528.2,498.7 L529.0,498.0 L529.8,496.6 L530.5,495.2 L531.2,496.5 L532.0,498.0 L532.8,498.6 L533.5,499.3 L534.2,498.9 L535.0,498.6 L535.8,497.9 L536.5,497.2 L537.2,496.8 L538.0,496.3 L538.8,495.2 L539.5,494.1 L540.2,495.3 L541.0,496.4 L541.8,497.0 L542.5,498.2 L543.2,498.8" fill="none" stroke="#000000" stroke-width="1.5" stroke-linejoin="round" stroke-linecap="round"/><path d="M86.5,507.4 L87.2,503.0 L88.0,500.1 L88.8,498.7 L89.5,497.6 L90.2,497.1 L91.0,496.7 L91.8,498.5 L92.5,500.4 L93.2,501.4 L94.0,502.5 L94.8,501.8 L95.5,501.1 L96.2,501.1 L97.0,501.1 L97.8,501.1 L98.5,501.0 L99.2,500.3 L100.0,499.7 L100.8,501.2 L101.5,502.8 L102.2,501.2 L103.0,499.5 L103.8,500.2 L104.5,500.9 L105.2,502.1 L106.0,503.4 L106.8,501.8 L107.5,500.2 L108.2,499.8 L109.0,499.4 L109.8,499.1 L110.5,498.7 L111.2,498.9 L112.0,499.2 L112.8,498.0 L113.5,496.8 L114.2,497.8 L115.0,498.9 L115.8,500.5 L116.5,502.1 L117.2,501.4 L118.0,500.7 L118.8,500.4 L119.5,500.0 L120.2,500.3 L121.0,500.7 L121.8,500.8 L122.5,500.9 L123.2,500.8 L124.0,500.7 L124.8,500.6 L125.5,500.5 L126.2,499.4 L127.0,498.3 L127.8,499.3 L128.5,500.3 L129.2,499.9 L130.0,499.6 L130.8,500.2 L131.5,500.8 L132.2,500.3 L133.0,499.9 L133.8,499.2 L134.5,498.5 L135.2,499.0 L136.0,499.4 L136.8,499.3 L137.5,499.1 L138.2,500.3 L139.0,501.4 L139.8,501.2 L140.5,501.0 L141.2,501.1 L142.0,501.2 L142.8,500.4 L143.5,499.6 L144.2,500.8 L145.0,502.0 L145.8,501.4 L146.5,500.7 L147.2,501.5 L148.0,502.3 L148.8,502.0 L149.5,501.6 L150.2,500.5 L151.0,499.4 L151.8,500.0 L152.5,500.6 L153.2,500.3 L154.0,500.0 L154.8,500.6 L155.5,501.2 L156.2,501.8 L157.0,502.4 L157.8,502.1 L158.5,501.7 L159.2,501.5 L160.0,501.2 L160.8,499.9 L161.5,498.6 L162.2,499.1 L163.0,499.7 L163.8,500.0 L164.5,500.3 L165.2,500.7 L166.0,501.0 L166.8,500.3 L167.5,499.5 L168.2,500.1 L169.0,500.8 L169.8,500.7 L170.5,500.6 L171.2,499.3 L172.0,498.0 L172.8,498.2 L173.5,498.5 L174.2,499.2 L175.0,500.0 L175.8,499.1 L176.5,498.2 L177.2,498.4 L178.0,498.5 L178.8,499.9 L179.5,501.3 L180.2,501.3 L181.0,501.2 L181.8,501.0 L182.5,500.7 L183.2,500.7 L184.0,500.7 L184.8,500.3 L185.5,500.0 L186.2,499.8 L187.0,499.5 L187.8,499.6 L188.5,499.7 L189.2,500.4 L190.0,501.2 L190.8,501.7 L191.5,502.2 L192.2,501.2 L193.0,500.3 L193.8,500.3 L194.5,500.3 L195.2,500.2 L196.0,500.0 L196.8,499.5 L197.5,499.1 L198.2,500.0 L199.0,500.9 L199.8,501.3 L200.5,501.7 L201.2,500.9 L202.0,500.0 L202.8,500.6 L203.5,501.2 L204.2,500.6 L205.0,500.1 L205.8,501.0 L206.5,501.8 L207.2,502.0 L208.0,502.1 L208.8,500.9 L209.5,499.7 L210.2,498.7 L211.0,497.7 L211.8,498.5 L212.5,499.2 L213.2,498.9 L214.0,498.5 L214.8,498.6 L215.5,498.7 L216.2,499.7 L217.0,500.7 L217.8,501.7 L218.5,502.7 L219.2,501.9 L220.0,501.1 L220.8,500.4 L221.5,499.8 L222.2,498.8 L223.0,497.8 L223.8,498.1 L224.5,498.5 L225.2,498.4 L226.0,498.3 L226.8,499.3 L227.5,500.3 L228.2,499.9 L229.0,499.5 L229.8,499.7 L230.5,499.8 L231.2,499.9 L232.0,499.9 L232.8,499.9 L233.5,499.9 L234.2,500.5 L235.0,501.2 L235.8,500.9 L236.5,500.6 L237.2,499.9 L238.0,499.3 L238.8,499.5 L239.5,499.6 L240.2,499.9 L241.0,500.3 L241.8,500.6 L242.5,500.9 L243.2,500.3 L244.0,499.8 L244.8,500.1 L245.5,500.5 L246.2,499.4 L247.0,498.2 L247.8,498.0 L248.5,497.7 L249.2,497.2 L250.0,496.7 L250.8,497.8 L251.5,498.8 L252.2,497.9 L253.0,497.0 L253.8,497.0 L254.5,496.9 L255.2,497.9 L256.0,498.8 L256.8,498.0 L257.5,497.2 L258.2,497.0 L259.0,496.8 L259.8,497.6 L260.5,498.4 L261.2,498.0 L262.0,497.7 L262.8,498.0 L263.5,498.3 L264.2,497.7 L265.0,497.1 L265.8,497.7 L266.5,498.3 L267.2,498.4 L268.0,498.6 L268.8,498.2 L269.5,497.7 L270.2,498.3 L271.0,499.0 L271.8,497.7 L272.5,496.5 L273.2,496.2 L274.0,496.0 L274.8,496.2 L275.5,496.5 L276.2,496.8 L277.0,497.2 L277.8,496.4 L278.5,495.5 L279.2,495.3 L280.0,495.0 L280.8,495.5 L281.5,496.1 L282.2,496.5 L283.0,497.0 L283.8,495.8 L284.5,494.7 L285.2,494.2 L286.0,493.7 L286.8,494.6 L287.5,495.5 L288.2,496.1 L289.0,496.8 L289.8,496.3 L290.5,495.9 L291.2,495.9 L292.0,495.8 L292.8,494.8 L293.5,493.8 L294.2,494.7 L295.0,495.7 L295.8,496.0 L296.5,496.3 L297.2,496.6 L298.0,496.8 L298.8,496.6 L299.5,496.5 L300.2,496.4 L301.0,496.3 L301.8,495.4 L302.5,494.5 L303.2,495.1 L304.0,495.6 L304.8,494.6 L305.5,493.5 L306.2,494.2 L307.0,494.9 L307.8,496.2 L308.5,497.5 L309.2,497.2 L310.0,497.0 L310.8,495.6 L311.5,494.2 L312.2,495.3 L313.0,496.4 L313.8,496.1 L314.5,495.8 L315.2,495.6 L316.0,495.4 L316.8,496.0 L317.5,496.6 L318.2,496.9 L319.0,497.2 L319.8,497.7 L320.5,498.2 L321.2,496.6 L322.0,495.1 L322.8,495.3 L323.5,495.6 L324.2,495.7 L325.0,495.8 L325.8,495.1 L326.5,494.5 L327.2,496.3 L328.0,498.1 L328.8,498.6 L329.5,499.0 L330.2,497.7 L331.0,496.4 L331.8,496.6 L332.5,496.8 L333.2,496.7 L334.0,496.5 L334.8,496.7 L335.5,496.9 L336.2,496.6 L337.0,496.4 L337.8,497.0 L338.5,497.6 L339.2,497.0 L340.0,496.4 L340.8,497.7 L341.5,499.0 L342.2,499.1 L343.0,499.2 L343.8,500.0 L344.5,500.7 L345.2,498.7 L346.0,496.7 L346.8,497.2 L347.5,497.6 L348.2,497.3 L349.0,497.1 L349.8,497.9 L350.5,498.7 L351.2,499.1 L352.0,499.5 L352.8,498.7 L353.5,497.9 L354.2,497.4 L355.0,496.9 L355.8,497.0 L356.5,497.0 L357.2,498.3 L358.0,499.6 L358.8,500.5 L359.5,501.4 L360.2,501.2 L361.0,501.0 L361.8,500.0 L362.5,499.0 L363.2,498.3 L364.0,497.5 L364.8,497.6 L365.5,497.7 L366.2,497.0 L367.0,496.4 L367.8,496.5 L368.5,496.7 L369.2,498.3 L370.0,499.9 L370.8,499.5 L371.5,499.1 L372.2,499.2 L373.0,499.2 L373.8,498.9 L374.5,497.7" fill="none" stroke="#000000" stroke-width="1.9" stroke-linejoin="round" stroke-linecap="round"/><path d="M409.0,488.5 L409.8,491.2 L410.5,493.0 L411.2,494.1 L412.0,495.3 L412.8,495.1 L413.5,494.3 L414.2,493.7 L415.0,493.2 L415.8,494.6 L416.5,496.1 L417.2,496.8 L418.0,497.6 L418.8,497.7 L419.5,497.8 L420.2,498.6 L421.0,499.2 L421.8,499.2 L422.5,499.1 L423.2,498.9 L424.0,498.7 L424.8,497.1 L425.5,495.4 L426.2,494.8 L427.0,494.3 L427.8,494.2 L428.5,494.1 L429.2,493.8 L430.0,493.5 L430.8,494.3 L431.5,495.1 L432.2,494.8 L433.0,494.7 L433.8,494.9 L434.5,495.5 L435.2,497.3 L436.0,499.1 L436.8,499.7 L437.5,500.1 L438.2,500.7 L439.0,501.1 L439.8,501.2 L440.5,501.2 L441.2,500.7 L442.0,500.2 L442.8,500.2 L443.5,500.2 L444.2,500.2 L445.0,500.2 L445.8,499.6 L446.5,499.0 L447.2,499.4 L448.0,499.7 L448.8,500.3 L449.5,500.8 L450.2,500.2 L451.0,499.5 L451.8,498.8 L452.5,498.0 L453.2,499.3 L454.0,500.5 L454.8,498.8 L455.5,497.2 L456.2,497.7 L457.0,498.4 L457.8,498.7 L458.5,499.1 L459.2,499.3 L460.0,499.4 L460.8,498.3 L461.5,497.2 L462.2,497.5 L463.0,497.9 L463.8,498.2 L464.5,498.4 L465.2,499.4 L466.0,500.3 L466.8,500.2 L467.5,500.1 L468.2,500.3 L469.0,500.4 L469.8,500.8 L470.5,501.3 L471.2,502.0 L472.0,502.7 L472.8,502.1 L473.5,501.4 L474.2,501.1 L475.0,500.8 L475.8,499.8 L476.5,498.8 L477.2,499.5 L478.0,500.1 L478.8,499.5 L479.5,498.8 L480.2,500.0 L481.0,501.1 L481.8,500.8 L482.5,500.6 L483.2,499.9 L484.0,499.2 L484.8,499.2 L485.5,499.1 L486.2,499.9 L487.0,500.7 L487.8,501.1 L488.5,501.4 L489.2,501.0 L490.0,500.6 L490.8,500.6 L491.5,500.7 L492.2,500.7 L493.0,500.7 L493.8,500.6 L494.5,500.4 L495.2,500.7 L496.0,500.9 L496.8,501.3 L497.5,501.8 L498.2,502.4 L499.0,503.0 L499.8,502.4 L500.5,501.9 L501.2,501.4 L502.0,500.9 L502.8,502.1 L503.5,503.3 L504.2,503.2 L505.0,503.0 L505.8,502.2 L506.5,501.3 L507.2,501.7 L508.0,502.1 L508.8,501.2 L509.5,500.2 L510.2,499.8 L511.0,499.4 L511.8,499.6 L512.5,499.9 L513.2,501.1 L514.0,502.4 L514.8,501.7 L515.5,501.0 L516.2,500.7 L517.0,500.5 L517.8,500.2 L518.5,499.9 L519.2,499.6 L520.0,499.3 L520.8,499.6 L521.5,500.0 L522.2,500.2 L523.0,500.4 L523.8,500.6 L524.5,500.8 L525.2,499.3 L526.0,497.8 L526.8,498.6 L527.5,499.5 L528.2,498.7 L529.0,498.0 L529.8,496.6 L530.5,495.2 L531.2,496.5 L532.0,498.0 L532.8,498.6 L533.5,499.3 L534.2,498.9 L535.0,498.6 L535.8,497.9 L536.5,497.2 L537.2,496.8 L538.0,496.3 L538.8,495.2 L539.5,494.1 L540.2,495.3 L541.0,496.4 L541.8,497.0 L542.5,498.2 L543.2,498.8" fill="none" stroke="#000000" stroke-width="1.9" stroke-linejoin="round" stroke-linecap="round"/>
<line x1="85.7" y1="328.9" x2="85.7" y2="599.5" stroke="#000" stroke-width="2"/>
<line x1="79.5" y1="593.9" x2="543.6" y2="593.9" stroke="#000" stroke-width="1.9"/>
<line x1="79.5" y1="567.4" x2="85.7" y2="567.4" stroke="#000" stroke-width="1.8"/>
<line x1="79.5" y1="541.0" x2="85.7" y2="541.0" stroke="#000" stroke-width="1.8"/>
<text x="75.6" y="548.0" text-anchor="end" class="tk">20</text>
<line x1="79.5" y1="514.6" x2="85.7" y2="514.6" stroke="#000" stroke-width="1.8"/>
<line x1="79.5" y1="488.2" x2="85.7" y2="488.2" stroke="#000" stroke-width="1.8"/>
<text x="75.6" y="495.2" text-anchor="end" class="tk">40</text>
<line x1="79.5" y1="461.8" x2="85.7" y2="461.8" stroke="#000" stroke-width="1.8"/>
<line x1="79.5" y1="435.3" x2="85.7" y2="435.3" stroke="#000" stroke-width="1.8"/>
<text x="75.6" y="442.3" text-anchor="end" class="tk">60</text>
<line x1="79.5" y1="408.9" x2="85.7" y2="408.9" stroke="#000" stroke-width="1.8"/>
<line x1="79.5" y1="382.5" x2="85.7" y2="382.5" stroke="#000" stroke-width="1.8"/>
<text x="75.6" y="389.5" text-anchor="end" class="tk">80</text>
<line x1="79.5" y1="356.1" x2="85.7" y2="356.1" stroke="#000" stroke-width="1.8"/>
<line x1="79.5" y1="329.7" x2="85.7" y2="329.7" stroke="#000" stroke-width="1.8"/>
<text x="75.6" y="336.7" text-anchor="end" class="tk">100</text>
<text x="77.3" y="598.6" text-anchor="end" class="tk">0</text>
<line x1="113.9" y1="593.9" x2="113.9" y2="599.5" stroke="#000" stroke-width="1.8"/>
<line x1="140.1" y1="593.9" x2="140.1" y2="599.5" stroke="#000" stroke-width="1.8"/>
<text x="139.7" y="615.0" text-anchor="middle" class="tk">4</text>
<line x1="166.3" y1="593.9" x2="166.3" y2="599.5" stroke="#000" stroke-width="1.8"/>
<line x1="192.4" y1="593.9" x2="192.4" y2="599.5" stroke="#000" stroke-width="1.8"/>
<text x="193.0" y="615.0" text-anchor="middle" class="tk">8</text>
<line x1="218.6" y1="593.9" x2="218.6" y2="599.5" stroke="#000" stroke-width="1.8"/>
<line x1="244.8" y1="593.9" x2="244.8" y2="599.5" stroke="#000" stroke-width="1.8"/>
<text x="246.7" y="615.0" text-anchor="middle" class="tk">12</text>
<line x1="270.9" y1="593.9" x2="270.9" y2="599.5" stroke="#000" stroke-width="1.8"/>
<line x1="297.1" y1="593.9" x2="297.1" y2="599.5" stroke="#000" stroke-width="1.8"/>
<text x="295.6" y="615.0" text-anchor="middle" class="tk">16</text>
<line x1="323.3" y1="593.9" x2="323.3" y2="599.5" stroke="#000" stroke-width="1.8"/>
<line x1="349.5" y1="593.9" x2="349.5" y2="599.5" stroke="#000" stroke-width="1.8"/>
<text x="349.5" y="615.0" text-anchor="middle" class="tk">20</text>
<line x1="375.6" y1="593.9" x2="375.6" y2="599.5" stroke="#000" stroke-width="1.8"/>
<line x1="401.8" y1="593.9" x2="401.8" y2="599.5" stroke="#000" stroke-width="1.8"/>
<text x="401.7" y="615.0" text-anchor="middle" class="tk">24</text>
<line x1="428.0" y1="593.9" x2="428.0" y2="599.5" stroke="#000" stroke-width="1.8"/>
<line x1="454.1" y1="593.9" x2="454.1" y2="599.5" stroke="#000" stroke-width="1.8"/>
<text x="455.1" y="615.0" text-anchor="middle" class="tk">28</text>
<line x1="480.3" y1="593.9" x2="480.3" y2="599.5" stroke="#000" stroke-width="1.8"/>
<line x1="506.5" y1="593.9" x2="506.5" y2="599.5" stroke="#000" stroke-width="1.8"/>
<text x="508.2" y="615.0" text-anchor="middle" class="tk">32</text>
<line x1="532.6" y1="593.9" x2="532.6" y2="599.5" stroke="#000" stroke-width="1.8"/>
<text x="83.6" y="615.0" text-anchor="middle" class="tk">0</text>
<text x="325.8" y="633.6" text-anchor="middle" class="tt">Time (min)</text>
<text transform="translate(53.8,456.5) rotate(-90)" text-anchor="middle" class="tt">Relative Abundance (%)</text>
<line x1="133.9" y1="337.6" x2="145.8" y2="337.6" stroke="#0f5fc8" stroke-width="2.1"/>
<text x="151.6" y="342.8" class="lg">0 h</text>
<line x1="133.9" y1="359.1" x2="145.9" y2="359.1" stroke="#58c62c" stroke-width="2.1"/>
<text x="151.6" y="364.5" class="lg">2 h</text>
<line x1="134.0" y1="381.9" x2="146.2" y2="381.9" stroke="#ff0000" stroke-width="2.1"/>
<text x="151.6" y="386.0" class="lg">4 h</text>
<line x1="135.0" y1="402.7" x2="147.8" y2="402.7" stroke="#000000" stroke-width="2.3"/>
<text x="151.6" y="407.7" class="lg">6 h</text>
<line x1="135.0" y1="423.5" x2="147.0" y2="423.5" stroke="#ff7a14" stroke-width="2.1"/>
<text x="151.6" y="429.5" class="lg">BLANK</text>
</g>
</svg>
</body></html>
